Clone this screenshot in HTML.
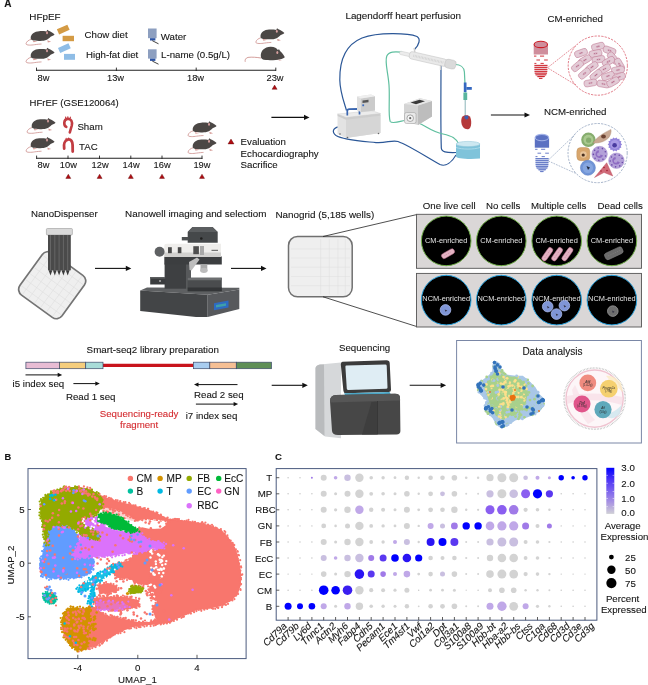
<!DOCTYPE html>
<html><head><meta charset="utf-8"><title>Figure</title>
<style>html,body{margin:0;padding:0;background:#fff;width:648px;height:685px;overflow:hidden}svg{display:block}</style>
</head><body>
<svg width="648" height="685" viewBox="0 0 648 685" fill="#141414" font-family="Liberation Sans, Arial, sans-serif">
<rect width="648" height="685" fill="#fff"/>
<text x="4.3" y="7.3" font-size="10" font-weight="bold" font-family="Liberation Sans, Arial, sans-serif" stroke="#141414" stroke-width="0.1">A</text>
<text x="29.3" y="19.5" font-size="9.9" font-family="Liberation Sans, Arial, sans-serif" stroke="#141414" stroke-width="0.1">HFpEF</text>
<g transform="translate(25.4,29.5) scale(1.020,1.100)"><path d="M5.6,9 C3,9.6 1,11 0.6,13 C0.8,14.6 6,14.3 9,13.8 C12,13.4 14,13.3 15.8,13.2" fill="none" stroke="#c98683" stroke-width="0.7"/><path d="M5.2,8 C5,4 9,1.6 13.6,1.5 C16.5,1.4 19,1.6 20.6,1.8 L21.4,0.3 L22.8,1.2 C25,2 27.5,3.5 28.6,4.6 C27.8,5.6 26,6.2 24.7,6.6 C23.5,8 22,8.8 21,9.4 C19,10.3 17,10.4 14.7,10.4 C11,10.5 8,10.2 6.5,9.6 C5.6,9.2 5.2,8.8 5.2,8 Z" fill="#4b4745"/><ellipse cx="21.2" cy="3" rx="0.9" ry="1.4" fill="#d9a0a0"/><path d="M7.2,10.2 L11.9,10.8 L8,11.6Z M21.5,9.8 L25.2,11.2 L22,11.8Z" fill="#d59a96"/></g>
<g transform="translate(25.4,47.4) scale(1.020,1.100)"><path d="M5.6,9 C3,9.6 1,11 0.6,13 C0.8,14.6 6,14.3 9,13.8 C12,13.4 14,13.3 15.8,13.2" fill="none" stroke="#c98683" stroke-width="0.7"/><path d="M5.2,8 C5,4 9,1.6 13.6,1.5 C16.5,1.4 19,1.6 20.6,1.8 L21.4,0.3 L22.8,1.2 C25,2 27.5,3.5 28.6,4.6 C27.8,5.6 26,6.2 24.7,6.6 C23.5,8 22,8.8 21,9.4 C19,10.3 17,10.4 14.7,10.4 C11,10.5 8,10.2 6.5,9.6 C5.6,9.2 5.2,8.8 5.2,8 Z" fill="#4b4745"/><ellipse cx="21.2" cy="3" rx="0.9" ry="1.4" fill="#d9a0a0"/><path d="M7.2,10.2 L11.9,10.8 L8,11.6Z M21.5,9.8 L25.2,11.2 L22,11.8Z" fill="#d59a96"/></g>
<g transform="translate(255.2,27.9) scale(1.020,1.100)"><path d="M5.6,9 C3,9.6 1,11 0.6,13 C0.8,14.6 6,14.3 9,13.8 C12,13.4 14,13.3 15.8,13.2" fill="none" stroke="#c98683" stroke-width="0.7"/><path d="M5.2,8 C5,4 9,1.6 13.6,1.5 C16.5,1.4 19,1.6 20.6,1.8 L21.4,0.3 L22.8,1.2 C25,2 27.5,3.5 28.6,4.6 C27.8,5.6 26,6.2 24.7,6.6 C23.5,8 22,8.8 21,9.4 C19,10.3 17,10.4 14.7,10.4 C11,10.5 8,10.2 6.5,9.6 C5.6,9.2 5.2,8.8 5.2,8 Z" fill="#4b4745"/><ellipse cx="21.2" cy="3" rx="0.9" ry="1.4" fill="#d9a0a0"/><path d="M7.2,10.2 L11.9,10.8 L8,11.6Z M21.5,9.8 L25.2,11.2 L22,11.8Z" fill="#d59a96"/></g>
<path d="M261,58 C257,57.4 252,56.8 248,57.4 C245.5,58 244.8,60 245.2,61.8" fill="none" stroke="#c98683" stroke-width="0.8"/><path d="M260.8,56 C260.5,51 264.5,46.9 270.5,46.8 C274.5,46.7 276.8,48.2 277.8,50 L279,49.2 L280.3,51.2 C282.5,53.3 284.3,55.5 284.8,57.2 C283.5,58.3 282,58.8 280.5,59.2 C277,60.1 272,60.3 266,60.1 C262.5,59.9 260.8,58.6 260.8,56 Z" fill="#4b4745"/><ellipse cx="277.3" cy="52.4" rx="1" ry="1.5" fill="#d9a0a0"/><path d="M278,59.6 L282,60.4 L279,60.6Z" fill="#d59a96"/>
<rect x="57.5" y="26.8" width="11.5" height="5.6" fill="#d49b45" transform="rotate(-24 63.2 29.6)"/>
<rect x="62.6" y="35.8" width="11.4" height="5.4" fill="#d49b45"/>
<rect x="58.6" y="45.3" width="11.5" height="5.6" fill="#8fbde6" transform="rotate(-24 64.4 48.1)"/>
<rect x="64" y="53.9" width="11" height="5.9" fill="#8fbde6"/>
<text x="84.5" y="38.1" font-size="9.7" font-family="Liberation Sans, Arial, sans-serif" stroke="#141414" stroke-width="0.1">Chow diet</text>
<text x="86" y="58.2" font-size="9.7" font-family="Liberation Sans, Arial, sans-serif" stroke="#141414" stroke-width="0.1">High-fat diet</text>
<rect x="148" y="28.5" width="8.6" height="9.7" fill="#8d9fc0"/>
<rect x="150" y="38.2" width="5.4" height="2.3" fill="#2c53a3"/>
<path d="M152.3,40.7 L158.5,43.8" stroke="#111" stroke-width="0.8"/>
<rect x="148" y="49.3" width="8.6" height="9.3" fill="#8d9fc0"/>
<rect x="150" y="58.6" width="5.4" height="2.3" fill="#2c53a3"/>
<path d="M152.3,61.1 L158.5,64.2" stroke="#111" stroke-width="0.8"/>
<text x="160.8" y="40.1" font-size="9.7" font-family="Liberation Sans, Arial, sans-serif" stroke="#141414" stroke-width="0.1">Water</text>
<text x="161.1" y="57.8" font-size="9.7" font-family="Liberation Sans, Arial, sans-serif" stroke="#141414" stroke-width="0.1">L-name (0.5g/L)</text>
<path d="M36.5,70.3 H276" stroke="#222" stroke-width="1.1"/>
<path d="M36.5,67.6 V71" stroke="#222" stroke-width="0.9"/>
<path d="M116.4,67.6 V71" stroke="#222" stroke-width="0.9"/>
<path d="M196.2,67.6 V71" stroke="#222" stroke-width="0.9"/>
<path d="M275.8,67.6 V71" stroke="#222" stroke-width="0.9"/>
<text x="37.6" y="80.6" font-size="9.3" font-family="Liberation Sans, Arial, sans-serif" stroke="#141414" stroke-width="0.1">8w</text>
<text x="107" y="80.6" font-size="9.3" font-family="Liberation Sans, Arial, sans-serif" stroke="#141414" stroke-width="0.1">13w</text>
<text x="187" y="80.6" font-size="9.3" font-family="Liberation Sans, Arial, sans-serif" stroke="#141414" stroke-width="0.1">18w</text>
<text x="266.5" y="80.6" font-size="9.3" font-family="Liberation Sans, Arial, sans-serif" stroke="#141414" stroke-width="0.1">23w</text>
<path d="M272.10,89.30 L274.60,85.10 L277.10,89.30Z" fill="#b00d12" stroke="#5a0000" stroke-width="0.4"/>
<text x="29.6" y="106.1" font-size="9.55" font-family="Liberation Sans, Arial, sans-serif" stroke="#141414" stroke-width="0.1">HFrEF (GSE120064)</text>
<g transform="translate(26.4,117.7) scale(1.020,1.100)"><path d="M5.6,9 C3,9.6 1,11 0.6,13 C0.8,14.6 6,14.3 9,13.8 C12,13.4 14,13.3 15.8,13.2" fill="none" stroke="#c98683" stroke-width="0.7"/><path d="M5.2,8 C5,4 9,1.6 13.6,1.5 C16.5,1.4 19,1.6 20.6,1.8 L21.4,0.3 L22.8,1.2 C25,2 27.5,3.5 28.6,4.6 C27.8,5.6 26,6.2 24.7,6.6 C23.5,8 22,8.8 21,9.4 C19,10.3 17,10.4 14.7,10.4 C11,10.5 8,10.2 6.5,9.6 C5.6,9.2 5.2,8.8 5.2,8 Z" fill="#4b4745"/><ellipse cx="21.2" cy="3" rx="0.9" ry="1.4" fill="#d9a0a0"/><path d="M7.2,10.2 L11.9,10.8 L8,11.6Z M21.5,9.8 L25.2,11.2 L22,11.8Z" fill="#d59a96"/></g>
<g transform="translate(25.4,136.7) scale(1.020,1.100)"><path d="M5.6,9 C3,9.6 1,11 0.6,13 C0.8,14.6 6,14.3 9,13.8 C12,13.4 14,13.3 15.8,13.2" fill="none" stroke="#c98683" stroke-width="0.7"/><path d="M5.2,8 C5,4 9,1.6 13.6,1.5 C16.5,1.4 19,1.6 20.6,1.8 L21.4,0.3 L22.8,1.2 C25,2 27.5,3.5 28.6,4.6 C27.8,5.6 26,6.2 24.7,6.6 C23.5,8 22,8.8 21,9.4 C19,10.3 17,10.4 14.7,10.4 C11,10.5 8,10.2 6.5,9.6 C5.6,9.2 5.2,8.8 5.2,8 Z" fill="#4b4745"/><ellipse cx="21.2" cy="3" rx="0.9" ry="1.4" fill="#d9a0a0"/><path d="M7.2,10.2 L11.9,10.8 L8,11.6Z M21.5,9.8 L25.2,11.2 L22,11.8Z" fill="#d59a96"/></g>
<g transform="translate(187.4,121) scale(1.020,1.100)"><path d="M5.6,9 C3,9.6 1,11 0.6,13 C0.8,14.6 6,14.3 9,13.8 C12,13.4 14,13.3 15.8,13.2" fill="none" stroke="#c98683" stroke-width="0.7"/><path d="M5.2,8 C5,4 9,1.6 13.6,1.5 C16.5,1.4 19,1.6 20.6,1.8 L21.4,0.3 L22.8,1.2 C25,2 27.5,3.5 28.6,4.6 C27.8,5.6 26,6.2 24.7,6.6 C23.5,8 22,8.8 21,9.4 C19,10.3 17,10.4 14.7,10.4 C11,10.5 8,10.2 6.5,9.6 C5.6,9.2 5.2,8.8 5.2,8 Z" fill="#4b4745"/><ellipse cx="21.2" cy="3" rx="0.9" ry="1.4" fill="#d9a0a0"/><path d="M7.2,10.2 L11.9,10.8 L8,11.6Z M21.5,9.8 L25.2,11.2 L22,11.8Z" fill="#d59a96"/></g>
<g transform="translate(187.4,137.9) scale(1.020,1.100)"><path d="M5.6,9 C3,9.6 1,11 0.6,13 C0.8,14.6 6,14.3 9,13.8 C12,13.4 14,13.3 15.8,13.2" fill="none" stroke="#c98683" stroke-width="0.7"/><path d="M5.2,8 C5,4 9,1.6 13.6,1.5 C16.5,1.4 19,1.6 20.6,1.8 L21.4,0.3 L22.8,1.2 C25,2 27.5,3.5 28.6,4.6 C27.8,5.6 26,6.2 24.7,6.6 C23.5,8 22,8.8 21,9.4 C19,10.3 17,10.4 14.7,10.4 C11,10.5 8,10.2 6.5,9.6 C5.6,9.2 5.2,8.8 5.2,8 Z" fill="#4b4745"/><ellipse cx="21.2" cy="3" rx="0.9" ry="1.4" fill="#d9a0a0"/><path d="M7.2,10.2 L11.9,10.8 L8,11.6Z M21.5,9.8 L25.2,11.2 L22,11.8Z" fill="#d59a96"/></g>
<path d="M66.3,126.8 C63.3,125.3 63.6,119.5 67.4,118.9 C71.3,118.3 72.6,122 71.8,125.5 L69.8,132.4" fill="none" stroke="#c23c42" stroke-width="2.6" stroke-linecap="round"/>
<path d="M65.8,118.5 L65.5,116.6 M67.8,118 L67.9,116.4 M70,118.4 L70.6,116.8" stroke="#c23c42" stroke-width="1.1"/>
<path d="M64.2,148.5 C63.4,144 64.8,140.4 67.8,139.6 C71.2,138.8 72.6,141.8 72.6,145 L72.7,151.6" fill="none" stroke="#c23c42" stroke-width="2.8" stroke-linecap="round"/>
<path d="M66.4,139.6 L66,137.8 M68.5,139.2 L68.7,137.6" stroke="#c23c42" stroke-width="1.1"/>
<text x="77.4" y="130.2" font-size="9.7" font-family="Liberation Sans, Arial, sans-serif" stroke="#141414" stroke-width="0.1">Sham</text>
<text x="79" y="150" font-size="9.7" font-family="Liberation Sans, Arial, sans-serif" stroke="#141414" stroke-width="0.1">TAC</text>
<path d="M36.5,158.3 H202.3" stroke="#222" stroke-width="1.1"/>
<path d="M36.6,155.6 V159" stroke="#222" stroke-width="0.9"/>
<path d="M68,155.6 V159" stroke="#222" stroke-width="0.9"/>
<path d="M99.5,155.6 V159" stroke="#222" stroke-width="0.9"/>
<path d="M130.8,155.6 V159" stroke="#222" stroke-width="0.9"/>
<path d="M162,155.6 V159" stroke="#222" stroke-width="0.9"/>
<path d="M202,155.6 V159" stroke="#222" stroke-width="0.9"/>
<text x="37.6" y="168.4" font-size="9.3" font-family="Liberation Sans, Arial, sans-serif" stroke="#141414" stroke-width="0.1">8w</text>
<text x="59.8" y="168.4" font-size="9.3" font-family="Liberation Sans, Arial, sans-serif" stroke="#141414" stroke-width="0.1">10w</text>
<text x="91.6" y="168.4" font-size="9.3" font-family="Liberation Sans, Arial, sans-serif" stroke="#141414" stroke-width="0.1">12w</text>
<text x="122.6" y="168.4" font-size="9.3" font-family="Liberation Sans, Arial, sans-serif" stroke="#141414" stroke-width="0.1">14w</text>
<text x="153.6" y="168.4" font-size="9.3" font-family="Liberation Sans, Arial, sans-serif" stroke="#141414" stroke-width="0.1">16w</text>
<text x="193.4" y="168.4" font-size="9.3" font-family="Liberation Sans, Arial, sans-serif" stroke="#141414" stroke-width="0.1">19w</text>
<path d="M65.80,178.40 L68.30,174.20 L70.80,178.40Z" fill="#b00d12" stroke="#5a0000" stroke-width="0.4"/>
<path d="M97.10,178.40 L99.60,174.20 L102.10,178.40Z" fill="#b00d12" stroke="#5a0000" stroke-width="0.4"/>
<path d="M128.30,178.40 L130.80,174.20 L133.30,178.40Z" fill="#b00d12" stroke="#5a0000" stroke-width="0.4"/>
<path d="M159.50,178.40 L162.00,174.20 L164.50,178.40Z" fill="#b00d12" stroke="#5a0000" stroke-width="0.4"/>
<path d="M199.50,178.40 L202.00,174.20 L204.50,178.40Z" fill="#b00d12" stroke="#5a0000" stroke-width="0.4"/>
<path d="M228.00,143.90 L231.00,139.10 L234.00,143.90Z" fill="#b00d12" stroke="#5a0000" stroke-width="0.4"/>
<text x="240.6" y="145.1" font-size="9.7" font-family="Liberation Sans, Arial, sans-serif" stroke="#141414" stroke-width="0.1">Evaluation</text>
<text x="240.6" y="156.7" font-size="9.7" font-family="Liberation Sans, Arial, sans-serif" stroke="#141414" stroke-width="0.1">Echocardiography</text>
<text x="240.6" y="168.3" font-size="9.7" font-family="Liberation Sans, Arial, sans-serif" stroke="#141414" stroke-width="0.1">Sacrifice</text>
<path d="M271.4,117.4 H304.5" stroke="#111" stroke-width="1.1"/><path d="M309.5,117.4 L304.0,114.80000000000001 L304.0,120.0Z" fill="#111"/>
<text x="345.4" y="19.3" font-size="9.9" font-family="Liberation Sans, Arial, sans-serif" stroke="#141414" stroke-width="0.1">Lagendorff heart perfusion</text>
<path d="M346.5,110.5 C344,102 340,92 339.8,80 C339.5,62 345,45 362,38 C378,32 408,33 417,36.5 C421,39 419,45 414.5,49.5" fill="none" stroke="#2b5797" stroke-width="1.2"/>
<path d="M338.5,126.8 C333,128 331.5,132 336,135.5 C343,140 360,141 376,142.6 C386,143.5 392,139.5 398,141.5 C410,146 428,158 440,164.5 C446,167 452,162 456,155" fill="none" stroke="#2b5797" stroke-width="1.2"/>
<path d="M441,65 C441,90 440.5,125 441.3,148 C441.5,152 446,152.8 456,152.5" fill="none" stroke="#2b5797" stroke-width="1.2"/>
<path d="M402,52.2 C396,51.8 389,51 386.8,56 C384.5,62 388,72 389,85 C390,100 388,115 390.2,121.5 C392,124 398,122 404.5,120.5" fill="none" stroke="#5fbf9f" stroke-width="1.2"/>
<path d="M455.5,64.5 C460,64.5 464,67 464.4,72 L465,84" fill="none" stroke="#5fbf9f" stroke-width="1.2"/>
<path d="M418.5,123 C426,126 432,132 443,134 C452,136 456,138 459,144.5" fill="none" stroke="#5fbf9f" stroke-width="1.2"/>
<g transform="rotate(12.9 428 59)"><rect x="399" y="57.4" width="12" height="3.4" rx="1.2" fill="#ececec" stroke="#c6c6c6" stroke-width="0.45"/><rect x="409" y="55.3" width="38" height="7.4" rx="2.6" fill="#e9e9e9" stroke="#c2c2c2" stroke-width="0.5"/><path d="M413,59 H444" stroke="#d0d0d0" stroke-width="2.4" stroke-dasharray="0.7 0.8"/><rect x="445.5" y="54.6" width="11" height="8.8" rx="3" fill="#dadada" stroke="#bdbdbd" stroke-width="0.5"/></g>
<path d="M414.2,47.8 L414.8,52.2" stroke="#cfcfcf" stroke-width="1.5"/>
<path d="M440.6,65.5 V70" stroke="#cfcfcf" stroke-width="1.5"/>
<path d="M465.2,92 V116" stroke="#8ab4b8" stroke-width="1"/>
<rect x="463.8" y="82.5" width="2.7" height="9.5" fill="#3467c0"/>
<rect x="466.4" y="87" width="5.4" height="2.8" fill="#3467c0"/>
<rect x="463.4" y="92.5" width="3.8" height="7.5" fill="#5ab59e"/>
<path d="M462.6,116.5 C460.5,119 461,124 463,127 C465,129.5 468.5,130 470,128 C471.8,125 471.5,119 469.8,116.5 C468,114.8 464.5,114.8 462.6,116.5Z" fill="#b5393a"/>
<path d="M464.5,116 C464,118 465.5,120 467,119.5 C469,118.5 468.5,116 467.5,115.5Z" fill="#3c5eb0"/>
<path d="M456,144 V156.2 C456,158.6 468,159.6 480,158.6 V144 Z" fill="#7fc3da"/>
<ellipse cx="468" cy="144" rx="12" ry="2.6" fill="#cde8f1" stroke="#9acbdc" stroke-width="0.6"/>
<path d="M456,147.5 C462,149.6 474,149.6 480,147.5" fill="none" stroke="#b5e0ee" stroke-width="0.8"/>
<path d="M337.5,115.5 L375,113 L380.5,115 L380.5,133 L346,138 L337.5,134 Z" fill="#e3e3e3"/>
<path d="M346,119 L380.5,115.5 L380.5,133 L346,138 Z" fill="#d6d6d6"/>
<path d="M337.5,114 L372,110.8 L380.5,113.5 L346,117.5 Z" fill="#ececec" stroke="#c8c8c8" stroke-width="0.4"/>
<path d="M337.5,114 L346,117.5 L380.5,113.5 L380.5,115.8 L346,119.8 L337.5,116 Z" fill="#cdcdcd"/>
<circle cx="340" cy="134" r="0.8" fill="#666"/><circle cx="347.5" cy="137.6" r="0.8" fill="#666"/><circle cx="378.5" cy="133.5" r="0.8" fill="#666"/>
<path d="M347.3,115.5 V111 Q347.3,109.3 349.3,109.2 L357.5,108.8 Q359.5,108.8 359.5,110.8 V114.5" fill="none" stroke="#3a66b0" stroke-width="1.7"/>
<path d="M357,96.5 L371,94.6 L375,96.3 L375,110.5 L361,112 L357,110.5 Z" fill="#dedede"/>
<path d="M361,98.4 L375,96.3 L375,110.5 L361,112 Z" fill="#cbcbcb"/>
<path d="M357,96.5 L371,94.6 L375,96.3 L361,98.4 Z" fill="#efefef"/>
<rect x="362.5" y="100.5" width="6" height="2.5" fill="#555" transform="skewY(-8)" transform-origin="362.5 100.5"/>
<rect x="362.3" y="104.4" width="1.8" height="1.8" fill="#3b6cc0"/>
<path d="M404,104 L420,98.2 L432,101 L432,116.5 L418,125 L404,121.5 Z" fill="#d4d4d4"/>
<path d="M418,105.5 L432,101 L432,116.5 L418,125 Z" fill="#bdbdbd"/>
<path d="M404,104 L420,98.2 L432,101 L418,105.5 Z" fill="#e6e6e6"/>
<path d="M410.5,102.6 L419.5,99.7 L425,101.3 L416,104.2 Z" fill="#3a3a3a"/>
<rect x="404.5" y="112.5" width="11.5" height="11" rx="2" fill="#e9e9e9" stroke="#999" stroke-width="0.5"/>
<circle cx="410.2" cy="118.2" r="3.3" fill="#f5f5f5" stroke="#777" stroke-width="0.6"/>
<circle cx="410.2" cy="118.2" r="1.1" fill="#666"/>
<path d="M490.9,115 H525.0" stroke="#111" stroke-width="1.1"/><path d="M530,115 L524.5,112.4 L524.5,117.6Z" fill="#111"/>
<text x="547.5" y="22.4" font-size="9.7" font-family="Liberation Sans, Arial, sans-serif" stroke="#141414" stroke-width="0.1">CM-enriched</text>
<text x="544" y="115" font-size="9.7" font-family="Liberation Sans, Arial, sans-serif" stroke="#141414" stroke-width="0.1">NCM-enriched</text>
<rect x="533.6999999999999" y="44.4" width="14.3" height="10.1" fill="#cf8e9c"/><ellipse cx="540.8" cy="44.4" rx="6.7" ry="3.2" fill="#cf8e9c" stroke="#cc1c25" stroke-width="1.1"/><path d="M534.0,56.1 H536.4" stroke="#cc1c25" stroke-width="0.9"/><path d="M540.0,56.1 H544.1" stroke="#cc1c25" stroke-width="0.9"/><path d="M536.4,60.0 H540.0" stroke="#cc1c25" stroke-width="0.9"/><path d="M544.1,60.0 H547.8" stroke="#cc1c25" stroke-width="0.9"/><path d="M534.4,63.4 H536.4" stroke="#cc1c25" stroke-width="0.9"/><path d="M540.5,63.4 H543.8" stroke="#cc1c25" stroke-width="0.9"/><path d="M534.1999999999999,64.7 H547.5999999999999 L547.1999999999999,73.4 C545.8,76.4 542.8,78.9 540.8,79.0 C538.8,78.9 535.8,76.4 534.5999999999999,73.4 Z" fill="#f1d3d8"/><path d="M534.4,65.4 H547.5" stroke="#cc1c25" stroke-width="0.95"/><path d="M534.4,67.4 H547.5" stroke="#cc1c25" stroke-width="0.95"/><path d="M534.4,69.4 H547.4" stroke="#cc1c25" stroke-width="0.95"/><path d="M534.5,71.4 H547.3" stroke="#cc1c25" stroke-width="0.95"/><path d="M534.8,73.2 H547.0" stroke="#cc1c25" stroke-width="0.95"/><path d="M535.5,74.8 H546.3" stroke="#cc1c25" stroke-width="0.95"/><path d="M537.4,76.5 H544.8" stroke="#cc1c25" stroke-width="0.95"/><path d="M539.0,78.4 H542.4" stroke="#cc1c25" stroke-width="0.95"/>
<rect x="534.8" y="137.6" width="14.3" height="10.1" fill="#5b71c2"/><ellipse cx="541.9" cy="137.6" rx="6.7" ry="3.2" fill="#5b71c2" stroke="#a3b3e8" stroke-width="1.1"/><path d="M535.1,149.3 H537.5" stroke="#5b71c2" stroke-width="0.9"/><path d="M541.1,149.3 H545.2" stroke="#5b71c2" stroke-width="0.9"/><path d="M537.5,153.2 H541.1" stroke="#5b71c2" stroke-width="0.9"/><path d="M545.2,153.2 H548.9" stroke="#5b71c2" stroke-width="0.9"/><path d="M535.5,156.6 H537.5" stroke="#5b71c2" stroke-width="0.9"/><path d="M541.6,156.6 H544.9" stroke="#5b71c2" stroke-width="0.9"/><path d="M535.3,157.9 H548.6999999999999 L548.3,166.6 C546.9,169.6 543.9,172.1 541.9,172.2 C539.9,172.1 536.9,169.6 535.6999999999999,166.6 Z" fill="#c9d2f0"/><path d="M535.5,158.6 H548.6" stroke="#5b71c2" stroke-width="0.95"/><path d="M535.5,160.6 H548.6" stroke="#5b71c2" stroke-width="0.95"/><path d="M535.5,162.6 H548.5" stroke="#5b71c2" stroke-width="0.95"/><path d="M535.6,164.6 H548.4" stroke="#5b71c2" stroke-width="0.95"/><path d="M535.9,166.4 H548.1" stroke="#5b71c2" stroke-width="0.95"/><path d="M536.6,168.0 H547.4" stroke="#5b71c2" stroke-width="0.95"/><path d="M538.5,169.7 H545.9" stroke="#5b71c2" stroke-width="0.95"/><path d="M540.1,171.6 H543.5" stroke="#5b71c2" stroke-width="0.95"/>
<circle cx="597.8" cy="65.6" r="29.6" fill="none" stroke="#d44454" stroke-width="0.7" stroke-dasharray="2.2 1.2"/>
<path d="M548.2,67.2 L575.6,45.6 M548.2,68.2 L576.8,85.6" stroke="#d44454" stroke-width="0.6" stroke-dasharray="1.8 1"/>
<g transform="translate(598,46.5) rotate(-15)"><rect x="-6.5" y="-3.3" width="13" height="6.6" rx="2.6" fill="#e3cbd6" stroke="#c27d96" stroke-width="0.55"/><ellipse cx="0" cy="0" rx="2.3" ry="1.1" fill="#d6a9bc"/><circle cx="-0.9" cy="0" r="0.45" fill="#a05070"/><circle cx="0.9" cy="0" r="0.45" fill="#a05070"/></g>
<g transform="translate(609.5,50.5) rotate(20)"><rect x="-6.5" y="-3.3" width="13" height="6.6" rx="2.6" fill="#e3cbd6" stroke="#c27d96" stroke-width="0.55"/><ellipse cx="0" cy="0" rx="2.3" ry="1.1" fill="#d6a9bc"/><circle cx="-0.9" cy="0" r="0.45" fill="#a05070"/><circle cx="0.9" cy="0" r="0.45" fill="#a05070"/></g>
<g transform="translate(581,53) rotate(-20)"><rect x="-6.5" y="-3.3" width="13" height="6.6" rx="2.6" fill="#e3cbd6" stroke="#c27d96" stroke-width="0.55"/><ellipse cx="0" cy="0" rx="2.3" ry="1.1" fill="#d6a9bc"/><circle cx="-0.9" cy="0" r="0.45" fill="#a05070"/><circle cx="0.9" cy="0" r="0.45" fill="#a05070"/></g>
<g transform="translate(595.5,53.5) rotate(-10)"><rect x="-6.5" y="-3.3" width="13" height="6.6" rx="2.6" fill="#e3cbd6" stroke="#c27d96" stroke-width="0.55"/><ellipse cx="0" cy="0" rx="2.3" ry="1.1" fill="#d6a9bc"/><circle cx="-0.9" cy="0" r="0.45" fill="#a05070"/><circle cx="0.9" cy="0" r="0.45" fill="#a05070"/></g>
<g transform="translate(613,58) rotate(50)"><rect x="-6.5" y="-3.3" width="13" height="6.6" rx="2.6" fill="#e3cbd6" stroke="#c27d96" stroke-width="0.55"/><ellipse cx="0" cy="0" rx="2.3" ry="1.1" fill="#d6a9bc"/><circle cx="-0.9" cy="0" r="0.45" fill="#a05070"/><circle cx="0.9" cy="0" r="0.45" fill="#a05070"/></g>
<g transform="translate(585,60) rotate(-30)"><rect x="-6.5" y="-3.3" width="13" height="6.6" rx="2.6" fill="#e3cbd6" stroke="#c27d96" stroke-width="0.55"/><ellipse cx="0" cy="0" rx="2.3" ry="1.1" fill="#d6a9bc"/><circle cx="-0.9" cy="0" r="0.45" fill="#a05070"/><circle cx="0.9" cy="0" r="0.45" fill="#a05070"/></g>
<g transform="translate(598.5,59.5) rotate(-10)"><rect x="-6.5" y="-3.3" width="13" height="6.6" rx="2.6" fill="#e3cbd6" stroke="#c27d96" stroke-width="0.55"/><ellipse cx="0" cy="0" rx="2.3" ry="1.1" fill="#d6a9bc"/><circle cx="-0.9" cy="0" r="0.45" fill="#a05070"/><circle cx="0.9" cy="0" r="0.45" fill="#a05070"/></g>
<g transform="translate(608.5,61.5) rotate(-30)"><rect x="-6.5" y="-3.3" width="13" height="6.6" rx="2.6" fill="#e3cbd6" stroke="#c27d96" stroke-width="0.55"/><ellipse cx="0" cy="0" rx="2.3" ry="1.1" fill="#d6a9bc"/><circle cx="-0.9" cy="0" r="0.45" fill="#a05070"/><circle cx="0.9" cy="0" r="0.45" fill="#a05070"/></g>
<g transform="translate(619.5,64.5) rotate(60)"><rect x="-6.5" y="-3.3" width="13" height="6.6" rx="2.6" fill="#e3cbd6" stroke="#c27d96" stroke-width="0.55"/><ellipse cx="0" cy="0" rx="2.3" ry="1.1" fill="#d6a9bc"/><circle cx="-0.9" cy="0" r="0.45" fill="#a05070"/><circle cx="0.9" cy="0" r="0.45" fill="#a05070"/></g>
<g transform="translate(577.5,66) rotate(-40)"><rect x="-6.5" y="-3.3" width="13" height="6.6" rx="2.6" fill="#e3cbd6" stroke="#c27d96" stroke-width="0.55"/><ellipse cx="0" cy="0" rx="2.3" ry="1.1" fill="#d6a9bc"/><circle cx="-0.9" cy="0" r="0.45" fill="#a05070"/><circle cx="0.9" cy="0" r="0.45" fill="#a05070"/></g>
<g transform="translate(592,67) rotate(-35)"><rect x="-6.5" y="-3.3" width="13" height="6.6" rx="2.6" fill="#e3cbd6" stroke="#c27d96" stroke-width="0.55"/><ellipse cx="0" cy="0" rx="2.3" ry="1.1" fill="#d6a9bc"/><circle cx="-0.9" cy="0" r="0.45" fill="#a05070"/><circle cx="0.9" cy="0" r="0.45" fill="#a05070"/></g>
<g transform="translate(604.5,69) rotate(-30)"><rect x="-6.5" y="-3.3" width="13" height="6.6" rx="2.6" fill="#e3cbd6" stroke="#c27d96" stroke-width="0.55"/><ellipse cx="0" cy="0" rx="2.3" ry="1.1" fill="#d6a9bc"/><circle cx="-0.9" cy="0" r="0.45" fill="#a05070"/><circle cx="0.9" cy="0" r="0.45" fill="#a05070"/></g>
<g transform="translate(618,70) rotate(-10)"><rect x="-6.5" y="-3.3" width="13" height="6.6" rx="2.6" fill="#e3cbd6" stroke="#c27d96" stroke-width="0.55"/><ellipse cx="0" cy="0" rx="2.3" ry="1.1" fill="#d6a9bc"/><circle cx="-0.9" cy="0" r="0.45" fill="#a05070"/><circle cx="0.9" cy="0" r="0.45" fill="#a05070"/></g>
<g transform="translate(584.5,73.5) rotate(-40)"><rect x="-6.5" y="-3.3" width="13" height="6.6" rx="2.6" fill="#e3cbd6" stroke="#c27d96" stroke-width="0.55"/><ellipse cx="0" cy="0" rx="2.3" ry="1.1" fill="#d6a9bc"/><circle cx="-0.9" cy="0" r="0.45" fill="#a05070"/><circle cx="0.9" cy="0" r="0.45" fill="#a05070"/></g>
<g transform="translate(596,75) rotate(-40)"><rect x="-6.5" y="-3.3" width="13" height="6.6" rx="2.6" fill="#e3cbd6" stroke="#c27d96" stroke-width="0.55"/><ellipse cx="0" cy="0" rx="2.3" ry="1.1" fill="#d6a9bc"/><circle cx="-0.9" cy="0" r="0.45" fill="#a05070"/><circle cx="0.9" cy="0" r="0.45" fill="#a05070"/></g>
<g transform="translate(608,76) rotate(-20)"><rect x="-6.5" y="-3.3" width="13" height="6.6" rx="2.6" fill="#e3cbd6" stroke="#c27d96" stroke-width="0.55"/><ellipse cx="0" cy="0" rx="2.3" ry="1.1" fill="#d6a9bc"/><circle cx="-0.9" cy="0" r="0.45" fill="#a05070"/><circle cx="0.9" cy="0" r="0.45" fill="#a05070"/></g>
<g transform="translate(619,77) rotate(-20)"><rect x="-6.5" y="-3.3" width="13" height="6.6" rx="2.6" fill="#e3cbd6" stroke="#c27d96" stroke-width="0.55"/><ellipse cx="0" cy="0" rx="2.3" ry="1.1" fill="#d6a9bc"/><circle cx="-0.9" cy="0" r="0.45" fill="#a05070"/><circle cx="0.9" cy="0" r="0.45" fill="#a05070"/></g>
<g transform="translate(590.5,83) rotate(-10)"><rect x="-6.5" y="-3.3" width="13" height="6.6" rx="2.6" fill="#e3cbd6" stroke="#c27d96" stroke-width="0.55"/><ellipse cx="0" cy="0" rx="2.3" ry="1.1" fill="#d6a9bc"/><circle cx="-0.9" cy="0" r="0.45" fill="#a05070"/><circle cx="0.9" cy="0" r="0.45" fill="#a05070"/></g>
<g transform="translate(603.5,84) rotate(10)"><rect x="-6.5" y="-3.3" width="13" height="6.6" rx="2.6" fill="#e3cbd6" stroke="#c27d96" stroke-width="0.55"/><ellipse cx="0" cy="0" rx="2.3" ry="1.1" fill="#d6a9bc"/><circle cx="-0.9" cy="0" r="0.45" fill="#a05070"/><circle cx="0.9" cy="0" r="0.45" fill="#a05070"/></g>
<g transform="translate(613,82) rotate(-30)"><rect x="-6.5" y="-3.3" width="13" height="6.6" rx="2.6" fill="#e3cbd6" stroke="#c27d96" stroke-width="0.55"/><ellipse cx="0" cy="0" rx="2.3" ry="1.1" fill="#d6a9bc"/><circle cx="-0.9" cy="0" r="0.45" fill="#a05070"/><circle cx="0.9" cy="0" r="0.45" fill="#a05070"/></g>
<circle cx="597.6" cy="153.1" r="29.6" fill="none" stroke="#7f93b3" stroke-width="0.7" stroke-dasharray="2.2 1.2"/>
<path d="M548.4,160 L575.2,134.5 M548.4,161 L576,173.5" stroke="#7f93b3" stroke-width="0.6" stroke-dasharray="1.8 1"/>
<circle cx="588.4" cy="139.8" r="7.2" fill="#86ad6e"/><circle cx="588.4" cy="139.8" r="5" fill="#a9c98f"/><circle cx="588.6" cy="140.2" r="2.6" fill="#86ad6e"/>
<path d="M593,143 C596,138 603,133 611,129.5 C611.5,132 610.5,135.5 608.5,138 C605,141.5 599,143.5 593,143Z" fill="#c9a892" stroke="#a88870" stroke-width="0.4"/><ellipse cx="603.5" cy="136.5" rx="2.4" ry="2" fill="#6d4332"/>
<polygon points="622.10,144.40 620.75,145.74 621.39,147.52 619.59,148.14 619.39,150.03 617.50,149.81 616.50,151.42 614.90,150.40 613.30,151.42 612.30,149.81 610.41,150.03 610.21,148.14 608.41,147.52 609.05,145.74 607.70,144.40 609.05,143.06 608.41,141.28 610.21,140.66 610.41,138.77 612.30,138.99 613.30,137.38 614.90,138.40 616.50,137.38 617.50,138.99 619.39,138.77 619.59,140.66 621.39,141.28 620.75,143.06" fill="#9485dc"/><circle cx="614.9" cy="144.4" r="4.5" fill="#a99be6"/><circle cx="614.6" cy="145.2" r="2.3" fill="#4a3ca0"/>
<rect x="576.8" y="147.5" width="13" height="13.2" rx="4" fill="#d8a66d" stroke="#b88a55" stroke-width="0.4"/><circle cx="583.4" cy="154.6" r="3.3" fill="#e8c49a"/><circle cx="583.2" cy="155" r="1.6" fill="#4a3020"/>
<circle cx="599.6" cy="154.1" r="7.8" fill="#b3a0d8" stroke="#9a84c8" stroke-width="0.4"/><path d="M598.6,150.1 A4,4 0 1,0 603.1,155.6 L600.6,154.6 A1.8,1.8 0 1,1 599.1,152.6 Z" fill="#8e6cc2"/>
<circle cx="605.52" cy="155.93" r="0.8" fill="#6a4aa8"/>
<circle cx="602.96" cy="159.31" r="0.8" fill="#6a4aa8"/>
<circle cx="598.82" cy="160.25" r="0.8" fill="#6a4aa8"/>
<circle cx="595.05" cy="158.31" r="0.8" fill="#6a4aa8"/>
<circle cx="593.41" cy="154.40" r="0.8" fill="#6a4aa8"/>
<circle cx="594.66" cy="150.35" r="0.8" fill="#6a4aa8"/>
<circle cx="598.23" cy="148.05" r="0.8" fill="#6a4aa8"/>
<circle cx="602.43" cy="148.59" r="0.8" fill="#6a4aa8"/>
<circle cx="605.32" cy="151.70" r="0.8" fill="#6a4aa8"/>
<circle cx="616.4" cy="160.7" r="7.8" fill="#b3a0d8" stroke="#9a84c8" stroke-width="0.4"/><path d="M615.4,156.7 A4,4 0 1,0 619.9,162.2 L617.4,161.2 A1.8,1.8 0 1,1 615.9,159.2 Z" fill="#8e6cc2"/>
<circle cx="622.32" cy="162.53" r="0.8" fill="#6a4aa8"/>
<circle cx="619.76" cy="165.91" r="0.8" fill="#6a4aa8"/>
<circle cx="615.62" cy="166.85" r="0.8" fill="#6a4aa8"/>
<circle cx="611.85" cy="164.91" r="0.8" fill="#6a4aa8"/>
<circle cx="610.21" cy="161.00" r="0.8" fill="#6a4aa8"/>
<circle cx="611.46" cy="156.95" r="0.8" fill="#6a4aa8"/>
<circle cx="615.03" cy="154.65" r="0.8" fill="#6a4aa8"/>
<circle cx="619.23" cy="155.19" r="0.8" fill="#6a4aa8"/>
<circle cx="622.12" cy="158.30" r="0.8" fill="#6a4aa8"/>
<circle cx="587.9" cy="167.8" r="7.5" fill="#7094d6" stroke="#5578c0" stroke-width="0.5"/><circle cx="587.9" cy="167.8" r="5.2" fill="#86a6e0"/><path d="M586.5,166 L590,167.5 L588,170 Z" fill="#202a40"/>
<path d="M594.5,177.5 L606.7,162.7 L612.8,176 L604,172.5 Z" fill="#d06a78" stroke="#b84a5a" stroke-width="0.4"/><circle cx="604" cy="167.5" r="0.8" fill="#a02030"/><circle cx="601" cy="171" r="0.8" fill="#a02030"/><circle cx="607" cy="170.5" r="0.8" fill="#a02030"/>
<text x="30.9" y="217" font-size="9.7" font-family="Liberation Sans, Arial, sans-serif" stroke="#141414" stroke-width="0.1">NanoDispenser</text>
<text x="125.1" y="217" font-size="9.87" font-family="Liberation Sans, Arial, sans-serif" stroke="#141414" stroke-width="0.1">Nanowell imaging and selectiom</text>
<text x="275.4" y="217.8" font-size="9.9" font-family="Liberation Sans, Arial, sans-serif" stroke="#141414" stroke-width="0.1">Nanogrid (5,185 wells)</text>
<g transform="rotate(36 52.2 285.2)"><rect x="26.2" y="259.2" width="52" height="52" rx="7" fill="#efefef" stroke="#747474" stroke-width="1.7"/>
<path d="M33.6,260.5 V310 M27.5,266.6 H77" stroke="#dcdcdc" stroke-width="0.5"/>
<path d="M41.1,260.5 V310 M27.5,274.1 H77" stroke="#dcdcdc" stroke-width="0.5"/>
<path d="M48.5,260.5 V310 M27.5,281.5 H77" stroke="#dcdcdc" stroke-width="0.5"/>
<path d="M55.9,260.5 V310 M27.5,288.9 H77" stroke="#dcdcdc" stroke-width="0.5"/>
<path d="M63.3,260.5 V310 M27.5,296.3 H77" stroke="#dcdcdc" stroke-width="0.5"/>
<path d="M70.8,260.5 V310 M27.5,303.8 H77" stroke="#dcdcdc" stroke-width="0.5"/>
</g>
<rect x="46.4" y="228.5" width="26" height="6.5" rx="1" fill="#d9d9d9" stroke="#9a9a9a" stroke-width="0.6"/>
<rect x="48" y="235" width="22.8" height="35.3" fill="#4a4a4a"/>
<path d="M50.5,235 V270.3" stroke="#6a6a6a" stroke-width="0.9"/>
<path d="M48.6,270.3 L50.5,275.6 L52.4,270.3Z" fill="#3a3a3a"/>
<path d="M54.8,235 V270.3" stroke="#6a6a6a" stroke-width="0.9"/>
<path d="M52.9,270.3 L54.8,275.6 L56.699999999999996,270.3Z" fill="#3a3a3a"/>
<path d="M59.1,235 V270.3" stroke="#6a6a6a" stroke-width="0.9"/>
<path d="M57.2,270.3 L59.1,275.6 L61.0,270.3Z" fill="#3a3a3a"/>
<path d="M63.4,235 V270.3" stroke="#6a6a6a" stroke-width="0.9"/>
<path d="M61.5,270.3 L63.4,275.6 L65.3,270.3Z" fill="#3a3a3a"/>
<path d="M67.7,235 V270.3" stroke="#6a6a6a" stroke-width="0.9"/>
<path d="M65.8,270.3 L67.7,275.6 L69.60000000000001,270.3Z" fill="#3a3a3a"/>
<path d="M95,268.4 H126.30000000000001" stroke="#111" stroke-width="1.1"/><path d="M131.3,268.4 L125.80000000000001,265.79999999999995 L125.80000000000001,271.0Z" fill="#111"/>
<path d="M231,268.4 H261.5" stroke="#111" stroke-width="1.1"/><path d="M266.5,268.4 L261.0,265.79999999999995 L261.0,271.0Z" fill="#111"/>
<path d="M140.2,290.5 L147,287.6 L239.3,287.8 L239.3,289.5 L207.7,294.8 Z" fill="#5e6062"/>
<path d="M140.2,290.5 L207.7,294.8 L207.7,317 L196,317 L140.2,311 Z" fill="#434547"/>
<path d="M207.7,294.8 L239.3,289.5 L239.3,309 L207.7,317 Z" fill="#57595c"/>
<path d="M214,303.3 L228.5,300.6 L228.5,307.6 L214,310.3 Z" fill="#2e6bc2"/>
<path d="M216,305 L226,303.2 L226,305.8 L216,307.6 Z" fill="#3fa0a8"/>
<path d="M164.6,263.7 H186 V288.7 H164.6Z" fill="#3e4042"/>
<path d="M186,263.7 H191 V288.7 H186Z" fill="#57595b"/>
<path d="M150.2,277 H165.2 V284.5 H150.2Z" fill="#3a3c3e"/><path d="M150.2,277 H165.2 V278.6 H150.2Z" fill="#5c5e60"/><circle cx="160" cy="281" r="1" fill="#aaa"/>
<path d="M187.7,277.8 H221.8 V291.2 H187.7Z" fill="#4a4c4e"/><path d="M187.7,277.8 H221.8 V280.2 H187.7Z" fill="#6d6f71"/><path d="M187.7,287.5 H221.8 V291.2 H187.7Z" fill="#333537"/>
<path d="M164.3,256.5 H221.8 V264.5 H164.3Z" fill="#3c3e40"/>
<path d="M164.3,246 Q164.3,243.7 167,243.7 H221 V257 H164.3 Z" fill="#efeeec"/>
<path d="M164.3,252.5 H221 V257 H164.3Z" fill="#d2d1cf"/>
<circle cx="159.6" cy="251.8" r="5" fill="#5f6163"/>
<rect x="168" y="247.2" width="3.8" height="6" fill="#4a4a4a"/><rect x="177.8" y="247.2" width="3.6" height="6" fill="#4a4a4a"/><rect x="193.3" y="246.2" width="5.6" height="8" fill="#4e4e4e"/><rect x="200" y="246" width="4" height="9" fill="#a8a8a8"/><rect x="211.5" y="249.8" width="6.5" height="1.1" fill="#666"/>
<path d="M189,262 L197,257.5 L199.5,259.5 L191.5,270.5 L189.5,270 Z" fill="#bdbdbd"/>
<rect x="200.5" y="264.5" width="6.8" height="5" fill="#a9a9a9"/><ellipse cx="203.9" cy="270.3" rx="3.8" ry="2.6" fill="#bcbcbc"/>
<path d="M187.7,232 L192.5,227 L212.5,227 L217.7,232 V242.8 H187.7Z" fill="#45484a"/>
<path d="M187.7,232 L192.5,227 L212.5,227 L217.7,232 Z" fill="#5b5e60"/>
<rect x="181.8" y="237" width="6.8" height="3.4" fill="#4d5052"/><circle cx="201.3" cy="238.5" r="1.3" fill="#1e1e1e"/>
<rect x="288.5" y="236.5" width="63.7" height="60.3" rx="9" fill="#efefef" stroke="#707070" stroke-width="1.5"/>
<path d="M291,248.9 H350" stroke="#dedede" stroke-width="0.5"/>
<path d="M291,258 H350" stroke="#dedede" stroke-width="0.5"/>
<path d="M291,267.2 H350" stroke="#dedede" stroke-width="0.5"/>
<path d="M291,276.5 H350" stroke="#dedede" stroke-width="0.5"/>
<path d="M291,285.7 H350" stroke="#dedede" stroke-width="0.5"/>
<path d="M320.6,239 V294.5" stroke="#dedede" stroke-width="0.5"/>
<path d="M329.3,239 V294.5" stroke="#dedede" stroke-width="0.5"/>
<path d="M337.9,239 V294.5" stroke="#dedede" stroke-width="0.5"/>
<path d="M345.3,239 V294.5" stroke="#dedede" stroke-width="0.5"/>
<path d="M323,236.5 L416.6,214.6 M323,296.8 L416.6,326.5" stroke="#222" stroke-width="0.8"/>
<rect x="416.5" y="214.3" width="225" height="54" fill="#dad7d7" stroke="#555" stroke-width="0.9"/>
<rect x="416.5" y="273.4" width="225" height="53.6" fill="#dad7d7" stroke="#555" stroke-width="0.9"/>
<circle cx="446.2" cy="240.9" r="24.8" fill="#000" stroke="#6fae47" stroke-width="1"/>
<text x="446.2" y="243.4" font-size="7.4" fill="#e6e6e6" text-anchor="middle" font-family="Liberation Sans, Arial, sans-serif">CM-enriched</text>
<circle cx="446.2" cy="300.1" r="24.8" fill="#000" stroke="#2aa3de" stroke-width="1"/>
<text x="446.2" y="301" font-size="7.4" fill="#e6e6e6" text-anchor="middle" font-family="Liberation Sans, Arial, sans-serif">NCM-enriched</text>
<circle cx="501.3" cy="240.9" r="24.8" fill="#000" stroke="#6fae47" stroke-width="1"/>
<text x="501.3" y="243.4" font-size="7.4" fill="#e6e6e6" text-anchor="middle" font-family="Liberation Sans, Arial, sans-serif">CM-enriched</text>
<circle cx="501.3" cy="300.1" r="24.8" fill="#000" stroke="#2aa3de" stroke-width="1"/>
<text x="501.3" y="301" font-size="7.4" fill="#e6e6e6" text-anchor="middle" font-family="Liberation Sans, Arial, sans-serif">NCM-enriched</text>
<circle cx="556.7" cy="240.9" r="24.8" fill="#000" stroke="#6fae47" stroke-width="1"/>
<text x="556.7" y="243.4" font-size="7.4" fill="#e6e6e6" text-anchor="middle" font-family="Liberation Sans, Arial, sans-serif">CM-enriched</text>
<circle cx="556.7" cy="300.1" r="24.8" fill="#000" stroke="#2aa3de" stroke-width="1"/>
<text x="556.7" y="301" font-size="7.4" fill="#e6e6e6" text-anchor="middle" font-family="Liberation Sans, Arial, sans-serif">NCM-enriched</text>
<circle cx="611.9" cy="240.9" r="24.8" fill="#000" stroke="#6fae47" stroke-width="1"/>
<text x="611.9" y="243.4" font-size="7.4" fill="#e6e6e6" text-anchor="middle" font-family="Liberation Sans, Arial, sans-serif">CM-enriched</text>
<circle cx="611.9" cy="300.1" r="24.8" fill="#000" stroke="#2aa3de" stroke-width="1"/>
<text x="611.9" y="301" font-size="7.4" fill="#e6e6e6" text-anchor="middle" font-family="Liberation Sans, Arial, sans-serif">NCM-enriched</text>
<text x="422.8" y="208.8" font-size="9.7" font-family="Liberation Sans, Arial, sans-serif" stroke="#141414" stroke-width="0.1">One live cell</text>
<text x="485.9" y="208.8" font-size="9.7" font-family="Liberation Sans, Arial, sans-serif" stroke="#141414" stroke-width="0.1">No cells</text>
<text x="530.9" y="208.8" font-size="9.7" font-family="Liberation Sans, Arial, sans-serif" stroke="#141414" stroke-width="0.1">Multiple cells</text>
<text x="597.6" y="208.8" font-size="9.7" font-family="Liberation Sans, Arial, sans-serif" stroke="#141414" stroke-width="0.1">Dead cells</text>
<g transform="translate(448,253.7) rotate(-30)"><rect x="-7.0" y="-2.6" width="14" height="5.2" rx="2.4" fill="#e3b3c3" stroke="#c07090" stroke-width="0.5"/><path d="M-4.0,0 H4.0" stroke="#c07090" stroke-width="0.5" stroke-dasharray="1 1"/></g>
<g transform="translate(547.3,254.2) rotate(-55)"><rect x="-7.5" y="-2.6" width="15" height="5.2" rx="2.4" fill="#e3b3c3" stroke="#c07090" stroke-width="0.5"/><path d="M-4.5,0 H4.5" stroke="#c07090" stroke-width="0.5" stroke-dasharray="1 1"/></g>
<g transform="translate(557.1,254.2) rotate(-55)"><rect x="-7.5" y="-2.6" width="15" height="5.2" rx="2.4" fill="#e3b3c3" stroke="#c07090" stroke-width="0.5"/><path d="M-4.5,0 H4.5" stroke="#c07090" stroke-width="0.5" stroke-dasharray="1 1"/></g>
<g transform="translate(567.4,254.2) rotate(-55)"><rect x="-7.5" y="-2.6" width="15" height="5.2" rx="2.4" fill="#e3b3c3" stroke="#c07090" stroke-width="0.5"/><path d="M-4.5,0 H4.5" stroke="#c07090" stroke-width="0.5" stroke-dasharray="1 1"/></g>
<g transform="translate(613.8,253.3) rotate(-25)"><rect x="-9.5" y="-3.5" width="19" height="7" rx="2.4" fill="#6a6a6a" stroke="#888" stroke-width="0.5"/><path d="M-6.5,0 H6.5" stroke="#888" stroke-width="0.5" stroke-dasharray="1 1"/></g>
<circle cx="445.5" cy="309.9" r="5.3" fill="#7f95d6" stroke="#a8b8ea" stroke-width="0.8"/><path d="M444.7,309.4 L447.3,310.5 L445.5,311.7Z" fill="#334"/>
<circle cx="547.7" cy="306.6" r="5.3" fill="#7f95d6" stroke="#a8b8ea" stroke-width="0.8"/><path d="M546.9000000000001,306.1 L549.5,307.20000000000005 L547.7,308.40000000000003Z" fill="#334"/>
<circle cx="564.4" cy="305.6" r="5.3" fill="#7f95d6" stroke="#a8b8ea" stroke-width="0.8"/><path d="M563.6,305.1 L566.1999999999999,306.20000000000005 L564.4,307.40000000000003Z" fill="#334"/>
<circle cx="556.5" cy="314.1" r="5.3" fill="#7f95d6" stroke="#a8b8ea" stroke-width="0.8"/><path d="M555.7,313.6 L558.3,314.70000000000005 L556.5,315.90000000000003Z" fill="#334"/>
<circle cx="612.8" cy="311.1" r="5.3" fill="#6e6e6e" stroke="#999" stroke-width="0.8"/><path d="M612.0,310.6 L614.5999999999999,311.70000000000005 L612.8,312.90000000000003Z" fill="#334"/>
<text x="86.6" y="353.1" font-size="9.8" font-family="Liberation Sans, Arial, sans-serif" stroke="#141414" stroke-width="0.1">Smart-seq2 library preparation</text>
<path d="M103,365.3 H193.4" stroke="#c8141c" stroke-width="3.2"/>
<rect x="25.9" y="362.2" width="33.5" height="6.5" fill="#e8bcd4" stroke="#3d4a6a" stroke-width="0.7"/>
<rect x="59.4" y="362.2" width="26.3" height="6.5" fill="#f5cd7c" stroke="#3d4a6a" stroke-width="0.7"/>
<rect x="85.7" y="362.2" width="17.3" height="6.5" fill="#a8dcd8" stroke="#3d4a6a" stroke-width="0.7"/>
<rect x="193.4" y="362.2" width="16.4" height="6.5" fill="#a9cdf0" stroke="#3d4a6a" stroke-width="0.7"/>
<rect x="209.8" y="362.2" width="26.5" height="6.5" fill="#f6bf94" stroke="#3d4a6a" stroke-width="0.7"/>
<rect x="236.3" y="362.2" width="35.2" height="6.5" fill="#5e8f56" stroke="#3d4a6a" stroke-width="0.7"/>
<path d="M25.5,374.9 H58.2" stroke="#111" stroke-width="1"/><path d="M62.2,374.9 L57.7,372.79999999999995 L57.7,377.0Z" fill="#111"/>
<path d="M73.4,383.6 H95.8" stroke="#111" stroke-width="1"/><path d="M99.8,383.6 L95.3,381.5 L95.3,385.70000000000005Z" fill="#111"/>
<path d="M237.5,384.6 H198.0" stroke="#111" stroke-width="1"/><path d="M194,384.6 L198.5,382.5 L198.5,386.70000000000005Z" fill="#111"/>
<path d="M195.9,404.1 H234.1" stroke="#111" stroke-width="1"/><path d="M238.1,404.1 L233.6,402.0 L233.6,406.20000000000005Z" fill="#111"/>
<text x="12.5" y="387.2" font-size="9.7" font-family="Liberation Sans, Arial, sans-serif" stroke="#141414" stroke-width="0.1">i5 index seq</text>
<text x="65.9" y="399.5" font-size="9.7" font-family="Liberation Sans, Arial, sans-serif" stroke="#141414" stroke-width="0.1">Read 1 seq</text>
<text x="194" y="397.9" font-size="9.7" font-family="Liberation Sans, Arial, sans-serif" stroke="#141414" stroke-width="0.1">Read 2 seq</text>
<text x="185.7" y="418.6" font-size="9.7" font-family="Liberation Sans, Arial, sans-serif" stroke="#141414" stroke-width="0.1">i7 index seq</text>
<text x="139.1" y="417" font-size="9.7" fill="#d42a2f" text-anchor="middle" font-family="Liberation Sans, Arial, sans-serif" stroke="#d42a2f" stroke-width="0.1">Sequencing-ready</text>
<text x="139.1" y="428" font-size="9.7" fill="#d42a2f" text-anchor="middle" font-family="Liberation Sans, Arial, sans-serif" stroke="#d42a2f" stroke-width="0.1">fragment</text>
<path d="M271.7,385.3 H302.8" stroke="#111" stroke-width="1.1"/><path d="M307.8,385.3 L302.3,382.7 L302.3,387.90000000000003Z" fill="#111"/>
<path d="M409.7,385.3 H441.1" stroke="#111" stroke-width="1.1"/><path d="M446.1,385.3 L440.6,382.7 L440.6,387.90000000000003Z" fill="#111"/>
<text x="339" y="351" font-size="9.7" font-family="Liberation Sans, Arial, sans-serif" stroke="#141414" stroke-width="0.1">Sequencing</text>
<path d="M315.5,368 Q316,365.5 320,364.6 L341,362.5 L341,438.3 L325,436.5 L315.5,429 Z" fill="#d6d8da"/>
<path d="M315.5,368 Q316,365.5 320,364.6 L324,364.4 L324.5,436 L315.5,429 Z" fill="#b9bbbd"/>
<path d="M342.5,361.8 L386.5,360.2 Q389.5,360.2 389.7,363 L391,389.5 Q391,392 388.5,392 L346,393.3 Q343.5,393.3 343.4,390.8 L340.8,364.5 Q340.8,361.9 342.5,361.8 Z" fill="#3b3b3b"/>
<path d="M346.3,365.6 L385.3,364.4 Q386.6,364.4 386.7,365.8 L387.5,387.6 Q387.5,388.8 386.2,388.8 L348,389.9 Q346.9,389.9 346.8,388.8 L345.4,366.8 Q345.4,365.6 346.3,365.6 Z" fill="#dfedf4"/>
<path d="M344,393.2 L389.5,392 L391.5,395.6 L346,396.6 Z" fill="#4aa6c6"/>
<path d="M330,401 Q330,395.5 336,395 L395,393.8 Q400,393.8 400,398 L400.4,431 Q400.4,434.4 396.5,434.4 L338,435 Q332.5,435 332,431 Z" fill="#474747"/>
<path d="M330,401 Q330,395.5 336,395 L395,393.8 Q400,393.8 400,398 L400.1,400.6 L330.2,402.5 Z" fill="#565656"/>
<path d="M377.5,401 V434.4" stroke="#333" stroke-width="0.8"/>
<path d="M362,434.6 L371.5,402 L377,401.8 L377,434.4Z" fill="#3e3e3e"/>
<rect x="456.6" y="340.5" width="184.8" height="102.5" fill="#fff" stroke="#7a87a6" stroke-width="1"/>
<text x="522.4" y="354.9" font-size="10" font-family="Liberation Sans, Arial, sans-serif" stroke="#141414" stroke-width="0.1">Data analysis</text>
<path d="M494.3,360.6 L499.9,363.3 L501.3,368.9 L506.1,374.4 L515.8,375.8 L522.8,375.8 L528.3,380 L535.3,387 L539.4,393.9 L545,399.4 L543.6,406.4 L539.4,412 L531.1,416.1 L522.8,418.9 L515.8,420.3 L508.9,424.4 L504.7,427.2 L500.6,427.9 L496.4,425.1 L492.2,417.5 L485.3,411.9 L483.9,406.4 L486.7,400.8 L482.5,396.7 L478.3,392.5 L476.9,382.8 L482.5,380 L488.1,375.8 L492.2,371.7 L492.9,363.3Z" fill="#a9c7e7"/>
<path d="M496,370 L505,376 L518,377 L525,383 L528,392 L526,402 L521,411 L512,416 L503,419 L496,416 L490,405 L487,395 L484,386 L490,378Z" fill="#a8d18c"/>
<circle cx="519.4" cy="410.7" r="1.4" fill="#a9c7e7"/>
<circle cx="479.0" cy="392.2" r="1.4" fill="#a9c7e7"/>
<circle cx="484.7" cy="392.4" r="1.4" fill="#a9c7e7"/>
<circle cx="494.0" cy="410.0" r="1.4" fill="#fde08c"/>
<circle cx="496.0" cy="422.4" r="1.4" fill="#a8d18c"/>
<circle cx="486.4" cy="402.4" r="1.4" fill="#a9c7e7"/>
<circle cx="488.3" cy="382.0" r="1.4" fill="#a8d18c"/>
<circle cx="513.7" cy="406.4" r="1.4" fill="#fde08c"/>
<circle cx="505.2" cy="423.7" r="1.4" fill="#a9c7e7"/>
<circle cx="481.4" cy="381.2" r="1.4" fill="#a8d18c"/>
<circle cx="516.9" cy="400.9" r="1.4" fill="#a8d18c"/>
<circle cx="481.5" cy="384.8" r="1.4" fill="#a9c7e7"/>
<circle cx="509.7" cy="382.2" r="1.4" fill="#a8d18c"/>
<circle cx="504.5" cy="397.8" r="1.4" fill="#a8d18c"/>
<circle cx="501.9" cy="399.8" r="1.4" fill="#fde08c"/>
<circle cx="507.8" cy="408.4" r="1.4" fill="#a9c7e7"/>
<circle cx="501.1" cy="396.2" r="1.4" fill="#a8d18c"/>
<circle cx="483.2" cy="383.8" r="1.4" fill="#a8d18c"/>
<circle cx="501.7" cy="370.9" r="1.4" fill="#a9c7e7"/>
<circle cx="539.8" cy="397.5" r="1.4" fill="#a9c7e7"/>
<circle cx="523.6" cy="381.5" r="1.4" fill="#a9c7e7"/>
<circle cx="519.6" cy="409.3" r="1.4" fill="#a8d18c"/>
<circle cx="513.3" cy="388.2" r="1.4" fill="#fde08c"/>
<circle cx="527.4" cy="384.0" r="1.4" fill="#a9c7e7"/>
<circle cx="508.0" cy="389.3" r="1.4" fill="#fde08c"/>
<circle cx="543.6" cy="403.8" r="1.4" fill="#a8d18c"/>
<circle cx="499.7" cy="374.9" r="1.4" fill="#a9c7e7"/>
<circle cx="541.6" cy="403.2" r="1.4" fill="#a8d18c"/>
<circle cx="484.3" cy="390.1" r="1.4" fill="#a9c7e7"/>
<circle cx="481.0" cy="389.2" r="1.4" fill="#a9c7e7"/>
<circle cx="507.8" cy="393.7" r="1.4" fill="#a8d18c"/>
<circle cx="509.6" cy="380.5" r="1.4" fill="#a8d18c"/>
<circle cx="532.9" cy="396.6" r="1.4" fill="#a9c7e7"/>
<circle cx="519.6" cy="394.5" r="1.4" fill="#a8d18c"/>
<circle cx="489.2" cy="394.0" r="1.4" fill="#a9c7e7"/>
<circle cx="501.6" cy="413.7" r="1.4" fill="#a8d18c"/>
<circle cx="524.2" cy="405.5" r="1.4" fill="#a9c7e7"/>
<circle cx="501.7" cy="408.2" r="1.4" fill="#a8d18c"/>
<circle cx="509.3" cy="412.8" r="1.4" fill="#a8d18c"/>
<circle cx="522.7" cy="392.0" r="1.4" fill="#a8d18c"/>
<circle cx="500.7" cy="404.2" r="1.4" fill="#fde08c"/>
<circle cx="500.8" cy="417.5" r="1.4" fill="#fde08c"/>
<circle cx="512.2" cy="396.5" r="1.4" fill="#fde08c"/>
<circle cx="490.5" cy="385.3" r="1.4" fill="#fde08c"/>
<circle cx="496.2" cy="366.3" r="1.4" fill="#a8d18c"/>
<circle cx="488.7" cy="413.3" r="1.4" fill="#a8d18c"/>
<circle cx="497.6" cy="398.1" r="1.4" fill="#a8d18c"/>
<circle cx="487.9" cy="390.6" r="1.4" fill="#a8d18c"/>
<circle cx="491.9" cy="407.0" r="1.4" fill="#a8d18c"/>
<circle cx="509.8" cy="397.7" r="1.4" fill="#a8d18c"/>
<circle cx="508.6" cy="386.5" r="1.4" fill="#fde08c"/>
<circle cx="517.1" cy="376.9" r="1.4" fill="#a8d18c"/>
<circle cx="495.9" cy="388.5" r="1.4" fill="#a8d18c"/>
<circle cx="523.8" cy="397.7" r="1.4" fill="#fde08c"/>
<circle cx="514.4" cy="381.2" r="1.4" fill="#a8d18c"/>
<circle cx="514.1" cy="383.7" r="1.4" fill="#a8d18c"/>
<circle cx="505.5" cy="415.5" r="1.4" fill="#a9c7e7"/>
<circle cx="502.1" cy="370.5" r="1.4" fill="#a8d18c"/>
<circle cx="503.0" cy="393.0" r="1.4" fill="#fde08c"/>
<circle cx="542.8" cy="401.8" r="1.4" fill="#a9c7e7"/>
<circle cx="532.8" cy="405.3" r="1.4" fill="#a8d18c"/>
<circle cx="502.6" cy="389.9" r="1.4" fill="#fde08c"/>
<circle cx="510.6" cy="393.1" r="1.4" fill="#a8d18c"/>
<circle cx="503.1" cy="418.3" r="1.4" fill="#a8d18c"/>
<circle cx="517.5" cy="378.4" r="1.4" fill="#a8d18c"/>
<circle cx="510.7" cy="388.8" r="1.4" fill="#a8d18c"/>
<circle cx="503.7" cy="393.2" r="1.4" fill="#a8d18c"/>
<circle cx="493.6" cy="392.8" r="1.4" fill="#a8d18c"/>
<circle cx="493.7" cy="378.9" r="1.4" fill="#a8d18c"/>
<circle cx="526.1" cy="380.1" r="1.4" fill="#a8d18c"/>
<circle cx="518.3" cy="392.8" r="1.4" fill="#fde08c"/>
<circle cx="496.2" cy="408.4" r="1.4" fill="#a9c7e7"/>
<circle cx="497.2" cy="396.5" r="1.4" fill="#fde08c"/>
<circle cx="500.8" cy="406.7" r="1.4" fill="#a9c7e7"/>
<circle cx="514.6" cy="406.9" r="1.4" fill="#fde08c"/>
<circle cx="537.4" cy="397.6" r="1.4" fill="#a9c7e7"/>
<circle cx="506.2" cy="415.1" r="1.4" fill="#a9c7e7"/>
<circle cx="516.1" cy="408.4" r="1.4" fill="#fde08c"/>
<circle cx="509.3" cy="406.7" r="1.4" fill="#fde08c"/>
<circle cx="538.1" cy="392.2" r="1.4" fill="#a9c7e7"/>
<circle cx="530.0" cy="400.0" r="1.4" fill="#a8d18c"/>
<circle cx="509.5" cy="397.8" r="1.4" fill="#a8d18c"/>
<circle cx="505.9" cy="397.3" r="1.4" fill="#fde08c"/>
<circle cx="532.7" cy="414.0" r="1.4" fill="#a9c7e7"/>
<circle cx="499.6" cy="389.8" r="1.4" fill="#fde08c"/>
<circle cx="491.9" cy="404.3" r="1.4" fill="#a8d18c"/>
<circle cx="496.9" cy="422.5" r="1.4" fill="#a9c7e7"/>
<circle cx="491.5" cy="398.2" r="1.4" fill="#fde08c"/>
<circle cx="527.7" cy="379.8" r="1.4" fill="#a8d18c"/>
<circle cx="516.1" cy="410.7" r="1.4" fill="#a9c7e7"/>
<circle cx="486.1" cy="389.9" r="1.4" fill="#a8d18c"/>
<circle cx="523.6" cy="393.8" r="1.4" fill="#a8d18c"/>
<circle cx="487.3" cy="403.3" r="1.4" fill="#a8d18c"/>
<circle cx="496.7" cy="424.1" r="1.4" fill="#a8d18c"/>
<circle cx="519.2" cy="378.6" r="1.4" fill="#a9c7e7"/>
<circle cx="493.0" cy="416.8" r="1.4" fill="#a9c7e7"/>
<circle cx="492.9" cy="385.9" r="1.4" fill="#fde08c"/>
<circle cx="489.2" cy="408.8" r="1.4" fill="#a9c7e7"/>
<circle cx="517.4" cy="377.0" r="1.4" fill="#fde08c"/>
<circle cx="509.7" cy="382.7" r="1.4" fill="#fde08c"/>
<circle cx="513.9" cy="386.8" r="1.4" fill="#fde08c"/>
<circle cx="531.0" cy="411.2" r="1.4" fill="#a9c7e7"/>
<circle cx="543.1" cy="405.6" r="1.4" fill="#a9c7e7"/>
<circle cx="486.5" cy="402.9" r="1.4" fill="#a9c7e7"/>
<circle cx="540.3" cy="408.3" r="1.4" fill="#a8d18c"/>
<circle cx="502.7" cy="409.4" r="1.4" fill="#a8d18c"/>
<circle cx="521.1" cy="414.9" r="1.4" fill="#a8d18c"/>
<circle cx="491.6" cy="373.1" r="1.4" fill="#a9c7e7"/>
<circle cx="537.5" cy="393.2" r="1.4" fill="#a9c7e7"/>
<circle cx="537.5" cy="402.5" r="1.4" fill="#a8d18c"/>
<circle cx="499.0" cy="391.9" r="1.4" fill="#fde08c"/>
<circle cx="502.5" cy="386.8" r="1.4" fill="#a8d18c"/>
<circle cx="487.3" cy="378.0" r="1.4" fill="#a9c7e7"/>
<circle cx="532.7" cy="411.3" r="1.4" fill="#a9c7e7"/>
<circle cx="500.4" cy="411.4" r="1.4" fill="#a8d18c"/>
<circle cx="540.8" cy="407.1" r="1.4" fill="#a8d18c"/>
<circle cx="485.0" cy="405.8" r="1.4" fill="#a9c7e7"/>
<circle cx="507.9" cy="377.1" r="1.4" fill="#a8d18c"/>
<circle cx="516.1" cy="405.0" r="1.4" fill="#a8d18c"/>
<circle cx="539.0" cy="408.3" r="1.4" fill="#a9c7e7"/>
<circle cx="489.5" cy="385.2" r="1.4" fill="#a8d18c"/>
<circle cx="526.8" cy="409.1" r="1.4" fill="#a9c7e7"/>
<circle cx="518.4" cy="409.7" r="1.4" fill="#a8d18c"/>
<circle cx="530.0" cy="388.5" r="1.4" fill="#a9c7e7"/>
<circle cx="533.9" cy="398.9" r="1.4" fill="#a9c7e7"/>
<circle cx="509.0" cy="406.7" r="1.4" fill="#fde08c"/>
<circle cx="510.8" cy="413.4" r="1.4" fill="#a8d18c"/>
<circle cx="494.4" cy="388.3" r="1.4" fill="#a8d18c"/>
<circle cx="524.3" cy="403.9" r="1.4" fill="#a8d18c"/>
<circle cx="498.3" cy="368.2" r="1.4" fill="#a8d18c"/>
<circle cx="519.5" cy="390.6" r="1.4" fill="#a8d18c"/>
<circle cx="510.1" cy="399.3" r="1.4" fill="#a8d18c"/>
<circle cx="486.4" cy="393.4" r="1.4" fill="#a9c7e7"/>
<circle cx="493.6" cy="366.6" r="1.4" fill="#a8d18c"/>
<circle cx="542.8" cy="405.6" r="1.4" fill="#a9c7e7"/>
<circle cx="496.4" cy="386.0" r="1.4" fill="#a8d18c"/>
<circle cx="502.8" cy="412.5" r="1.4" fill="#a8d18c"/>
<circle cx="537.9" cy="404.8" r="1.4" fill="#a9c7e7"/>
<circle cx="516.1" cy="390.6" r="1.4" fill="#fde08c"/>
<circle cx="526.5" cy="408.0" r="1.4" fill="#a9c7e7"/>
<circle cx="515.2" cy="382.5" r="1.4" fill="#a8d18c"/>
<circle cx="488.5" cy="378.6" r="1.4" fill="#a9c7e7"/>
<circle cx="496.4" cy="365.3" r="1.4" fill="#a8d18c"/>
<circle cx="506.6" cy="378.3" r="1.4" fill="#a9c7e7"/>
<circle cx="501.4" cy="371.9" r="1.4" fill="#a8d18c"/>
<circle cx="533.2" cy="409.7" r="1.4" fill="#a9c7e7"/>
<circle cx="495.2" cy="401.6" r="1.4" fill="#a8d18c"/>
<circle cx="507.3" cy="423.9" r="1.4" fill="#a8d18c"/>
<circle cx="485.0" cy="382.2" r="1.4" fill="#a9c7e7"/>
<circle cx="508.3" cy="390.1" r="1.4" fill="#a8d18c"/>
<circle cx="487.9" cy="392.7" r="1.4" fill="#fde08c"/>
<circle cx="532.4" cy="389.1" r="1.4" fill="#a9c7e7"/>
<circle cx="524.9" cy="384.7" r="1.4" fill="#fde08c"/>
<circle cx="491.7" cy="379.6" r="1.4" fill="#a8d18c"/>
<circle cx="497.6" cy="395.6" r="1.4" fill="#a8d18c"/>
<circle cx="501.9" cy="415.2" r="1.4" fill="#a8d18c"/>
<circle cx="519.0" cy="387.9" r="1.4" fill="#fde08c"/>
<circle cx="486.7" cy="377.0" r="1.4" fill="#a8d18c"/>
<circle cx="519.4" cy="414.6" r="1.4" fill="#a8d18c"/>
<circle cx="518.2" cy="402.6" r="1.4" fill="#a8d18c"/>
<circle cx="518.5" cy="395.4" r="1.4" fill="#a8d18c"/>
<circle cx="514.1" cy="407.3" r="1.4" fill="#a8d18c"/>
<circle cx="539.8" cy="407.4" r="1.4" fill="#a9c7e7"/>
<circle cx="513.5" cy="414.5" r="1.4" fill="#a8d18c"/>
<circle cx="496.5" cy="362.8" r="1.4" fill="#a9c7e7"/>
<circle cx="518.5" cy="418.8" r="1.4" fill="#a8d18c"/>
<circle cx="497.9" cy="423.3" r="1.4" fill="#a9c7e7"/>
<circle cx="500.9" cy="414.7" r="1.4" fill="#a9c7e7"/>
<circle cx="512.1" cy="421.0" r="1.4" fill="#a9c7e7"/>
<circle cx="500.3" cy="413.6" r="1.4" fill="#fde08c"/>
<circle cx="503.5" cy="372.9" r="1.4" fill="#a8d18c"/>
<circle cx="518.7" cy="386.9" r="1.4" fill="#fde08c"/>
<circle cx="493.9" cy="367.7" r="1.4" fill="#a9c7e7"/>
<circle cx="497.8" cy="378.9" r="1.4" fill="#a9c7e7"/>
<circle cx="482.2" cy="388.7" r="1.4" fill="#a9c7e7"/>
<circle cx="515.5" cy="416.6" r="1.4" fill="#a8d18c"/>
<circle cx="526.5" cy="388.9" r="1.4" fill="#fde08c"/>
<circle cx="509.9" cy="400.9" r="1.4" fill="#fde08c"/>
<circle cx="497.6" cy="379.8" r="1.4" fill="#a9c7e7"/>
<circle cx="497.1" cy="398.2" r="1.4" fill="#a9c7e7"/>
<circle cx="517.4" cy="404.3" r="1.4" fill="#a8d18c"/>
<circle cx="510.0" cy="416.9" r="1.4" fill="#a9c7e7"/>
<circle cx="498.7" cy="418.0" r="1.4" fill="#a8d18c"/>
<circle cx="524.4" cy="417.3" r="1.4" fill="#a8d18c"/>
<circle cx="499.8" cy="385.6" r="1.4" fill="#a8d18c"/>
<circle cx="516.1" cy="390.6" r="1.4" fill="#a8d18c"/>
<circle cx="532.5" cy="414.8" r="1.4" fill="#a8d18c"/>
<circle cx="542.1" cy="402.9" r="1.4" fill="#a9c7e7"/>
<circle cx="501.8" cy="415.6" r="1.4" fill="#a8d18c"/>
<circle cx="491.0" cy="386.1" r="1.4" fill="#fde08c"/>
<circle cx="500.3" cy="410.7" r="1.4" fill="#fde08c"/>
<circle cx="528.7" cy="409.3" r="1.4" fill="#a9c7e7"/>
<circle cx="490.3" cy="384.0" r="1.4" fill="#a8d18c"/>
<circle cx="496.8" cy="394.4" r="1.4" fill="#a8d18c"/>
<circle cx="516.1" cy="380.8" r="1.4" fill="#a8d18c"/>
<circle cx="506.4" cy="375.8" r="1.4" fill="#a9c7e7"/>
<circle cx="495.4" cy="409.2" r="1.4" fill="#a8d18c"/>
<circle cx="495.4" cy="367.4" r="1.4" fill="#a8d18c"/>
<circle cx="493.7" cy="391.3" r="1.4" fill="#a8d18c"/>
<circle cx="529.1" cy="385.2" r="1.4" fill="#a9c7e7"/>
<circle cx="490.2" cy="414.8" r="1.4" fill="#a9c7e7"/>
<circle cx="523.7" cy="395.0" r="1.4" fill="#fde08c"/>
<circle cx="487.9" cy="412.6" r="1.4" fill="#a8d18c"/>
<circle cx="506.6" cy="400.8" r="1.4" fill="#fde08c"/>
<circle cx="491.7" cy="389.2" r="1.4" fill="#fde08c"/>
<circle cx="506.4" cy="421.2" r="1.4" fill="#a9c7e7"/>
<circle cx="530.1" cy="389.3" r="1.4" fill="#a9c7e7"/>
<circle cx="505.7" cy="379.2" r="1.4" fill="#fde08c"/>
<circle cx="520.1" cy="412.5" r="1.4" fill="#a8d18c"/>
<circle cx="479.4" cy="388.4" r="1.4" fill="#a9c7e7"/>
<circle cx="489.6" cy="389.7" r="1.4" fill="#a8d18c"/>
<circle cx="485.9" cy="404.8" r="1.4" fill="#a9c7e7"/>
<circle cx="502.5" cy="385.7" r="1.4" fill="#a8d18c"/>
<circle cx="514.2" cy="390.7" r="1.4" fill="#fde08c"/>
<circle cx="503.2" cy="376.9" r="1.4" fill="#a8d18c"/>
<circle cx="505.5" cy="394.8" r="1.4" fill="#fde08c"/>
<circle cx="503.2" cy="384.2" r="1.4" fill="#fde08c"/>
<circle cx="514.9" cy="390.5" r="1.4" fill="#fde08c"/>
<circle cx="502.2" cy="396.5" r="1.4" fill="#a8d18c"/>
<circle cx="482.3" cy="391.1" r="1.4" fill="#a9c7e7"/>
<circle cx="513.0" cy="387.0" r="1.4" fill="#a8d18c"/>
<circle cx="532.6" cy="386.0" r="1.4" fill="#a8d18c"/>
<circle cx="486.4" cy="384.5" r="1.4" fill="#fde08c"/>
<circle cx="500.2" cy="415.6" r="1.4" fill="#fde08c"/>
<circle cx="530.3" cy="410.7" r="1.4" fill="#a9c7e7"/>
<circle cx="494.1" cy="362.7" r="1.4" fill="#a9c7e7"/>
<circle cx="503.4" cy="403.1" r="1.4" fill="#fde08c"/>
<circle cx="524.7" cy="400.7" r="1.4" fill="#fde08c"/>
<circle cx="517.4" cy="398.9" r="1.4" fill="#a8d18c"/>
<circle cx="510.6" cy="419.4" r="1.4" fill="#a9c7e7"/>
<circle cx="478.8" cy="388.6" r="1.4" fill="#a8d18c"/>
<circle cx="526.0" cy="402.0" r="1.4" fill="#a8d18c"/>
<circle cx="516.2" cy="396.9" r="1.4" fill="#fde08c"/>
<circle cx="525.0" cy="409.2" r="1.4" fill="#a8d18c"/>
<circle cx="508.3" cy="404.5" r="1.4" fill="#fde08c"/>
<circle cx="542.0" cy="406.5" r="1.4" fill="#a9c7e7"/>
<circle cx="494.6" cy="381.0" r="1.4" fill="#a8d18c"/>
<circle cx="521.7" cy="394.4" r="1.4" fill="#a8d18c"/>
<circle cx="505.9" cy="402.6" r="1.4" fill="#a8d18c"/>
<circle cx="510.4" cy="407.0" r="1.4" fill="#a8d18c"/>
<circle cx="478.2" cy="390.1" r="1.4" fill="#a8d18c"/>
<circle cx="510.6" cy="396.9" r="1.4" fill="#fde08c"/>
<circle cx="514.8" cy="405.4" r="1.4" fill="#a8d18c"/>
<circle cx="514.6" cy="377.8" r="1.4" fill="#a8d18c"/>
<circle cx="497.0" cy="368.2" r="1.4" fill="#a9c7e7"/>
<circle cx="505.9" cy="417.7" r="1.4" fill="#a9c7e7"/>
<circle cx="495.0" cy="403.2" r="1.4" fill="#a8d18c"/>
<circle cx="529.4" cy="383.5" r="1.4" fill="#a9c7e7"/>
<circle cx="529.8" cy="397.4" r="1.4" fill="#a9c7e7"/>
<circle cx="520.3" cy="409.5" r="1.4" fill="#a8d18c"/>
<circle cx="496.9" cy="383.6" r="1.4" fill="#fde08c"/>
<circle cx="481.3" cy="381.2" r="1.4" fill="#a9c7e7"/>
<circle cx="504.6" cy="391.9" r="1.4" fill="#fde08c"/>
<circle cx="515.4" cy="380.4" r="1.4" fill="#fde08c"/>
<circle cx="523.4" cy="382.7" r="1.4" fill="#a8d18c"/>
<circle cx="484.8" cy="397.0" r="1.4" fill="#a9c7e7"/>
<circle cx="521.5" cy="405.5" r="1.4" fill="#fde08c"/>
<circle cx="506.7" cy="379.2" r="1.4" fill="#a9c7e7"/>
<circle cx="507.9" cy="416.0" r="1.4" fill="#a8d18c"/>
<circle cx="491.2" cy="395.5" r="1.4" fill="#a8d18c"/>
<circle cx="503.0" cy="403.5" r="1.4" fill="#fde08c"/>
<circle cx="499.1" cy="415.3" r="1.4" fill="#a9c7e7"/>
<circle cx="481.8" cy="381.5" r="1.4" fill="#a8d18c"/>
<circle cx="497.8" cy="398.0" r="1.4" fill="#a9c7e7"/>
<circle cx="520.2" cy="378.1" r="1.4" fill="#a9c7e7"/>
<circle cx="509.0" cy="411.8" r="1.4" fill="#a9c7e7"/>
<circle cx="508.1" cy="424.7" r="1.4" fill="#a9c7e7"/>
<circle cx="507.3" cy="376.7" r="1.4" fill="#a8d18c"/>
<circle cx="507.4" cy="402.5" r="1.4" fill="#fde08c"/>
<circle cx="531.5" cy="393.3" r="1.4" fill="#a9c7e7"/>
<circle cx="516.5" cy="377.9" r="1.4" fill="#a8d18c"/>
<circle cx="524.4" cy="397.3" r="1.4" fill="#fde08c"/>
<circle cx="516.3" cy="393.2" r="1.4" fill="#a8d18c"/>
<circle cx="536.5" cy="395.9" r="1.4" fill="#a8d18c"/>
<circle cx="496.2" cy="383.4" r="1.4" fill="#a8d18c"/>
<circle cx="486.0" cy="389.1" r="1.4" fill="#fde08c"/>
<circle cx="502.2" cy="412.8" r="1.4" fill="#a8d18c"/>
<circle cx="521.5" cy="411.7" r="1.4" fill="#a9c7e7"/>
<circle cx="498.2" cy="418.2" r="1.4" fill="#a9c7e7"/>
<circle cx="505.6" cy="417.1" r="1.4" fill="#fde08c"/>
<circle cx="500.1" cy="410.0" r="1.4" fill="#a9c7e7"/>
<circle cx="499.3" cy="407.2" r="1.4" fill="#a8d18c"/>
<circle cx="487.8" cy="394.1" r="1.4" fill="#a8d18c"/>
<circle cx="513.7" cy="393.3" r="1.4" fill="#a8d18c"/>
<circle cx="513.4" cy="393.1" r="1.4" fill="#fde08c"/>
<circle cx="488.6" cy="395.0" r="1.4" fill="#fde08c"/>
<circle cx="521.3" cy="386.8" r="1.4" fill="#fde08c"/>
<circle cx="490.9" cy="376.8" r="1.4" fill="#a8d18c"/>
<circle cx="527.6" cy="394.8" r="1.4" fill="#a8d18c"/>
<circle cx="516.6" cy="375.9" r="1.4" fill="#a9c7e7"/>
<circle cx="502.4" cy="401.0" r="1.4" fill="#a8d18c"/>
<circle cx="530.4" cy="409.7" r="1.4" fill="#a9c7e7"/>
<circle cx="505.9" cy="392.1" r="1.4" fill="#fde08c"/>
<circle cx="508.2" cy="390.4" r="1.4" fill="#a8d18c"/>
<circle cx="509.4" cy="396.0" r="1.4" fill="#fde08c"/>
<circle cx="529.3" cy="407.8" r="1.4" fill="#a8d18c"/>
<circle cx="519.4" cy="416.9" r="1.4" fill="#a8d18c"/>
<circle cx="521.3" cy="390.7" r="1.4" fill="#fde08c"/>
<circle cx="490.7" cy="396.8" r="1.4" fill="#a8d18c"/>
<circle cx="488.7" cy="387.5" r="1.4" fill="#a8d18c"/>
<circle cx="506.1" cy="381.1" r="1.4" fill="#fde08c"/>
<circle cx="503.6" cy="412.7" r="1.4" fill="#a8d18c"/>
<circle cx="537.8" cy="407.2" r="1.4" fill="#a9c7e7"/>
<circle cx="495.6" cy="396.2" r="1.4" fill="#a8d18c"/>
<circle cx="523.4" cy="412.1" r="1.4" fill="#a9c7e7"/>
<circle cx="505.3" cy="405.2" r="1.4" fill="#a8d18c"/>
<circle cx="516.6" cy="409.0" r="1.4" fill="#a8d18c"/>
<circle cx="490.1" cy="396.7" r="1.4" fill="#a8d18c"/>
<circle cx="518.2" cy="385.3" r="1.4" fill="#fde08c"/>
<circle cx="514.0" cy="408.3" r="1.4" fill="#a8d18c"/>
<circle cx="527.5" cy="408.0" r="1.4" fill="#a8d18c"/>
<circle cx="499.2" cy="422.9" r="1.4" fill="#a9c7e7"/>
<circle cx="510.2" cy="385.6" r="1.4" fill="#fde08c"/>
<circle cx="526.2" cy="385.8" r="1.4" fill="#a8d18c"/>
<circle cx="495.0" cy="399.3" r="1.4" fill="#a8d18c"/>
<circle cx="518.3" cy="397.0" r="1.4" fill="#fde08c"/>
<circle cx="503.7" cy="398.4" r="1.4" fill="#fde08c"/>
<circle cx="492.6" cy="380.7" r="1.4" fill="#a9c7e7"/>
<circle cx="491.9" cy="405.6" r="1.4" fill="#a9c7e7"/>
<circle cx="498.3" cy="366.4" r="1.4" fill="#a9c7e7"/>
<circle cx="504.7" cy="382.5" r="1.4" fill="#fde08c"/>
<circle cx="498.0" cy="406.4" r="1.4" fill="#a8d18c"/>
<circle cx="510.1" cy="419.9" r="1.4" fill="#a9c7e7"/>
<circle cx="495.9" cy="391.1" r="1.4" fill="#a8d18c"/>
<circle cx="502.6" cy="388.7" r="1.4" fill="#fde08c"/>
<circle cx="500.5" cy="424.3" r="1.4" fill="#a9c7e7"/>
<circle cx="499.1" cy="416.6" r="1.4" fill="#fde08c"/>
<circle cx="499.3" cy="407.0" r="1.4" fill="#fde08c"/>
<circle cx="498.0" cy="391.8" r="1.4" fill="#a9c7e7"/>
<circle cx="512.8" cy="395.4" r="1.4" fill="#fde08c"/>
<circle cx="534.5" cy="399.2" r="1.4" fill="#a8d18c"/>
<circle cx="505.1" cy="374.2" r="1.4" fill="#a8d18c"/>
<circle cx="481.3" cy="382.6" r="1.4" fill="#a9c7e7"/>
<circle cx="497.8" cy="385.5" r="1.4" fill="#a9c7e7"/>
<circle cx="497.8" cy="399.0" r="1.4" fill="#a9c7e7"/>
<circle cx="519.6" cy="380.1" r="1.4" fill="#a8d18c"/>
<circle cx="479.3" cy="391.6" r="1.4" fill="#a9c7e7"/>
<circle cx="524.2" cy="396.4" r="1.4" fill="#a8d18c"/>
<circle cx="534.2" cy="402.5" r="1.4" fill="#a9c7e7"/>
<circle cx="489.1" cy="392.8" r="1.4" fill="#a8d18c"/>
<circle cx="506.8" cy="379.3" r="1.4" fill="#a8d18c"/>
<circle cx="503.5" cy="418.4" r="1.4" fill="#a8d18c"/>
<circle cx="485.9" cy="411.1" r="1.4" fill="#a8d18c"/>
<circle cx="508.1" cy="379.6" r="1.4" fill="#a8d18c"/>
<circle cx="523.5" cy="382.1" r="1.4" fill="#a8d18c"/>
<circle cx="519.1" cy="390.3" r="1.4" fill="#a8d18c"/>
<circle cx="485.1" cy="386.3" r="1.4" fill="#a8d18c"/>
<circle cx="532.6" cy="405.2" r="1.4" fill="#a9c7e7"/>
<circle cx="484.7" cy="398.2" r="1.4" fill="#a9c7e7"/>
<circle cx="500.0" cy="402.0" r="1.4" fill="#a8d18c"/>
<circle cx="499.4" cy="382.1" r="1.4" fill="#a8d18c"/>
<circle cx="493.8" cy="365.4" r="1.4" fill="#a9c7e7"/>
<circle cx="500.9" cy="383.6" r="1.4" fill="#fde08c"/>
<circle cx="488.5" cy="379.1" r="1.4" fill="#a9c7e7"/>
<circle cx="503.6" cy="377.1" r="1.4" fill="#fde08c"/>
<circle cx="534.0" cy="412.4" r="1.4" fill="#a8d18c"/>
<circle cx="526.6" cy="410.0" r="1.4" fill="#a8d18c"/>
<circle cx="491.8" cy="405.6" r="1.4" fill="#a8d18c"/>
<circle cx="496.2" cy="363.4" r="1.4" fill="#a9c7e7"/>
<circle cx="498.7" cy="377.2" r="1.4" fill="#a9c7e7"/>
<circle cx="510.1" cy="417.1" r="1.4" fill="#a9c7e7"/>
<circle cx="517.3" cy="382.6" r="1.4" fill="#a8d18c"/>
<circle cx="501.0" cy="378.9" r="1.4" fill="#a8d18c"/>
<circle cx="535.1" cy="414.0" r="1.4" fill="#a9c7e7"/>
<circle cx="507.8" cy="406.9" r="1.4" fill="#fde08c"/>
<circle cx="497.5" cy="376.3" r="1.4" fill="#a8d18c"/>
<circle cx="503.0" cy="404.3" r="1.4" fill="#fde08c"/>
<circle cx="496.2" cy="410.0" r="1.4" fill="#a8d18c"/>
<circle cx="518.2" cy="402.2" r="1.4" fill="#a8d18c"/>
<circle cx="492.1" cy="390.4" r="1.4" fill="#a8d18c"/>
<circle cx="489.7" cy="392.2" r="1.4" fill="#a9c7e7"/>
<circle cx="521.2" cy="406.3" r="1.4" fill="#a8d18c"/>
<circle cx="487.9" cy="413.7" r="1.4" fill="#a8d18c"/>
<circle cx="496.0" cy="392.5" r="1.4" fill="#a9c7e7"/>
<circle cx="518.2" cy="383.6" r="1.4" fill="#fde08c"/>
<circle cx="507.3" cy="398.5" r="1.4" fill="#fde08c"/>
<circle cx="527.4" cy="401.9" r="1.4" fill="#a9c7e7"/>
<circle cx="525.7" cy="379.6" r="1.4" fill="#a9c7e7"/>
<circle cx="482.4" cy="384.6" r="1.4" fill="#a9c7e7"/>
<circle cx="492.6" cy="379.8" r="1.4" fill="#fde08c"/>
<circle cx="507.1" cy="378.3" r="1.4" fill="#fde08c"/>
<circle cx="503.9" cy="426.6" r="1.4" fill="#a8d18c"/>
<circle cx="522.4" cy="409.3" r="1.4" fill="#a8d18c"/>
<circle cx="506.3" cy="415.1" r="1.4" fill="#a8d18c"/>
<circle cx="539.9" cy="408.4" r="1.4" fill="#a9c7e7"/>
<circle cx="515.5" cy="413.6" r="1.4" fill="#a8d18c"/>
<circle cx="505.4" cy="393.1" r="1.4" fill="#fde08c"/>
<circle cx="529.0" cy="392.4" r="1.4" fill="#a8d18c"/>
<circle cx="507.1" cy="399.0" r="1.4" fill="#fde08c"/>
<circle cx="499.0" cy="408.8" r="1.4" fill="#a8d18c"/>
<circle cx="521.3" cy="397.2" r="1.4" fill="#fde08c"/>
<circle cx="510.1" cy="402.2" r="1.4" fill="#fde08c"/>
<circle cx="506.0" cy="422.2" r="1.4" fill="#a9c7e7"/>
<circle cx="528.4" cy="383.4" r="1.4" fill="#a8d18c"/>
<circle cx="513.2" cy="405.7" r="1.4" fill="#a8d18c"/>
<circle cx="510.6" cy="394.1" r="1.4" fill="#a8d18c"/>
<circle cx="498.7" cy="394.5" r="1.4" fill="#fde08c"/>
<circle cx="490.8" cy="397.7" r="1.4" fill="#a8d18c"/>
<circle cx="495.9" cy="381.0" r="1.4" fill="#a8d18c"/>
<circle cx="510.7" cy="422.7" r="1.4" fill="#a9c7e7"/>
<circle cx="499.3" cy="378.4" r="1.4" fill="#a8d18c"/>
<circle cx="506.7" cy="382.1" r="1.4" fill="#fde08c"/>
<circle cx="493.1" cy="380.2" r="1.4" fill="#a8d18c"/>
<circle cx="494.0" cy="380.6" r="1.4" fill="#a9c7e7"/>
<circle cx="512.6" cy="379.0" r="1.4" fill="#a8d18c"/>
<circle cx="522.4" cy="418.9" r="1.4" fill="#a9c7e7"/>
<circle cx="506.9" cy="412.3" r="1.4" fill="#a9c7e7"/>
<circle cx="499.2" cy="373.3" r="1.4" fill="#fde08c"/>
<circle cx="527.1" cy="415.3" r="1.4" fill="#a9c7e7"/>
<circle cx="498.3" cy="398.5" r="1.4" fill="#a8d18c"/>
<circle cx="514.7" cy="381.4" r="1.4" fill="#fde08c"/>
<circle cx="506.7" cy="425.6" r="1.4" fill="#a9c7e7"/>
<circle cx="507.8" cy="381.8" r="1.4" fill="#a8d18c"/>
<circle cx="483.7" cy="395.9" r="1.4" fill="#a9c7e7"/>
<circle cx="493.6" cy="389.3" r="1.4" fill="#a8d18c"/>
<circle cx="516.6" cy="404.0" r="1.4" fill="#a8d18c"/>
<circle cx="512.6" cy="406.1" r="1.4" fill="#a8d18c"/>
<circle cx="512.4" cy="385.6" r="1.4" fill="#fde08c"/>
<circle cx="519.0" cy="388.7" r="1.4" fill="#a8d18c"/>
<circle cx="499.9" cy="376.6" r="1.4" fill="#a8d18c"/>
<path d="M510,395.5 L514,394.5 L516,397 L514.5,400.5 L511,401 L509.5,398Z" fill="#e8700e"/>
<circle cx="515" cy="390" r="0.9" fill="#e8700e"/><circle cx="520" cy="388" r="0.8" fill="#e8700e"/><circle cx="490" cy="392" r="0.9" fill="#e8700e"/><circle cx="539" cy="411" r="0.9" fill="#e8700e"/>
<circle cx="483.7" cy="385.1" r="1.8" fill="#3373bb"/>
<circle cx="478.3" cy="386.9" r="1.8" fill="#3373bb"/>
<circle cx="478.5" cy="385.1" r="1.8" fill="#3373bb"/>
<circle cx="481.4" cy="390.7" r="1.8" fill="#3373bb"/>
<circle cx="480.9" cy="390.9" r="1.8" fill="#3373bb"/>
<circle cx="480.0" cy="388.4" r="1.8" fill="#3373bb"/>
<circle cx="480.2" cy="383.4" r="1.8" fill="#3373bb"/>
<circle cx="477.9" cy="384.9" r="1.8" fill="#3373bb"/>
<circle cx="480.6" cy="390.0" r="1.8" fill="#3373bb"/>
<circle cx="486.2" cy="407.8" r="1.8" fill="#3373bb"/>
<circle cx="490.5" cy="411.2" r="1.8" fill="#3373bb"/>
<circle cx="488.4" cy="406.8" r="1.8" fill="#3373bb"/>
<circle cx="492.6" cy="412.7" r="1.8" fill="#3373bb"/>
<circle cx="490.2" cy="409.6" r="1.8" fill="#3373bb"/>
<circle cx="491.9" cy="408.6" r="1.8" fill="#3373bb"/>
<circle cx="486.3" cy="407.9" r="1.8" fill="#3373bb"/>
<circle cx="485.9" cy="408.7" r="1.8" fill="#3373bb"/>
<circle cx="485.6" cy="408.7" r="1.8" fill="#3373bb"/>
<circle cx="502.3" cy="421.9" r="1.8" fill="#3373bb"/>
<circle cx="501.9" cy="426.8" r="1.8" fill="#3373bb"/>
<circle cx="499.0" cy="423.1" r="1.8" fill="#3373bb"/>
<circle cx="502.3" cy="422.0" r="1.8" fill="#3373bb"/>
<circle cx="499.5" cy="423.2" r="1.8" fill="#3373bb"/>
<circle cx="502.9" cy="422.0" r="1.8" fill="#3373bb"/>
<circle cx="503.3" cy="425.8" r="1.8" fill="#3373bb"/>
<circle cx="500.0" cy="422.3" r="1.8" fill="#3373bb"/>
<circle cx="541.5" cy="400.6" r="1.8" fill="#3373bb"/>
<circle cx="542.7" cy="399.5" r="1.8" fill="#3373bb"/>
<circle cx="539.3" cy="402.1" r="1.8" fill="#3373bb"/>
<circle cx="543.2" cy="400.2" r="1.8" fill="#3373bb"/>
<circle cx="538.6" cy="402.4" r="1.8" fill="#3373bb"/>
<circle cx="543.1" cy="400.6" r="1.8" fill="#3373bb"/>
<circle cx="496.2" cy="371.1" r="1.8" fill="#3373bb"/>
<circle cx="497.4" cy="364.9" r="1.8" fill="#3373bb"/>
<circle cx="500.0" cy="367.0" r="1.8" fill="#3373bb"/>
<circle cx="495.2" cy="368.5" r="1.8" fill="#3373bb"/>
<circle cx="533.3" cy="409.9" r="1.8" fill="#3373bb"/>
<circle cx="532.4" cy="408.9" r="1.8" fill="#3373bb"/>
<circle cx="533.0" cy="413.0" r="1.8" fill="#3373bb"/>
<circle cx="494.5" cy="362.5" r="1.8" fill="#3373bb"/>
<circle cx="495.0" cy="367.0" r="1.8" fill="#3373bb"/>
<circle cx="496.0" cy="371.0" r="1.8" fill="#3373bb"/>
<circle cx="497.5" cy="374.0" r="1.8" fill="#3373bb"/>
<circle cx="503.0" cy="387.0" r="1.8" fill="#3373bb"/>
<circle cx="524.0" cy="388.0" r="1.8" fill="#3373bb"/>
<circle cx="538.0" cy="396.0" r="1.8" fill="#3373bb"/>
<circle cx="531.0" cy="414.0" r="1.8" fill="#3373bb"/>
<circle cx="527.0" cy="407.0" r="1.8" fill="#3373bb"/>
<circle cx="512.0" cy="410.0" r="1.8" fill="#3373bb"/>
<circle cx="594.6" cy="398.6" r="30.6" fill="#fff" stroke="#b9b9b9" stroke-width="1.6" stroke-dasharray="0.6 0.9"/>
<circle cx="594.6" cy="398.6" r="28.6" fill="#fdf6f8" stroke="#efc3d0" stroke-width="1.4"/>
<path d="M567,404 C585,398 605,400 622,405 L622,397 C605,393 585,392 567,396Z" fill="#f7dde6" opacity="0.7"/>
<path d="M606,376 C614,384 620,390 623,392 L621,383 C617,378 611,375 606,376Z" fill="#fbecc4" opacity="0.8"/>
<path d="M603,414 C611,414 618,410 622,404 L620,414 C614,420 607,419 603,414Z" fill="#d3e8ee" opacity="0.9"/>
<path d="M575,385 C580,395 585,410 595,420 L588,424 C580,415 574,400 572,390Z" fill="#f9e3ea" opacity="0.8"/>
<circle cx="587.8" cy="382.9" r="8.4" fill="#f08c80"/>
<text x="587.8" y="382.7" font-size="3" font-style="italic" text-anchor="middle" fill="#2a2a2a" font-family="Liberation Sans, Arial, sans-serif">Atf4</text>
<text x="587.8" y="386.09999999999997" font-size="3" text-anchor="middle" fill="#2a2a2a" font-family="Liberation Sans, Arial, sans-serif">(1.02g)</text>
<circle cx="608.8" cy="388.7" r="8.9" fill="#f5d070"/>
<text x="608.8" y="388.5" font-size="3" font-style="italic" text-anchor="middle" fill="#2a2a2a" font-family="Liberation Sans, Arial, sans-serif">Ppargc1a</text>
<text x="608.8" y="391.9" font-size="3" text-anchor="middle" fill="#2a2a2a" font-family="Liberation Sans, Arial, sans-serif">(79g)</text>
<circle cx="582" cy="403.9" r="8.5" fill="#e0558a"/>
<text x="582" y="403.7" font-size="3" font-style="italic" text-anchor="middle" fill="#2a2a2a" font-family="Liberation Sans, Arial, sans-serif">Zfp4</text>
<text x="582" y="407.09999999999997" font-size="3" text-anchor="middle" fill="#2a2a2a" font-family="Liberation Sans, Arial, sans-serif">(4.78g)</text>
<circle cx="603" cy="409.6" r="8.6" fill="#5fa9bb"/>
<text x="603" y="409.40000000000003" font-size="3" font-style="italic" text-anchor="middle" fill="#2a2a2a" font-family="Liberation Sans, Arial, sans-serif">Atf</text>
<text x="603" y="412.8" font-size="3" text-anchor="middle" fill="#2a2a2a" font-family="Liberation Sans, Arial, sans-serif">(50g)</text>
<text x="4.5" y="460" font-size="9.3" font-weight="bold" font-family="Liberation Sans, Arial, sans-serif" stroke="#141414" stroke-width="0.1">B</text>
<defs><clipPath id="umc"><rect x="28" y="468.6" width="217.8" height="189.6"/></clipPath></defs>
<g clip-path="url(#umc)">
<path d="M72.0,488.0 L80.0,487.0 L90.0,489.0 L98.0,494.0 L106.7,497.6 L117.8,501.2 L131.7,504.7 L145.6,508.8 L156.7,513.0 L167.8,518.6 L180.0,520.0 L170.0,522.0 L160.0,520.0 L150.0,519.0 L142.8,519.5 L136.0,520.5 L129.0,515.5 L118.0,510.0 L104.0,507.0 L99.0,505.0 L88.0,500.0 L78.0,496.0Z" fill="#F8766D"/>
<circle cx="71.9" cy="488.2" r="1.1" fill="#F8766D"/>
<circle cx="74.8" cy="487.7" r="1.1" fill="#F8766D"/>
<circle cx="75.2" cy="487.8" r="1.1" fill="#F8766D"/>
<circle cx="75.9" cy="487.4" r="1.1" fill="#F8766D"/>
<circle cx="78.8" cy="488.0" r="1.1" fill="#F8766D"/>
<circle cx="78.9" cy="486.4" r="1.1" fill="#F8766D"/>
<circle cx="80.5" cy="488.2" r="1.1" fill="#F8766D"/>
<circle cx="83.9" cy="486.4" r="1.1" fill="#F8766D"/>
<circle cx="86.4" cy="489.3" r="1.1" fill="#F8766D"/>
<circle cx="87.1" cy="488.7" r="1.1" fill="#F8766D"/>
<circle cx="87.4" cy="487.3" r="1.1" fill="#F8766D"/>
<circle cx="90.1" cy="487.8" r="1.1" fill="#F8766D"/>
<circle cx="90.7" cy="489.3" r="1.1" fill="#F8766D"/>
<circle cx="91.9" cy="490.9" r="1.1" fill="#F8766D"/>
<circle cx="94.6" cy="493.0" r="1.1" fill="#F8766D"/>
<circle cx="96.5" cy="493.4" r="1.1" fill="#F8766D"/>
<circle cx="98.0" cy="494.5" r="1.1" fill="#F8766D"/>
<circle cx="99.6" cy="494.1" r="1.1" fill="#F8766D"/>
<circle cx="102.9" cy="496.8" r="1.1" fill="#F8766D"/>
<circle cx="104.2" cy="496.7" r="1.1" fill="#F8766D"/>
<circle cx="104.4" cy="496.1" r="1.1" fill="#F8766D"/>
<circle cx="106.1" cy="496.4" r="1.1" fill="#F8766D"/>
<circle cx="109.0" cy="497.8" r="1.1" fill="#F8766D"/>
<circle cx="110.8" cy="498.3" r="1.1" fill="#F8766D"/>
<circle cx="112.7" cy="500.1" r="1.1" fill="#F8766D"/>
<circle cx="111.6" cy="498.8" r="1.1" fill="#F8766D"/>
<circle cx="115.8" cy="500.1" r="1.1" fill="#F8766D"/>
<circle cx="117.6" cy="500.4" r="1.1" fill="#F8766D"/>
<circle cx="116.6" cy="501.6" r="1.1" fill="#F8766D"/>
<circle cx="120.3" cy="501.0" r="1.1" fill="#F8766D"/>
<circle cx="120.1" cy="501.6" r="1.1" fill="#F8766D"/>
<circle cx="124.3" cy="503.2" r="1.1" fill="#F8766D"/>
<circle cx="123.7" cy="502.2" r="1.1" fill="#F8766D"/>
<circle cx="125.4" cy="502.2" r="1.1" fill="#F8766D"/>
<circle cx="129.1" cy="502.9" r="1.1" fill="#F8766D"/>
<circle cx="130.1" cy="504.1" r="1.1" fill="#F8766D"/>
<circle cx="130.8" cy="505.3" r="1.1" fill="#F8766D"/>
<circle cx="132.2" cy="505.6" r="1.1" fill="#F8766D"/>
<circle cx="133.7" cy="505.4" r="1.1" fill="#F8766D"/>
<circle cx="135.5" cy="505.4" r="1.1" fill="#F8766D"/>
<circle cx="139.2" cy="507.4" r="1.1" fill="#F8766D"/>
<circle cx="138.9" cy="508.1" r="1.1" fill="#F8766D"/>
<circle cx="140.2" cy="507.1" r="1.1" fill="#F8766D"/>
<circle cx="143.5" cy="508.3" r="1.1" fill="#F8766D"/>
<circle cx="142.9" cy="509.7" r="1.1" fill="#F8766D"/>
<circle cx="144.8" cy="508.1" r="1.1" fill="#F8766D"/>
<circle cx="147.9" cy="508.9" r="1.1" fill="#F8766D"/>
<circle cx="148.2" cy="508.8" r="1.1" fill="#F8766D"/>
<circle cx="149.2" cy="510.8" r="1.1" fill="#F8766D"/>
<circle cx="151.2" cy="511.5" r="1.1" fill="#F8766D"/>
<circle cx="153.2" cy="511.7" r="1.1" fill="#F8766D"/>
<circle cx="156.4" cy="512.4" r="1.1" fill="#F8766D"/>
<circle cx="156.9" cy="514.0" r="1.1" fill="#F8766D"/>
<circle cx="157.4" cy="512.8" r="1.1" fill="#F8766D"/>
<circle cx="161.0" cy="515.5" r="1.1" fill="#F8766D"/>
<circle cx="160.8" cy="514.5" r="1.1" fill="#F8766D"/>
<circle cx="163.7" cy="517.4" r="1.1" fill="#F8766D"/>
<circle cx="163.8" cy="518.3" r="1.1" fill="#F8766D"/>
<circle cx="167.3" cy="518.1" r="1.1" fill="#F8766D"/>
<circle cx="167.6" cy="517.5" r="1.1" fill="#F8766D"/>
<circle cx="168.3" cy="520.1" r="1.1" fill="#F8766D"/>
<circle cx="170.6" cy="519.6" r="1.1" fill="#F8766D"/>
<circle cx="172.3" cy="520.1" r="1.1" fill="#F8766D"/>
<circle cx="175.0" cy="518.8" r="1.1" fill="#F8766D"/>
<circle cx="175.6" cy="520.2" r="1.1" fill="#F8766D"/>
<circle cx="177.0" cy="519.0" r="1.1" fill="#F8766D"/>
<circle cx="180.2" cy="521.0" r="1.1" fill="#F8766D"/>
<circle cx="178.7" cy="519.7" r="1.1" fill="#F8766D"/>
<circle cx="177.8" cy="519.8" r="1.1" fill="#F8766D"/>
<circle cx="173.6" cy="520.4" r="1.1" fill="#F8766D"/>
<circle cx="173.2" cy="520.1" r="1.1" fill="#F8766D"/>
<circle cx="170.8" cy="521.3" r="1.1" fill="#F8766D"/>
<circle cx="170.2" cy="521.0" r="1.1" fill="#F8766D"/>
<circle cx="167.9" cy="522.8" r="1.1" fill="#F8766D"/>
<circle cx="168.0" cy="521.8" r="1.1" fill="#F8766D"/>
<circle cx="165.5" cy="521.2" r="1.1" fill="#F8766D"/>
<circle cx="162.3" cy="519.4" r="1.1" fill="#F8766D"/>
<circle cx="160.3" cy="521.5" r="1.1" fill="#F8766D"/>
<circle cx="160.6" cy="521.3" r="1.1" fill="#F8766D"/>
<circle cx="157.0" cy="520.2" r="1.1" fill="#F8766D"/>
<circle cx="156.6" cy="520.3" r="1.1" fill="#F8766D"/>
<circle cx="154.5" cy="520.9" r="1.1" fill="#F8766D"/>
<circle cx="152.1" cy="519.5" r="1.1" fill="#F8766D"/>
<circle cx="152.3" cy="520.3" r="1.1" fill="#F8766D"/>
<circle cx="150.7" cy="519.6" r="1.1" fill="#F8766D"/>
<circle cx="149.0" cy="520.3" r="1.1" fill="#F8766D"/>
<circle cx="146.0" cy="519.8" r="1.1" fill="#F8766D"/>
<circle cx="145.7" cy="520.4" r="1.1" fill="#F8766D"/>
<circle cx="142.6" cy="520.3" r="1.1" fill="#F8766D"/>
<circle cx="142.1" cy="520.0" r="1.1" fill="#F8766D"/>
<circle cx="139.7" cy="519.7" r="1.1" fill="#F8766D"/>
<circle cx="137.9" cy="520.6" r="1.1" fill="#F8766D"/>
<circle cx="134.8" cy="520.9" r="1.1" fill="#F8766D"/>
<circle cx="136.0" cy="520.6" r="1.1" fill="#F8766D"/>
<circle cx="133.8" cy="518.2" r="1.1" fill="#F8766D"/>
<circle cx="132.5" cy="517.7" r="1.1" fill="#F8766D"/>
<circle cx="130.2" cy="517.4" r="1.1" fill="#F8766D"/>
<circle cx="127.8" cy="516.2" r="1.1" fill="#F8766D"/>
<circle cx="126.1" cy="515.0" r="1.1" fill="#F8766D"/>
<circle cx="125.8" cy="513.2" r="1.1" fill="#F8766D"/>
<circle cx="124.8" cy="513.1" r="1.1" fill="#F8766D"/>
<circle cx="123.0" cy="513.5" r="1.1" fill="#F8766D"/>
<circle cx="120.5" cy="510.2" r="1.1" fill="#F8766D"/>
<circle cx="119.0" cy="511.3" r="1.1" fill="#F8766D"/>
<circle cx="117.2" cy="509.1" r="1.1" fill="#F8766D"/>
<circle cx="117.4" cy="510.1" r="1.1" fill="#F8766D"/>
<circle cx="114.3" cy="510.3" r="1.1" fill="#F8766D"/>
<circle cx="112.3" cy="509.3" r="1.1" fill="#F8766D"/>
<circle cx="110.2" cy="508.3" r="1.1" fill="#F8766D"/>
<circle cx="110.1" cy="509.3" r="1.1" fill="#F8766D"/>
<circle cx="108.6" cy="507.4" r="1.1" fill="#F8766D"/>
<circle cx="106.0" cy="506.9" r="1.1" fill="#F8766D"/>
<circle cx="103.0" cy="507.0" r="1.1" fill="#F8766D"/>
<circle cx="103.3" cy="507.3" r="1.1" fill="#F8766D"/>
<circle cx="101.3" cy="506.9" r="1.1" fill="#F8766D"/>
<circle cx="98.4" cy="504.1" r="1.1" fill="#F8766D"/>
<circle cx="97.3" cy="503.7" r="1.1" fill="#F8766D"/>
<circle cx="95.1" cy="503.3" r="1.1" fill="#F8766D"/>
<circle cx="94.6" cy="502.8" r="1.1" fill="#F8766D"/>
<circle cx="92.2" cy="503.1" r="1.1" fill="#F8766D"/>
<circle cx="92.5" cy="501.3" r="1.1" fill="#F8766D"/>
<circle cx="88.4" cy="499.4" r="1.1" fill="#F8766D"/>
<circle cx="89.0" cy="498.7" r="1.1" fill="#F8766D"/>
<circle cx="86.9" cy="499.5" r="1.1" fill="#F8766D"/>
<circle cx="84.1" cy="499.5" r="1.1" fill="#F8766D"/>
<circle cx="81.7" cy="497.0" r="1.1" fill="#F8766D"/>
<circle cx="81.2" cy="496.0" r="1.1" fill="#F8766D"/>
<circle cx="80.6" cy="495.9" r="1.1" fill="#F8766D"/>
<circle cx="77.0" cy="494.7" r="1.1" fill="#F8766D"/>
<circle cx="77.4" cy="494.5" r="1.1" fill="#F8766D"/>
<circle cx="76.4" cy="493.8" r="1.1" fill="#F8766D"/>
<circle cx="75.9" cy="493.3" r="1.1" fill="#F8766D"/>
<circle cx="74.5" cy="489.8" r="1.1" fill="#F8766D"/>
<circle cx="72.9" cy="488.4" r="1.1" fill="#F8766D"/>
<path d="M137.0,529.0 L145.0,527.0 L152.0,528.5 L162.0,528.0 L168.0,521.0 L180.0,520.0 L189.0,521.2 L202.0,523.0 L213.0,526.6 L221.0,529.6 L228.0,537.0 L233.6,544.5 L237.5,554.0 L239.5,563.0 L241.0,572.0 L241.0,584.0 L238.2,593.3 L231.7,600.7 L220.6,606.3 L207.6,609.1 L196.5,610.0 L189.1,613.7 L180.0,617.4 L168.7,623.0 L159.5,624.0 L156.0,619.0 L153.0,612.0 L152.0,606.0 L157.0,603.0 L155.0,596.0 L154.0,588.0 L158.0,580.0 L164.0,576.0 L167.5,565.0 L166.0,553.0 L160.0,548.0 L150.0,545.0 L140.0,540.0Z" fill="#F8766D"/>
<circle cx="135.6" cy="528.9" r="1.1" fill="#F8766D"/>
<circle cx="139.2" cy="527.7" r="1.1" fill="#F8766D"/>
<circle cx="139.6" cy="527.8" r="1.1" fill="#F8766D"/>
<circle cx="142.4" cy="527.9" r="1.1" fill="#F8766D"/>
<circle cx="143.7" cy="528.1" r="1.1" fill="#F8766D"/>
<circle cx="144.7" cy="527.8" r="1.1" fill="#F8766D"/>
<circle cx="147.9" cy="526.2" r="1.1" fill="#F8766D"/>
<circle cx="149.7" cy="528.4" r="1.1" fill="#F8766D"/>
<circle cx="149.2" cy="528.0" r="1.1" fill="#F8766D"/>
<circle cx="152.4" cy="529.6" r="1.1" fill="#F8766D"/>
<circle cx="153.3" cy="528.6" r="1.1" fill="#F8766D"/>
<circle cx="156.4" cy="529.2" r="1.1" fill="#F8766D"/>
<circle cx="158.2" cy="528.1" r="1.1" fill="#F8766D"/>
<circle cx="159.1" cy="527.3" r="1.1" fill="#F8766D"/>
<circle cx="161.0" cy="529.0" r="1.1" fill="#F8766D"/>
<circle cx="162.4" cy="528.6" r="1.1" fill="#F8766D"/>
<circle cx="162.4" cy="527.7" r="1.1" fill="#F8766D"/>
<circle cx="165.7" cy="526.5" r="1.1" fill="#F8766D"/>
<circle cx="165.7" cy="524.6" r="1.1" fill="#F8766D"/>
<circle cx="166.3" cy="523.5" r="1.1" fill="#F8766D"/>
<circle cx="169.0" cy="520.6" r="1.1" fill="#F8766D"/>
<circle cx="168.5" cy="520.7" r="1.1" fill="#F8766D"/>
<circle cx="171.6" cy="521.5" r="1.1" fill="#F8766D"/>
<circle cx="173.1" cy="519.3" r="1.1" fill="#F8766D"/>
<circle cx="175.7" cy="519.2" r="1.1" fill="#F8766D"/>
<circle cx="177.4" cy="519.4" r="1.1" fill="#F8766D"/>
<circle cx="177.8" cy="520.9" r="1.1" fill="#F8766D"/>
<circle cx="179.0" cy="519.0" r="1.1" fill="#F8766D"/>
<circle cx="181.8" cy="520.9" r="1.1" fill="#F8766D"/>
<circle cx="184.6" cy="521.0" r="1.1" fill="#F8766D"/>
<circle cx="186.6" cy="520.7" r="1.1" fill="#F8766D"/>
<circle cx="188.5" cy="519.8" r="1.1" fill="#F8766D"/>
<circle cx="188.2" cy="521.3" r="1.1" fill="#F8766D"/>
<circle cx="190.0" cy="522.1" r="1.1" fill="#F8766D"/>
<circle cx="192.6" cy="521.7" r="1.1" fill="#F8766D"/>
<circle cx="194.8" cy="522.0" r="1.1" fill="#F8766D"/>
<circle cx="195.0" cy="521.8" r="1.1" fill="#F8766D"/>
<circle cx="198.1" cy="523.4" r="1.1" fill="#F8766D"/>
<circle cx="197.9" cy="523.5" r="1.1" fill="#F8766D"/>
<circle cx="201.7" cy="522.8" r="1.1" fill="#F8766D"/>
<circle cx="202.2" cy="522.2" r="1.1" fill="#F8766D"/>
<circle cx="203.7" cy="523.5" r="1.1" fill="#F8766D"/>
<circle cx="205.4" cy="522.7" r="1.1" fill="#F8766D"/>
<circle cx="208.0" cy="524.6" r="1.1" fill="#F8766D"/>
<circle cx="208.0" cy="525.9" r="1.1" fill="#F8766D"/>
<circle cx="210.0" cy="525.5" r="1.1" fill="#F8766D"/>
<circle cx="212.0" cy="524.9" r="1.1" fill="#F8766D"/>
<circle cx="213.1" cy="526.4" r="1.1" fill="#F8766D"/>
<circle cx="215.9" cy="528.4" r="1.1" fill="#F8766D"/>
<circle cx="215.6" cy="527.7" r="1.1" fill="#F8766D"/>
<circle cx="216.8" cy="528.2" r="1.1" fill="#F8766D"/>
<circle cx="220.3" cy="530.1" r="1.1" fill="#F8766D"/>
<circle cx="220.9" cy="529.1" r="1.1" fill="#F8766D"/>
<circle cx="221.3" cy="531.2" r="1.1" fill="#F8766D"/>
<circle cx="224.5" cy="531.0" r="1.1" fill="#F8766D"/>
<circle cx="225.3" cy="532.0" r="1.1" fill="#F8766D"/>
<circle cx="224.8" cy="533.8" r="1.1" fill="#F8766D"/>
<circle cx="227.4" cy="535.3" r="1.1" fill="#F8766D"/>
<circle cx="227.6" cy="537.3" r="1.1" fill="#F8766D"/>
<circle cx="228.0" cy="539.1" r="1.1" fill="#F8766D"/>
<circle cx="229.2" cy="540.0" r="1.1" fill="#F8766D"/>
<circle cx="230.7" cy="540.7" r="1.1" fill="#F8766D"/>
<circle cx="232.6" cy="542.8" r="1.1" fill="#F8766D"/>
<circle cx="233.3" cy="544.3" r="1.1" fill="#F8766D"/>
<circle cx="234.3" cy="545.1" r="1.1" fill="#F8766D"/>
<circle cx="234.1" cy="548.0" r="1.1" fill="#F8766D"/>
<circle cx="235.9" cy="549.3" r="1.1" fill="#F8766D"/>
<circle cx="237.2" cy="551.1" r="1.1" fill="#F8766D"/>
<circle cx="237.8" cy="551.7" r="1.1" fill="#F8766D"/>
<circle cx="238.2" cy="554.9" r="1.1" fill="#F8766D"/>
<circle cx="239.0" cy="555.3" r="1.1" fill="#F8766D"/>
<circle cx="237.8" cy="558.8" r="1.1" fill="#F8766D"/>
<circle cx="237.9" cy="560.8" r="1.1" fill="#F8766D"/>
<circle cx="240.2" cy="560.2" r="1.1" fill="#F8766D"/>
<circle cx="238.8" cy="563.6" r="1.1" fill="#F8766D"/>
<circle cx="239.1" cy="563.7" r="1.1" fill="#F8766D"/>
<circle cx="241.0" cy="566.4" r="1.1" fill="#F8766D"/>
<circle cx="241.2" cy="567.4" r="1.1" fill="#F8766D"/>
<circle cx="240.4" cy="570.7" r="1.1" fill="#F8766D"/>
<circle cx="239.6" cy="571.2" r="1.1" fill="#F8766D"/>
<circle cx="241.5" cy="574.9" r="1.1" fill="#F8766D"/>
<circle cx="242.3" cy="574.4" r="1.1" fill="#F8766D"/>
<circle cx="241.0" cy="577.9" r="1.1" fill="#F8766D"/>
<circle cx="241.0" cy="579.4" r="1.1" fill="#F8766D"/>
<circle cx="240.1" cy="579.4" r="1.1" fill="#F8766D"/>
<circle cx="239.9" cy="581.0" r="1.1" fill="#F8766D"/>
<circle cx="241.1" cy="584.0" r="1.1" fill="#F8766D"/>
<circle cx="240.7" cy="584.6" r="1.1" fill="#F8766D"/>
<circle cx="239.2" cy="586.3" r="1.1" fill="#F8766D"/>
<circle cx="240.6" cy="590.0" r="1.1" fill="#F8766D"/>
<circle cx="240.3" cy="589.1" r="1.1" fill="#F8766D"/>
<circle cx="237.4" cy="593.0" r="1.1" fill="#F8766D"/>
<circle cx="238.1" cy="594.0" r="1.1" fill="#F8766D"/>
<circle cx="236.6" cy="594.4" r="1.1" fill="#F8766D"/>
<circle cx="236.1" cy="595.6" r="1.1" fill="#F8766D"/>
<circle cx="235.2" cy="595.6" r="1.1" fill="#F8766D"/>
<circle cx="234.4" cy="599.2" r="1.1" fill="#F8766D"/>
<circle cx="231.9" cy="599.3" r="1.1" fill="#F8766D"/>
<circle cx="232.4" cy="600.4" r="1.1" fill="#F8766D"/>
<circle cx="229.3" cy="600.6" r="1.1" fill="#F8766D"/>
<circle cx="228.6" cy="600.9" r="1.1" fill="#F8766D"/>
<circle cx="228.0" cy="603.9" r="1.1" fill="#F8766D"/>
<circle cx="225.9" cy="604.9" r="1.1" fill="#F8766D"/>
<circle cx="224.1" cy="604.4" r="1.1" fill="#F8766D"/>
<circle cx="222.5" cy="605.5" r="1.1" fill="#F8766D"/>
<circle cx="222.0" cy="607.2" r="1.1" fill="#F8766D"/>
<circle cx="218.3" cy="607.8" r="1.1" fill="#F8766D"/>
<circle cx="218.0" cy="607.8" r="1.1" fill="#F8766D"/>
<circle cx="216.6" cy="607.1" r="1.1" fill="#F8766D"/>
<circle cx="215.2" cy="608.8" r="1.1" fill="#F8766D"/>
<circle cx="213.0" cy="608.8" r="1.1" fill="#F8766D"/>
<circle cx="211.6" cy="608.1" r="1.1" fill="#F8766D"/>
<circle cx="209.8" cy="607.5" r="1.1" fill="#F8766D"/>
<circle cx="207.2" cy="609.0" r="1.1" fill="#F8766D"/>
<circle cx="204.4" cy="608.8" r="1.1" fill="#F8766D"/>
<circle cx="204.3" cy="609.7" r="1.1" fill="#F8766D"/>
<circle cx="201.3" cy="610.8" r="1.1" fill="#F8766D"/>
<circle cx="200.7" cy="609.2" r="1.1" fill="#F8766D"/>
<circle cx="198.8" cy="610.0" r="1.1" fill="#F8766D"/>
<circle cx="196.6" cy="609.7" r="1.1" fill="#F8766D"/>
<circle cx="196.4" cy="611.1" r="1.1" fill="#F8766D"/>
<circle cx="194.1" cy="612.2" r="1.1" fill="#F8766D"/>
<circle cx="193.4" cy="610.9" r="1.1" fill="#F8766D"/>
<circle cx="190.9" cy="613.6" r="1.1" fill="#F8766D"/>
<circle cx="188.4" cy="613.4" r="1.1" fill="#F8766D"/>
<circle cx="186.3" cy="613.5" r="1.1" fill="#F8766D"/>
<circle cx="185.7" cy="613.8" r="1.1" fill="#F8766D"/>
<circle cx="183.9" cy="616.7" r="1.1" fill="#F8766D"/>
<circle cx="183.2" cy="616.2" r="1.1" fill="#F8766D"/>
<circle cx="182.8" cy="617.0" r="1.1" fill="#F8766D"/>
<circle cx="181.4" cy="617.8" r="1.1" fill="#F8766D"/>
<circle cx="179.3" cy="617.0" r="1.1" fill="#F8766D"/>
<circle cx="177.0" cy="619.7" r="1.1" fill="#F8766D"/>
<circle cx="173.9" cy="621.0" r="1.1" fill="#F8766D"/>
<circle cx="172.6" cy="620.5" r="1.1" fill="#F8766D"/>
<circle cx="171.0" cy="621.4" r="1.1" fill="#F8766D"/>
<circle cx="170.6" cy="621.0" r="1.1" fill="#F8766D"/>
<circle cx="169.9" cy="622.8" r="1.1" fill="#F8766D"/>
<circle cx="166.9" cy="623.5" r="1.1" fill="#F8766D"/>
<circle cx="164.6" cy="622.8" r="1.1" fill="#F8766D"/>
<circle cx="163.6" cy="623.8" r="1.1" fill="#F8766D"/>
<circle cx="160.7" cy="624.4" r="1.1" fill="#F8766D"/>
<circle cx="158.9" cy="622.6" r="1.1" fill="#F8766D"/>
<circle cx="157.6" cy="621.1" r="1.1" fill="#F8766D"/>
<circle cx="156.2" cy="621.4" r="1.1" fill="#F8766D"/>
<circle cx="155.7" cy="620.1" r="1.1" fill="#F8766D"/>
<circle cx="155.9" cy="616.0" r="1.1" fill="#F8766D"/>
<circle cx="155.9" cy="616.7" r="1.1" fill="#F8766D"/>
<circle cx="152.6" cy="614.9" r="1.1" fill="#F8766D"/>
<circle cx="152.8" cy="611.9" r="1.1" fill="#F8766D"/>
<circle cx="154.0" cy="609.3" r="1.1" fill="#F8766D"/>
<circle cx="152.4" cy="609.2" r="1.1" fill="#F8766D"/>
<circle cx="152.6" cy="605.9" r="1.1" fill="#F8766D"/>
<circle cx="155.0" cy="605.9" r="1.1" fill="#F8766D"/>
<circle cx="155.6" cy="602.9" r="1.1" fill="#F8766D"/>
<circle cx="157.3" cy="602.9" r="1.1" fill="#F8766D"/>
<circle cx="155.7" cy="600.0" r="1.1" fill="#F8766D"/>
<circle cx="156.1" cy="598.4" r="1.1" fill="#F8766D"/>
<circle cx="155.3" cy="598.2" r="1.1" fill="#F8766D"/>
<circle cx="154.9" cy="595.3" r="1.1" fill="#F8766D"/>
<circle cx="155.0" cy="594.2" r="1.1" fill="#F8766D"/>
<circle cx="155.4" cy="592.9" r="1.1" fill="#F8766D"/>
<circle cx="155.8" cy="592.5" r="1.1" fill="#F8766D"/>
<circle cx="154.9" cy="588.9" r="1.1" fill="#F8766D"/>
<circle cx="152.9" cy="589.1" r="1.1" fill="#F8766D"/>
<circle cx="155.6" cy="586.7" r="1.1" fill="#F8766D"/>
<circle cx="155.2" cy="584.2" r="1.1" fill="#F8766D"/>
<circle cx="156.9" cy="583.4" r="1.1" fill="#F8766D"/>
<circle cx="157.5" cy="582.0" r="1.1" fill="#F8766D"/>
<circle cx="158.7" cy="579.1" r="1.1" fill="#F8766D"/>
<circle cx="158.8" cy="580.3" r="1.1" fill="#F8766D"/>
<circle cx="162.2" cy="579.1" r="1.1" fill="#F8766D"/>
<circle cx="161.2" cy="575.8" r="1.1" fill="#F8766D"/>
<circle cx="163.4" cy="575.8" r="1.1" fill="#F8766D"/>
<circle cx="164.8" cy="573.3" r="1.1" fill="#F8766D"/>
<circle cx="165.1" cy="571.7" r="1.1" fill="#F8766D"/>
<circle cx="164.3" cy="571.8" r="1.1" fill="#F8766D"/>
<circle cx="166.1" cy="570.1" r="1.1" fill="#F8766D"/>
<circle cx="166.1" cy="568.1" r="1.1" fill="#F8766D"/>
<circle cx="166.2" cy="566.1" r="1.1" fill="#F8766D"/>
<circle cx="168.2" cy="565.9" r="1.1" fill="#F8766D"/>
<circle cx="166.1" cy="562.2" r="1.1" fill="#F8766D"/>
<circle cx="167.9" cy="561.9" r="1.1" fill="#F8766D"/>
<circle cx="167.6" cy="559.1" r="1.1" fill="#F8766D"/>
<circle cx="166.4" cy="557.5" r="1.1" fill="#F8766D"/>
<circle cx="167.3" cy="556.1" r="1.1" fill="#F8766D"/>
<circle cx="166.6" cy="556.1" r="1.1" fill="#F8766D"/>
<circle cx="165.5" cy="553.1" r="1.1" fill="#F8766D"/>
<circle cx="165.2" cy="552.9" r="1.1" fill="#F8766D"/>
<circle cx="162.8" cy="550.1" r="1.1" fill="#F8766D"/>
<circle cx="160.4" cy="550.3" r="1.1" fill="#F8766D"/>
<circle cx="158.8" cy="546.8" r="1.1" fill="#F8766D"/>
<circle cx="158.5" cy="547.5" r="1.1" fill="#F8766D"/>
<circle cx="157.2" cy="546.4" r="1.1" fill="#F8766D"/>
<circle cx="155.8" cy="545.3" r="1.1" fill="#F8766D"/>
<circle cx="152.5" cy="546.5" r="1.1" fill="#F8766D"/>
<circle cx="150.5" cy="545.0" r="1.1" fill="#F8766D"/>
<circle cx="150.6" cy="545.5" r="1.1" fill="#F8766D"/>
<circle cx="147.7" cy="543.2" r="1.1" fill="#F8766D"/>
<circle cx="146.3" cy="544.0" r="1.1" fill="#F8766D"/>
<circle cx="144.6" cy="541.4" r="1.1" fill="#F8766D"/>
<circle cx="143.9" cy="541.9" r="1.1" fill="#F8766D"/>
<circle cx="142.8" cy="542.1" r="1.1" fill="#F8766D"/>
<circle cx="141.2" cy="539.8" r="1.1" fill="#F8766D"/>
<circle cx="140.4" cy="537.9" r="1.1" fill="#F8766D"/>
<circle cx="138.6" cy="536.6" r="1.1" fill="#F8766D"/>
<circle cx="139.9" cy="536.4" r="1.1" fill="#F8766D"/>
<circle cx="137.6" cy="533.3" r="1.1" fill="#F8766D"/>
<circle cx="137.5" cy="531.8" r="1.1" fill="#F8766D"/>
<circle cx="137.1" cy="530.3" r="1.1" fill="#F8766D"/>
<path d="M112.0,566.0 L118.0,563.0 L128.0,561.0 L136.0,553.0 L145.0,549.0 L151.0,550.0 L152.0,565.0 L152.0,580.0 L148.0,585.0 L138.0,584.0 L130.0,579.0 L118.0,578.0 L111.0,572.0Z" fill="#F8766D"/>
<circle cx="111.1" cy="566.2" r="1.1" fill="#F8766D"/>
<circle cx="114.3" cy="565.4" r="1.1" fill="#F8766D"/>
<circle cx="115.9" cy="564.7" r="1.1" fill="#F8766D"/>
<circle cx="115.6" cy="564.5" r="1.1" fill="#F8766D"/>
<circle cx="119.1" cy="562.4" r="1.1" fill="#F8766D"/>
<circle cx="118.3" cy="562.7" r="1.1" fill="#F8766D"/>
<circle cx="121.5" cy="562.5" r="1.1" fill="#F8766D"/>
<circle cx="124.3" cy="562.4" r="1.1" fill="#F8766D"/>
<circle cx="125.5" cy="560.4" r="1.1" fill="#F8766D"/>
<circle cx="126.5" cy="562.1" r="1.1" fill="#F8766D"/>
<circle cx="126.8" cy="559.8" r="1.1" fill="#F8766D"/>
<circle cx="129.8" cy="561.0" r="1.1" fill="#F8766D"/>
<circle cx="129.1" cy="559.1" r="1.1" fill="#F8766D"/>
<circle cx="130.4" cy="558.3" r="1.1" fill="#F8766D"/>
<circle cx="133.0" cy="555.7" r="1.1" fill="#F8766D"/>
<circle cx="132.9" cy="556.0" r="1.1" fill="#F8766D"/>
<circle cx="134.9" cy="554.9" r="1.1" fill="#F8766D"/>
<circle cx="135.7" cy="552.5" r="1.1" fill="#F8766D"/>
<circle cx="138.8" cy="552.8" r="1.1" fill="#F8766D"/>
<circle cx="139.0" cy="551.8" r="1.1" fill="#F8766D"/>
<circle cx="141.1" cy="551.6" r="1.1" fill="#F8766D"/>
<circle cx="143.2" cy="550.1" r="1.1" fill="#F8766D"/>
<circle cx="144.4" cy="550.1" r="1.1" fill="#F8766D"/>
<circle cx="146.0" cy="549.9" r="1.1" fill="#F8766D"/>
<circle cx="147.9" cy="550.4" r="1.1" fill="#F8766D"/>
<circle cx="150.3" cy="550.1" r="1.1" fill="#F8766D"/>
<circle cx="151.1" cy="550.6" r="1.1" fill="#F8766D"/>
<circle cx="152.0" cy="551.4" r="1.1" fill="#F8766D"/>
<circle cx="151.0" cy="552.3" r="1.1" fill="#F8766D"/>
<circle cx="152.0" cy="556.4" r="1.1" fill="#F8766D"/>
<circle cx="151.1" cy="555.7" r="1.1" fill="#F8766D"/>
<circle cx="150.7" cy="558.1" r="1.1" fill="#F8766D"/>
<circle cx="151.1" cy="561.3" r="1.1" fill="#F8766D"/>
<circle cx="150.5" cy="561.1" r="1.1" fill="#F8766D"/>
<circle cx="150.8" cy="563.7" r="1.1" fill="#F8766D"/>
<circle cx="152.8" cy="564.1" r="1.1" fill="#F8766D"/>
<circle cx="150.8" cy="566.6" r="1.1" fill="#F8766D"/>
<circle cx="152.2" cy="569.5" r="1.1" fill="#F8766D"/>
<circle cx="150.7" cy="568.9" r="1.1" fill="#F8766D"/>
<circle cx="151.1" cy="570.9" r="1.1" fill="#F8766D"/>
<circle cx="151.3" cy="573.9" r="1.1" fill="#F8766D"/>
<circle cx="152.3" cy="574.2" r="1.1" fill="#F8766D"/>
<circle cx="151.1" cy="576.1" r="1.1" fill="#F8766D"/>
<circle cx="151.1" cy="579.1" r="1.1" fill="#F8766D"/>
<circle cx="151.5" cy="580.1" r="1.1" fill="#F8766D"/>
<circle cx="151.9" cy="581.2" r="1.1" fill="#F8766D"/>
<circle cx="149.3" cy="583.6" r="1.1" fill="#F8766D"/>
<circle cx="150.2" cy="583.3" r="1.1" fill="#F8766D"/>
<circle cx="148.1" cy="586.3" r="1.1" fill="#F8766D"/>
<circle cx="146.3" cy="584.1" r="1.1" fill="#F8766D"/>
<circle cx="143.4" cy="585.9" r="1.1" fill="#F8766D"/>
<circle cx="143.8" cy="584.2" r="1.1" fill="#F8766D"/>
<circle cx="141.4" cy="584.4" r="1.1" fill="#F8766D"/>
<circle cx="139.0" cy="585.5" r="1.1" fill="#F8766D"/>
<circle cx="138.4" cy="583.3" r="1.1" fill="#F8766D"/>
<circle cx="135.0" cy="582.9" r="1.1" fill="#F8766D"/>
<circle cx="134.4" cy="582.8" r="1.1" fill="#F8766D"/>
<circle cx="133.8" cy="581.3" r="1.1" fill="#F8766D"/>
<circle cx="130.6" cy="579.0" r="1.1" fill="#F8766D"/>
<circle cx="129.5" cy="578.3" r="1.1" fill="#F8766D"/>
<circle cx="129.3" cy="578.9" r="1.1" fill="#F8766D"/>
<circle cx="127.0" cy="580.1" r="1.1" fill="#F8766D"/>
<circle cx="124.2" cy="578.7" r="1.1" fill="#F8766D"/>
<circle cx="122.2" cy="579.2" r="1.1" fill="#F8766D"/>
<circle cx="120.0" cy="579.2" r="1.1" fill="#F8766D"/>
<circle cx="120.7" cy="579.0" r="1.1" fill="#F8766D"/>
<circle cx="116.8" cy="577.4" r="1.1" fill="#F8766D"/>
<circle cx="117.2" cy="575.7" r="1.1" fill="#F8766D"/>
<circle cx="115.1" cy="575.5" r="1.1" fill="#F8766D"/>
<circle cx="115.1" cy="574.6" r="1.1" fill="#F8766D"/>
<circle cx="113.4" cy="572.7" r="1.1" fill="#F8766D"/>
<circle cx="111.8" cy="571.8" r="1.1" fill="#F8766D"/>
<circle cx="112.5" cy="568.9" r="1.1" fill="#F8766D"/>
<circle cx="112.6" cy="567.2" r="1.1" fill="#F8766D"/>
<path d="M89.6,606.0 L98.0,610.0 L106.3,615.4 L124.8,619.0 L137.8,622.0 L148.9,622.0 L158.0,619.0 L160.0,623.5 L156.3,624.5 L143.3,625.5 L130.4,627.5 L115.6,634.5 L97.0,645.5 L80.0,651.0 L82.0,635.0 L86.0,618.0Z" fill="#F8766D"/>
<circle cx="89.7" cy="606.1" r="1.1" fill="#F8766D"/>
<circle cx="90.3" cy="607.7" r="1.1" fill="#F8766D"/>
<circle cx="92.4" cy="607.1" r="1.1" fill="#F8766D"/>
<circle cx="93.5" cy="607.9" r="1.1" fill="#F8766D"/>
<circle cx="96.2" cy="609.8" r="1.1" fill="#F8766D"/>
<circle cx="97.6" cy="610.5" r="1.1" fill="#F8766D"/>
<circle cx="98.3" cy="610.6" r="1.1" fill="#F8766D"/>
<circle cx="100.7" cy="613.1" r="1.1" fill="#F8766D"/>
<circle cx="103.1" cy="613.1" r="1.1" fill="#F8766D"/>
<circle cx="102.2" cy="613.3" r="1.1" fill="#F8766D"/>
<circle cx="105.5" cy="613.8" r="1.1" fill="#F8766D"/>
<circle cx="106.5" cy="615.3" r="1.1" fill="#F8766D"/>
<circle cx="106.6" cy="617.1" r="1.1" fill="#F8766D"/>
<circle cx="110.5" cy="615.2" r="1.1" fill="#F8766D"/>
<circle cx="111.7" cy="615.8" r="1.1" fill="#F8766D"/>
<circle cx="112.7" cy="616.8" r="1.1" fill="#F8766D"/>
<circle cx="114.1" cy="616.6" r="1.1" fill="#F8766D"/>
<circle cx="116.1" cy="617.8" r="1.1" fill="#F8766D"/>
<circle cx="117.4" cy="616.9" r="1.1" fill="#F8766D"/>
<circle cx="120.4" cy="617.5" r="1.1" fill="#F8766D"/>
<circle cx="122.7" cy="618.5" r="1.1" fill="#F8766D"/>
<circle cx="123.7" cy="618.2" r="1.1" fill="#F8766D"/>
<circle cx="125.7" cy="617.9" r="1.1" fill="#F8766D"/>
<circle cx="125.4" cy="618.2" r="1.1" fill="#F8766D"/>
<circle cx="128.5" cy="620.3" r="1.1" fill="#F8766D"/>
<circle cx="128.8" cy="619.9" r="1.1" fill="#F8766D"/>
<circle cx="132.2" cy="620.8" r="1.1" fill="#F8766D"/>
<circle cx="131.8" cy="620.1" r="1.1" fill="#F8766D"/>
<circle cx="133.6" cy="620.2" r="1.1" fill="#F8766D"/>
<circle cx="135.9" cy="620.4" r="1.1" fill="#F8766D"/>
<circle cx="139.0" cy="621.8" r="1.1" fill="#F8766D"/>
<circle cx="139.7" cy="622.4" r="1.1" fill="#F8766D"/>
<circle cx="142.2" cy="622.9" r="1.1" fill="#F8766D"/>
<circle cx="143.0" cy="621.5" r="1.1" fill="#F8766D"/>
<circle cx="145.0" cy="620.6" r="1.1" fill="#F8766D"/>
<circle cx="146.8" cy="622.6" r="1.1" fill="#F8766D"/>
<circle cx="150.2" cy="622.8" r="1.1" fill="#F8766D"/>
<circle cx="151.2" cy="621.7" r="1.1" fill="#F8766D"/>
<circle cx="151.2" cy="620.3" r="1.1" fill="#F8766D"/>
<circle cx="153.9" cy="620.6" r="1.1" fill="#F8766D"/>
<circle cx="155.1" cy="619.3" r="1.1" fill="#F8766D"/>
<circle cx="158.0" cy="619.8" r="1.1" fill="#F8766D"/>
<circle cx="159.6" cy="620.8" r="1.1" fill="#F8766D"/>
<circle cx="158.4" cy="622.7" r="1.1" fill="#F8766D"/>
<circle cx="161.1" cy="623.6" r="1.1" fill="#F8766D"/>
<circle cx="157.7" cy="624.0" r="1.1" fill="#F8766D"/>
<circle cx="155.3" cy="625.1" r="1.1" fill="#F8766D"/>
<circle cx="156.0" cy="624.7" r="1.1" fill="#F8766D"/>
<circle cx="153.7" cy="625.7" r="1.1" fill="#F8766D"/>
<circle cx="150.6" cy="626.1" r="1.1" fill="#F8766D"/>
<circle cx="150.2" cy="624.2" r="1.1" fill="#F8766D"/>
<circle cx="147.0" cy="624.4" r="1.1" fill="#F8766D"/>
<circle cx="146.8" cy="625.8" r="1.1" fill="#F8766D"/>
<circle cx="144.4" cy="626.6" r="1.1" fill="#F8766D"/>
<circle cx="142.9" cy="625.4" r="1.1" fill="#F8766D"/>
<circle cx="140.6" cy="627.1" r="1.1" fill="#F8766D"/>
<circle cx="139.1" cy="627.1" r="1.1" fill="#F8766D"/>
<circle cx="138.6" cy="626.4" r="1.1" fill="#F8766D"/>
<circle cx="137.0" cy="625.8" r="1.1" fill="#F8766D"/>
<circle cx="136.4" cy="628.1" r="1.1" fill="#F8766D"/>
<circle cx="134.5" cy="627.3" r="1.1" fill="#F8766D"/>
<circle cx="131.0" cy="628.2" r="1.1" fill="#F8766D"/>
<circle cx="129.8" cy="628.6" r="1.1" fill="#F8766D"/>
<circle cx="128.2" cy="628.4" r="1.1" fill="#F8766D"/>
<circle cx="128.4" cy="628.0" r="1.1" fill="#F8766D"/>
<circle cx="126.1" cy="628.4" r="1.1" fill="#F8766D"/>
<circle cx="123.2" cy="629.4" r="1.1" fill="#F8766D"/>
<circle cx="124.4" cy="632.2" r="1.1" fill="#F8766D"/>
<circle cx="122.0" cy="631.2" r="1.1" fill="#F8766D"/>
<circle cx="120.5" cy="633.1" r="1.1" fill="#F8766D"/>
<circle cx="118.2" cy="633.4" r="1.1" fill="#F8766D"/>
<circle cx="117.9" cy="632.4" r="1.1" fill="#F8766D"/>
<circle cx="114.8" cy="634.4" r="1.1" fill="#F8766D"/>
<circle cx="113.2" cy="635.0" r="1.1" fill="#F8766D"/>
<circle cx="112.9" cy="635.3" r="1.1" fill="#F8766D"/>
<circle cx="111.4" cy="636.4" r="1.1" fill="#F8766D"/>
<circle cx="110.1" cy="637.4" r="1.1" fill="#F8766D"/>
<circle cx="108.8" cy="637.4" r="1.1" fill="#F8766D"/>
<circle cx="107.5" cy="638.6" r="1.1" fill="#F8766D"/>
<circle cx="106.9" cy="640.7" r="1.1" fill="#F8766D"/>
<circle cx="104.1" cy="641.0" r="1.1" fill="#F8766D"/>
<circle cx="103.1" cy="642.6" r="1.1" fill="#F8766D"/>
<circle cx="102.0" cy="643.7" r="1.1" fill="#F8766D"/>
<circle cx="99.8" cy="645.2" r="1.1" fill="#F8766D"/>
<circle cx="99.4" cy="645.6" r="1.1" fill="#F8766D"/>
<circle cx="96.7" cy="645.3" r="1.1" fill="#F8766D"/>
<circle cx="95.6" cy="647.1" r="1.1" fill="#F8766D"/>
<circle cx="94.0" cy="646.6" r="1.1" fill="#F8766D"/>
<circle cx="92.2" cy="648.1" r="1.1" fill="#F8766D"/>
<circle cx="90.3" cy="646.3" r="1.1" fill="#F8766D"/>
<circle cx="89.9" cy="649.1" r="1.1" fill="#F8766D"/>
<circle cx="88.4" cy="648.8" r="1.1" fill="#F8766D"/>
<circle cx="86.9" cy="648.5" r="1.1" fill="#F8766D"/>
<circle cx="84.9" cy="648.3" r="1.1" fill="#F8766D"/>
<circle cx="82.0" cy="649.9" r="1.1" fill="#F8766D"/>
<circle cx="81.6" cy="650.2" r="1.1" fill="#F8766D"/>
<circle cx="78.7" cy="651.5" r="1.1" fill="#F8766D"/>
<circle cx="80.3" cy="648.7" r="1.1" fill="#F8766D"/>
<circle cx="79.9" cy="647.5" r="1.1" fill="#F8766D"/>
<circle cx="79.9" cy="645.0" r="1.1" fill="#F8766D"/>
<circle cx="82.0" cy="645.9" r="1.1" fill="#F8766D"/>
<circle cx="81.5" cy="644.0" r="1.1" fill="#F8766D"/>
<circle cx="81.0" cy="642.3" r="1.1" fill="#F8766D"/>
<circle cx="80.6" cy="640.5" r="1.1" fill="#F8766D"/>
<circle cx="81.8" cy="639.3" r="1.1" fill="#F8766D"/>
<circle cx="80.7" cy="637.4" r="1.1" fill="#F8766D"/>
<circle cx="80.9" cy="635.1" r="1.1" fill="#F8766D"/>
<circle cx="83.7" cy="631.9" r="1.1" fill="#F8766D"/>
<circle cx="82.1" cy="631.0" r="1.1" fill="#F8766D"/>
<circle cx="82.7" cy="628.7" r="1.1" fill="#F8766D"/>
<circle cx="84.7" cy="629.1" r="1.1" fill="#F8766D"/>
<circle cx="83.7" cy="626.1" r="1.1" fill="#F8766D"/>
<circle cx="84.6" cy="623.5" r="1.1" fill="#F8766D"/>
<circle cx="83.5" cy="624.2" r="1.1" fill="#F8766D"/>
<circle cx="84.7" cy="621.4" r="1.1" fill="#F8766D"/>
<circle cx="86.8" cy="621.0" r="1.1" fill="#F8766D"/>
<circle cx="85.9" cy="617.2" r="1.1" fill="#F8766D"/>
<circle cx="85.9" cy="617.5" r="1.1" fill="#F8766D"/>
<circle cx="88.1" cy="613.7" r="1.1" fill="#F8766D"/>
<circle cx="88.5" cy="612.4" r="1.1" fill="#F8766D"/>
<circle cx="88.0" cy="610.2" r="1.1" fill="#F8766D"/>
<circle cx="89.6" cy="610.8" r="1.1" fill="#F8766D"/>
<circle cx="88.3" cy="608.1" r="1.1" fill="#F8766D"/>
<path d="M93.0,598.0 L110.0,596.5 L126.0,597.0 L138.0,600.0 L140.0,606.0 L128.0,609.5 L110.0,610.0 L96.0,609.0Z" fill="#F8766D"/>
<circle cx="92.1" cy="599.1" r="1.1" fill="#F8766D"/>
<circle cx="93.4" cy="596.7" r="1.1" fill="#F8766D"/>
<circle cx="97.0" cy="597.2" r="1.1" fill="#F8766D"/>
<circle cx="99.2" cy="598.6" r="1.1" fill="#F8766D"/>
<circle cx="100.4" cy="596.4" r="1.1" fill="#F8766D"/>
<circle cx="102.0" cy="598.5" r="1.1" fill="#F8766D"/>
<circle cx="103.0" cy="595.9" r="1.1" fill="#F8766D"/>
<circle cx="104.1" cy="596.4" r="1.1" fill="#F8766D"/>
<circle cx="107.2" cy="596.0" r="1.1" fill="#F8766D"/>
<circle cx="107.4" cy="595.9" r="1.1" fill="#F8766D"/>
<circle cx="110.5" cy="597.3" r="1.1" fill="#F8766D"/>
<circle cx="111.2" cy="597.0" r="1.1" fill="#F8766D"/>
<circle cx="114.3" cy="596.9" r="1.1" fill="#F8766D"/>
<circle cx="114.0" cy="596.1" r="1.1" fill="#F8766D"/>
<circle cx="117.6" cy="597.2" r="1.1" fill="#F8766D"/>
<circle cx="117.4" cy="597.1" r="1.1" fill="#F8766D"/>
<circle cx="118.5" cy="598.2" r="1.1" fill="#F8766D"/>
<circle cx="121.0" cy="596.9" r="1.1" fill="#F8766D"/>
<circle cx="122.9" cy="595.6" r="1.1" fill="#F8766D"/>
<circle cx="124.7" cy="596.3" r="1.1" fill="#F8766D"/>
<circle cx="125.3" cy="597.8" r="1.1" fill="#F8766D"/>
<circle cx="126.6" cy="596.8" r="1.1" fill="#F8766D"/>
<circle cx="130.1" cy="597.1" r="1.1" fill="#F8766D"/>
<circle cx="130.5" cy="598.4" r="1.1" fill="#F8766D"/>
<circle cx="132.0" cy="599.8" r="1.1" fill="#F8766D"/>
<circle cx="135.9" cy="597.8" r="1.1" fill="#F8766D"/>
<circle cx="136.2" cy="600.3" r="1.1" fill="#F8766D"/>
<circle cx="137.7" cy="601.2" r="1.1" fill="#F8766D"/>
<circle cx="138.7" cy="601.1" r="1.1" fill="#F8766D"/>
<circle cx="139.5" cy="604.4" r="1.1" fill="#F8766D"/>
<circle cx="139.6" cy="606.4" r="1.1" fill="#F8766D"/>
<circle cx="139.1" cy="606.5" r="1.1" fill="#F8766D"/>
<circle cx="136.6" cy="608.0" r="1.1" fill="#F8766D"/>
<circle cx="135.4" cy="607.6" r="1.1" fill="#F8766D"/>
<circle cx="134.4" cy="607.1" r="1.1" fill="#F8766D"/>
<circle cx="132.2" cy="607.6" r="1.1" fill="#F8766D"/>
<circle cx="130.0" cy="608.3" r="1.1" fill="#F8766D"/>
<circle cx="127.8" cy="610.3" r="1.1" fill="#F8766D"/>
<circle cx="127.2" cy="610.4" r="1.1" fill="#F8766D"/>
<circle cx="124.0" cy="609.6" r="1.1" fill="#F8766D"/>
<circle cx="122.3" cy="609.9" r="1.1" fill="#F8766D"/>
<circle cx="121.5" cy="608.4" r="1.1" fill="#F8766D"/>
<circle cx="120.1" cy="610.3" r="1.1" fill="#F8766D"/>
<circle cx="118.4" cy="610.8" r="1.1" fill="#F8766D"/>
<circle cx="115.6" cy="608.8" r="1.1" fill="#F8766D"/>
<circle cx="113.6" cy="609.9" r="1.1" fill="#F8766D"/>
<circle cx="113.1" cy="609.7" r="1.1" fill="#F8766D"/>
<circle cx="111.0" cy="610.8" r="1.1" fill="#F8766D"/>
<circle cx="108.8" cy="611.1" r="1.1" fill="#F8766D"/>
<circle cx="108.4" cy="610.0" r="1.1" fill="#F8766D"/>
<circle cx="107.3" cy="609.0" r="1.1" fill="#F8766D"/>
<circle cx="103.8" cy="609.1" r="1.1" fill="#F8766D"/>
<circle cx="101.7" cy="609.0" r="1.1" fill="#F8766D"/>
<circle cx="101.6" cy="609.4" r="1.1" fill="#F8766D"/>
<circle cx="98.8" cy="609.5" r="1.1" fill="#F8766D"/>
<circle cx="96.6" cy="610.0" r="1.1" fill="#F8766D"/>
<circle cx="95.1" cy="608.3" r="1.1" fill="#F8766D"/>
<circle cx="94.6" cy="608.0" r="1.1" fill="#F8766D"/>
<circle cx="96.1" cy="606.7" r="1.1" fill="#F8766D"/>
<circle cx="93.5" cy="604.0" r="1.1" fill="#F8766D"/>
<circle cx="93.9" cy="601.9" r="1.1" fill="#F8766D"/>
<circle cx="95.2" cy="599.9" r="1.1" fill="#F8766D"/>
<circle cx="93.4" cy="600.3" r="1.1" fill="#F8766D"/>
<path d="M98.0,585.0 L108.0,583.0 L117.0,586.0 L118.0,591.0 L108.0,593.5 L99.0,593.0Z" fill="#F8766D"/>
<circle cx="99.4" cy="584.0" r="1.1" fill="#F8766D"/>
<circle cx="99.5" cy="585.4" r="1.1" fill="#F8766D"/>
<circle cx="100.0" cy="583.6" r="1.1" fill="#F8766D"/>
<circle cx="104.1" cy="583.0" r="1.1" fill="#F8766D"/>
<circle cx="104.4" cy="583.1" r="1.1" fill="#F8766D"/>
<circle cx="106.1" cy="582.1" r="1.1" fill="#F8766D"/>
<circle cx="106.7" cy="584.4" r="1.1" fill="#F8766D"/>
<circle cx="110.5" cy="584.3" r="1.1" fill="#F8766D"/>
<circle cx="110.8" cy="583.5" r="1.1" fill="#F8766D"/>
<circle cx="113.5" cy="584.1" r="1.1" fill="#F8766D"/>
<circle cx="115.1" cy="586.6" r="1.1" fill="#F8766D"/>
<circle cx="116.6" cy="585.5" r="1.1" fill="#F8766D"/>
<circle cx="118.7" cy="588.0" r="1.1" fill="#F8766D"/>
<circle cx="116.4" cy="589.1" r="1.1" fill="#F8766D"/>
<circle cx="118.4" cy="589.8" r="1.1" fill="#F8766D"/>
<circle cx="115.9" cy="592.0" r="1.1" fill="#F8766D"/>
<circle cx="115.7" cy="592.1" r="1.1" fill="#F8766D"/>
<circle cx="114.1" cy="592.1" r="1.1" fill="#F8766D"/>
<circle cx="111.0" cy="593.6" r="1.1" fill="#F8766D"/>
<circle cx="109.3" cy="593.9" r="1.1" fill="#F8766D"/>
<circle cx="107.2" cy="593.1" r="1.1" fill="#F8766D"/>
<circle cx="105.3" cy="593.5" r="1.1" fill="#F8766D"/>
<circle cx="103.5" cy="592.5" r="1.1" fill="#F8766D"/>
<circle cx="101.8" cy="593.1" r="1.1" fill="#F8766D"/>
<circle cx="100.3" cy="593.0" r="1.1" fill="#F8766D"/>
<circle cx="100.4" cy="593.5" r="1.1" fill="#F8766D"/>
<circle cx="99.8" cy="590.6" r="1.1" fill="#F8766D"/>
<circle cx="98.3" cy="588.6" r="1.1" fill="#F8766D"/>
<circle cx="98.9" cy="587.8" r="1.1" fill="#F8766D"/>
<circle cx="97.6" cy="585.3" r="1.1" fill="#F8766D"/>
<path d="M143.0,520.5 L152.0,520.0 L162.0,522.0 L166.0,525.0 L161.0,528.5 L150.0,529.0 L141.0,527.0Z" fill="#fff"/>
<circle cx="145.6" cy="522.4" r="1.25" fill="#F8766D"/>
<circle cx="150.8" cy="528.3" r="1.25" fill="#F8766D"/>
<circle cx="158.9" cy="522.4" r="1.25" fill="#F8766D"/>
<circle cx="150.0" cy="521.4" r="1.25" fill="#F8766D"/>
<circle cx="160.1" cy="526.5" r="1.25" fill="#F8766D"/>
<circle cx="149.1" cy="523.5" r="1.25" fill="#F8766D"/>
<path d="M150.0,549.0 L160.0,548.0 L166.0,552.0 L167.5,565.0 L164.0,576.0 L158.0,580.0 L155.0,588.0 L156.0,597.0 L152.0,600.0 L149.0,590.0 L151.0,570.0Z" fill="#F8766D"/>
<circle cx="148.8" cy="550.1" r="1.1" fill="#F8766D"/>
<circle cx="151.2" cy="549.6" r="1.1" fill="#F8766D"/>
<circle cx="153.4" cy="547.4" r="1.1" fill="#F8766D"/>
<circle cx="154.7" cy="547.8" r="1.1" fill="#F8766D"/>
<circle cx="155.4" cy="547.4" r="1.1" fill="#F8766D"/>
<circle cx="158.6" cy="546.9" r="1.1" fill="#F8766D"/>
<circle cx="159.5" cy="547.8" r="1.1" fill="#F8766D"/>
<circle cx="161.6" cy="548.0" r="1.1" fill="#F8766D"/>
<circle cx="163.6" cy="549.3" r="1.1" fill="#F8766D"/>
<circle cx="165.1" cy="551.5" r="1.1" fill="#F8766D"/>
<circle cx="165.0" cy="551.2" r="1.1" fill="#F8766D"/>
<circle cx="165.6" cy="554.2" r="1.1" fill="#F8766D"/>
<circle cx="166.1" cy="554.9" r="1.1" fill="#F8766D"/>
<circle cx="167.6" cy="556.1" r="1.1" fill="#F8766D"/>
<circle cx="166.2" cy="558.1" r="1.1" fill="#F8766D"/>
<circle cx="166.1" cy="558.8" r="1.1" fill="#F8766D"/>
<circle cx="165.8" cy="562.1" r="1.1" fill="#F8766D"/>
<circle cx="167.5" cy="564.2" r="1.1" fill="#F8766D"/>
<circle cx="168.8" cy="564.4" r="1.1" fill="#F8766D"/>
<circle cx="167.5" cy="567.7" r="1.1" fill="#F8766D"/>
<circle cx="165.7" cy="568.7" r="1.1" fill="#F8766D"/>
<circle cx="166.5" cy="571.0" r="1.1" fill="#F8766D"/>
<circle cx="166.5" cy="570.5" r="1.1" fill="#F8766D"/>
<circle cx="165.4" cy="571.7" r="1.1" fill="#F8766D"/>
<circle cx="164.3" cy="574.1" r="1.1" fill="#F8766D"/>
<circle cx="162.8" cy="575.7" r="1.1" fill="#F8766D"/>
<circle cx="162.0" cy="577.0" r="1.1" fill="#F8766D"/>
<circle cx="160.4" cy="577.0" r="1.1" fill="#F8766D"/>
<circle cx="159.2" cy="578.9" r="1.1" fill="#F8766D"/>
<circle cx="157.1" cy="580.5" r="1.1" fill="#F8766D"/>
<circle cx="156.7" cy="580.5" r="1.1" fill="#F8766D"/>
<circle cx="156.4" cy="583.0" r="1.1" fill="#F8766D"/>
<circle cx="155.2" cy="585.0" r="1.1" fill="#F8766D"/>
<circle cx="156.2" cy="586.5" r="1.1" fill="#F8766D"/>
<circle cx="155.6" cy="586.7" r="1.1" fill="#F8766D"/>
<circle cx="154.9" cy="589.4" r="1.1" fill="#F8766D"/>
<circle cx="154.2" cy="591.3" r="1.1" fill="#F8766D"/>
<circle cx="154.4" cy="593.4" r="1.1" fill="#F8766D"/>
<circle cx="156.0" cy="595.1" r="1.1" fill="#F8766D"/>
<circle cx="155.5" cy="596.3" r="1.1" fill="#F8766D"/>
<circle cx="153.3" cy="597.6" r="1.1" fill="#F8766D"/>
<circle cx="154.4" cy="599.2" r="1.1" fill="#F8766D"/>
<circle cx="151.3" cy="600.5" r="1.1" fill="#F8766D"/>
<circle cx="150.6" cy="598.2" r="1.1" fill="#F8766D"/>
<circle cx="151.3" cy="597.9" r="1.1" fill="#F8766D"/>
<circle cx="150.1" cy="595.2" r="1.1" fill="#F8766D"/>
<circle cx="151.2" cy="594.1" r="1.1" fill="#F8766D"/>
<circle cx="149.9" cy="592.0" r="1.1" fill="#F8766D"/>
<circle cx="148.8" cy="589.8" r="1.1" fill="#F8766D"/>
<circle cx="148.5" cy="589.3" r="1.1" fill="#F8766D"/>
<circle cx="150.4" cy="586.3" r="1.1" fill="#F8766D"/>
<circle cx="150.6" cy="583.7" r="1.1" fill="#F8766D"/>
<circle cx="148.6" cy="583.4" r="1.1" fill="#F8766D"/>
<circle cx="149.3" cy="581.3" r="1.1" fill="#F8766D"/>
<circle cx="151.3" cy="579.0" r="1.1" fill="#F8766D"/>
<circle cx="149.3" cy="577.6" r="1.1" fill="#F8766D"/>
<circle cx="150.8" cy="575.9" r="1.1" fill="#F8766D"/>
<circle cx="149.1" cy="575.1" r="1.1" fill="#F8766D"/>
<circle cx="150.4" cy="572.6" r="1.1" fill="#F8766D"/>
<circle cx="150.8" cy="572.1" r="1.1" fill="#F8766D"/>
<circle cx="151.1" cy="570.3" r="1.1" fill="#F8766D"/>
<circle cx="151.1" cy="569.3" r="1.1" fill="#F8766D"/>
<circle cx="152.2" cy="566.3" r="1.1" fill="#F8766D"/>
<circle cx="150.3" cy="566.2" r="1.1" fill="#F8766D"/>
<circle cx="150.2" cy="564.1" r="1.1" fill="#F8766D"/>
<circle cx="151.2" cy="562.4" r="1.1" fill="#F8766D"/>
<circle cx="151.8" cy="561.2" r="1.1" fill="#F8766D"/>
<circle cx="149.5" cy="559.0" r="1.1" fill="#F8766D"/>
<circle cx="150.4" cy="557.3" r="1.1" fill="#F8766D"/>
<circle cx="149.9" cy="554.9" r="1.1" fill="#F8766D"/>
<circle cx="150.9" cy="553.9" r="1.1" fill="#F8766D"/>
<circle cx="149.4" cy="551.5" r="1.1" fill="#F8766D"/>
<circle cx="149.6" cy="549.7" r="1.1" fill="#F8766D"/>
<circle cx="158.5" cy="554.6" r="1.2" fill="#fff"/>
<circle cx="150.2" cy="551.6" r="1.2" fill="#fff"/>
<circle cx="150.9" cy="584.6" r="1.2" fill="#fff"/>
<circle cx="151.1" cy="571.5" r="1.2" fill="#fff"/>
<circle cx="163.3" cy="573.0" r="1.2" fill="#fff"/>
<circle cx="152.0" cy="593.0" r="1.2" fill="#fff"/>
<circle cx="153.7" cy="574.4" r="1.2" fill="#fff"/>
<circle cx="163.7" cy="568.4" r="1.2" fill="#fff"/>
<circle cx="162.2" cy="561.1" r="1.2" fill="#fff"/>
<circle cx="162.2" cy="565.0" r="1.2" fill="#fff"/>
<circle cx="155.2" cy="587.5" r="1.2" fill="#fff"/>
<circle cx="159.5" cy="569.9" r="1.2" fill="#fff"/>
<circle cx="151.3" cy="567.6" r="1.2" fill="#fff"/>
<circle cx="161.4" cy="560.0" r="1.2" fill="#fff"/>
<circle cx="161.7" cy="569.8" r="1.2" fill="#fff"/>
<circle cx="160.7" cy="568.6" r="1.2" fill="#fff"/>
<circle cx="149.9" cy="585.1" r="1.2" fill="#fff"/>
<circle cx="151.2" cy="550.2" r="1.2" fill="#fff"/>
<circle cx="154.3" cy="586.0" r="1.2" fill="#fff"/>
<circle cx="155.1" cy="549.4" r="1.2" fill="#fff"/>
<circle cx="159.0" cy="573.1" r="1.2" fill="#fff"/>
<circle cx="155.9" cy="564.1" r="1.2" fill="#fff"/>
<circle cx="154.2" cy="568.4" r="1.2" fill="#fff"/>
<circle cx="161.8" cy="576.4" r="1.2" fill="#fff"/>
<circle cx="163.8" cy="555.6" r="1.2" fill="#fff"/>
<circle cx="152.2" cy="553.6" r="1.2" fill="#fff"/>
<circle cx="166.3" cy="561.1" r="1.2" fill="#fff"/>
<circle cx="158.0" cy="554.3" r="1.2" fill="#fff"/>
<circle cx="155.0" cy="549.0" r="1.2" fill="#fff"/>
<circle cx="159.5" cy="555.5" r="1.2" fill="#fff"/>
<circle cx="160.6" cy="562.2" r="1.2" fill="#fff"/>
<circle cx="153.2" cy="573.1" r="1.2" fill="#fff"/>
<circle cx="155.8" cy="561.5" r="1.2" fill="#fff"/>
<circle cx="165.5" cy="564.1" r="1.2" fill="#fff"/>
<circle cx="150.5" cy="557.5" r="1.2" fill="#fff"/>
<circle cx="152.7" cy="593.1" r="1.2" fill="#fff"/>
<circle cx="158.0" cy="569.6" r="1.2" fill="#fff"/>
<circle cx="163.9" cy="568.6" r="1.2" fill="#fff"/>
<circle cx="154.1" cy="596.8" r="1.2" fill="#fff"/>
<circle cx="162.4" cy="557.1" r="1.2" fill="#fff"/>
<circle cx="151.2" cy="551.9" r="1.2" fill="#fff"/>
<circle cx="154.7" cy="574.7" r="1.2" fill="#fff"/>
<circle cx="162.0" cy="561.0" r="1.2" fill="#fff"/>
<circle cx="159.7" cy="559.8" r="1.2" fill="#fff"/>
<circle cx="156.2" cy="567.2" r="1.2" fill="#fff"/>
<path d="M100.0,506.0 L118.0,509.5 L130.0,514.0 L137.0,519.0 L132.0,521.0 L118.0,516.0 L104.0,513.0Z" fill="#F8766D" opacity="0.35"/>
<circle cx="124.3" cy="518.2" r="1.25" fill="#F8766D"/>
<circle cx="113.1" cy="510.2" r="1.25" fill="#F8766D"/>
<circle cx="103.5" cy="511.0" r="1.25" fill="#F8766D"/>
<circle cx="127.5" cy="514.2" r="1.25" fill="#F8766D"/>
<circle cx="103.9" cy="508.1" r="1.25" fill="#F8766D"/>
<circle cx="113.0" cy="512.5" r="1.25" fill="#F8766D"/>
<circle cx="114.9" cy="510.8" r="1.25" fill="#F8766D"/>
<circle cx="108.1" cy="512.1" r="1.25" fill="#F8766D"/>
<circle cx="106.8" cy="511.4" r="1.25" fill="#F8766D"/>
<circle cx="123.5" cy="511.7" r="1.25" fill="#F8766D"/>
<circle cx="131.7" cy="515.4" r="1.25" fill="#F8766D"/>
<circle cx="118.7" cy="514.5" r="1.25" fill="#F8766D"/>
<circle cx="99.3" cy="595.3" r="1.25" fill="#F8766D"/>
<circle cx="136.1" cy="586.4" r="1.25" fill="#F8766D"/>
<circle cx="134.6" cy="585.6" r="1.25" fill="#F8766D"/>
<circle cx="116.6" cy="581.3" r="1.25" fill="#F8766D"/>
<circle cx="130.4" cy="589.2" r="1.25" fill="#F8766D"/>
<circle cx="132.1" cy="586.3" r="1.25" fill="#F8766D"/>
<circle cx="130.0" cy="589.7" r="1.25" fill="#F8766D"/>
<circle cx="139.2" cy="583.2" r="1.25" fill="#F8766D"/>
<circle cx="139.2" cy="598.8" r="1.25" fill="#F8766D"/>
<circle cx="117.7" cy="596.0" r="1.25" fill="#F8766D"/>
<circle cx="123.4" cy="581.4" r="1.25" fill="#F8766D"/>
<circle cx="145.8" cy="590.9" r="1.25" fill="#F8766D"/>
<circle cx="152.0" cy="595.1" r="1.25" fill="#F8766D"/>
<circle cx="143.1" cy="587.8" r="1.25" fill="#F8766D"/>
<circle cx="147.7" cy="592.4" r="1.25" fill="#F8766D"/>
<circle cx="108.0" cy="594.6" r="1.25" fill="#F8766D"/>
<circle cx="121.1" cy="588.3" r="1.25" fill="#F8766D"/>
<circle cx="109.9" cy="590.8" r="1.25" fill="#F8766D"/>
<circle cx="96.7" cy="588.8" r="1.25" fill="#F8766D"/>
<circle cx="142.4" cy="587.3" r="1.25" fill="#F8766D"/>
<circle cx="107.5" cy="594.4" r="1.25" fill="#F8766D"/>
<circle cx="146.7" cy="593.7" r="1.25" fill="#F8766D"/>
<circle cx="127.2" cy="596.8" r="1.25" fill="#F8766D"/>
<circle cx="115.4" cy="578.3" r="1.25" fill="#F8766D"/>
<circle cx="94.4" cy="584.0" r="1.25" fill="#F8766D"/>
<circle cx="147.4" cy="595.2" r="1.25" fill="#F8766D"/>
<circle cx="99.5" cy="580.2" r="1.25" fill="#F8766D"/>
<circle cx="116.9" cy="595.5" r="1.25" fill="#F8766D"/>
<circle cx="131.5" cy="596.7" r="1.25" fill="#F8766D"/>
<circle cx="105.2" cy="590.5" r="1.25" fill="#F8766D"/>
<circle cx="113.2" cy="564.0" r="1.25" fill="#F8766D"/>
<circle cx="97.5" cy="563.4" r="1.25" fill="#F8766D"/>
<circle cx="102.9" cy="556.2" r="1.25" fill="#F8766D"/>
<circle cx="100.8" cy="559.5" r="1.25" fill="#F8766D"/>
<circle cx="107.5" cy="559.1" r="1.25" fill="#F8766D"/>
<circle cx="106.9" cy="563.6" r="1.25" fill="#F8766D"/>
<circle cx="97.2" cy="557.4" r="1.25" fill="#F8766D"/>
<circle cx="109.0" cy="561.1" r="1.25" fill="#F8766D"/>
<circle cx="154.1" cy="607.6" r="1.25" fill="#F8766D"/>
<circle cx="157.7" cy="608.7" r="1.25" fill="#F8766D"/>
<circle cx="163.8" cy="611.0" r="1.25" fill="#F8766D"/>
<circle cx="157.0" cy="611.7" r="1.25" fill="#F8766D"/>
<circle cx="107.3" cy="616.3" r="1.25" fill="#F8766D"/>
<circle cx="120.4" cy="614.6" r="1.25" fill="#F8766D"/>
<circle cx="117.3" cy="617.0" r="1.25" fill="#F8766D"/>
<circle cx="111.8" cy="615.8" r="1.25" fill="#F8766D"/>
<circle cx="133.8" cy="614.5" r="1.25" fill="#F8766D"/>
<circle cx="146.7" cy="613.9" r="1.25" fill="#F8766D"/>
<circle cx="137.2" cy="616.0" r="1.25" fill="#F8766D"/>
<circle cx="121.0" cy="612.8" r="1.25" fill="#F8766D"/>
<circle cx="114.6" cy="616.9" r="1.25" fill="#F8766D"/>
<circle cx="133.6" cy="612.4" r="1.25" fill="#F8766D"/>
<circle cx="120.6" cy="611.3" r="1.25" fill="#F8766D"/>
<circle cx="144.8" cy="612.5" r="1.25" fill="#F8766D"/>
<circle cx="121.0" cy="613.4" r="1.25" fill="#F8766D"/>
<circle cx="141.0" cy="618.5" r="1.25" fill="#F8766D"/>
<circle cx="160.3" cy="592.7" r="1.25" fill="#F8766D"/>
<circle cx="153.4" cy="598.3" r="1.25" fill="#F8766D"/>
<circle cx="153.2" cy="589.8" r="1.25" fill="#F8766D"/>
<circle cx="157.2" cy="595.6" r="1.25" fill="#F8766D"/>
<circle cx="161.4" cy="589.5" r="1.25" fill="#F8766D"/>
<circle cx="152.3" cy="594.1" r="1.25" fill="#F8766D"/>
<path d="M48.4,530.0 L55.8,525.4 L65.0,524.4 L72.4,528.1 L78.0,535.6 L79.9,546.7 L76.0,553.0 L82.0,557.0 L92.0,557.0 L95.0,562.0 L93.0,568.0 L89.1,574.0 L78.0,578.1 L65.0,578.6 L50.2,578.6 L41.0,575.0 L39.1,565.2 L42.8,554.0 L44.7,544.8 L46.5,535.6Z" fill="#619CFF"/>
<circle cx="48.3" cy="529.6" r="1.1" fill="#619CFF"/>
<circle cx="49.8" cy="528.6" r="1.1" fill="#619CFF"/>
<circle cx="51.8" cy="528.5" r="1.1" fill="#619CFF"/>
<circle cx="54.2" cy="528.6" r="1.1" fill="#619CFF"/>
<circle cx="55.7" cy="526.0" r="1.1" fill="#619CFF"/>
<circle cx="56.7" cy="525.8" r="1.1" fill="#619CFF"/>
<circle cx="58.2" cy="526.6" r="1.1" fill="#619CFF"/>
<circle cx="58.3" cy="524.9" r="1.1" fill="#619CFF"/>
<circle cx="61.0" cy="525.2" r="1.1" fill="#619CFF"/>
<circle cx="62.4" cy="526.0" r="1.1" fill="#619CFF"/>
<circle cx="64.2" cy="524.0" r="1.1" fill="#619CFF"/>
<circle cx="65.5" cy="524.8" r="1.1" fill="#619CFF"/>
<circle cx="68.6" cy="524.7" r="1.1" fill="#619CFF"/>
<circle cx="68.5" cy="527.0" r="1.1" fill="#619CFF"/>
<circle cx="71.3" cy="528.0" r="1.1" fill="#619CFF"/>
<circle cx="71.7" cy="529.0" r="1.1" fill="#619CFF"/>
<circle cx="74.2" cy="530.4" r="1.1" fill="#619CFF"/>
<circle cx="73.6" cy="531.0" r="1.1" fill="#619CFF"/>
<circle cx="74.4" cy="533.6" r="1.1" fill="#619CFF"/>
<circle cx="78.1" cy="535.2" r="1.1" fill="#619CFF"/>
<circle cx="76.7" cy="535.2" r="1.1" fill="#619CFF"/>
<circle cx="78.4" cy="537.3" r="1.1" fill="#619CFF"/>
<circle cx="77.5" cy="539.6" r="1.1" fill="#619CFF"/>
<circle cx="78.3" cy="540.4" r="1.1" fill="#619CFF"/>
<circle cx="78.0" cy="542.1" r="1.1" fill="#619CFF"/>
<circle cx="78.3" cy="542.4" r="1.1" fill="#619CFF"/>
<circle cx="79.7" cy="544.5" r="1.1" fill="#619CFF"/>
<circle cx="80.7" cy="546.0" r="1.1" fill="#619CFF"/>
<circle cx="78.7" cy="547.0" r="1.1" fill="#619CFF"/>
<circle cx="77.2" cy="549.7" r="1.1" fill="#619CFF"/>
<circle cx="77.1" cy="551.3" r="1.1" fill="#619CFF"/>
<circle cx="77.0" cy="551.9" r="1.1" fill="#619CFF"/>
<circle cx="78.5" cy="553.0" r="1.1" fill="#619CFF"/>
<circle cx="80.3" cy="555.1" r="1.1" fill="#619CFF"/>
<circle cx="80.2" cy="556.3" r="1.1" fill="#619CFF"/>
<circle cx="83.0" cy="558.3" r="1.1" fill="#619CFF"/>
<circle cx="83.4" cy="555.6" r="1.1" fill="#619CFF"/>
<circle cx="84.4" cy="557.9" r="1.1" fill="#619CFF"/>
<circle cx="87.7" cy="557.6" r="1.1" fill="#619CFF"/>
<circle cx="87.7" cy="557.1" r="1.1" fill="#619CFF"/>
<circle cx="89.0" cy="555.9" r="1.1" fill="#619CFF"/>
<circle cx="91.4" cy="558.3" r="1.1" fill="#619CFF"/>
<circle cx="93.4" cy="559.6" r="1.1" fill="#619CFF"/>
<circle cx="92.7" cy="560.1" r="1.1" fill="#619CFF"/>
<circle cx="93.8" cy="561.3" r="1.1" fill="#619CFF"/>
<circle cx="93.2" cy="565.2" r="1.1" fill="#619CFF"/>
<circle cx="93.2" cy="566.0" r="1.1" fill="#619CFF"/>
<circle cx="93.4" cy="569.1" r="1.1" fill="#619CFF"/>
<circle cx="93.3" cy="569.7" r="1.1" fill="#619CFF"/>
<circle cx="91.1" cy="572.1" r="1.1" fill="#619CFF"/>
<circle cx="89.8" cy="571.9" r="1.1" fill="#619CFF"/>
<circle cx="89.8" cy="573.3" r="1.1" fill="#619CFF"/>
<circle cx="87.1" cy="574.4" r="1.1" fill="#619CFF"/>
<circle cx="85.9" cy="574.8" r="1.1" fill="#619CFF"/>
<circle cx="84.1" cy="575.6" r="1.1" fill="#619CFF"/>
<circle cx="81.5" cy="577.3" r="1.1" fill="#619CFF"/>
<circle cx="79.9" cy="577.0" r="1.1" fill="#619CFF"/>
<circle cx="79.7" cy="577.2" r="1.1" fill="#619CFF"/>
<circle cx="77.2" cy="577.0" r="1.1" fill="#619CFF"/>
<circle cx="76.0" cy="577.6" r="1.1" fill="#619CFF"/>
<circle cx="74.7" cy="577.5" r="1.1" fill="#619CFF"/>
<circle cx="73.8" cy="578.3" r="1.1" fill="#619CFF"/>
<circle cx="70.1" cy="578.1" r="1.1" fill="#619CFF"/>
<circle cx="71.2" cy="577.0" r="1.1" fill="#619CFF"/>
<circle cx="68.5" cy="579.8" r="1.1" fill="#619CFF"/>
<circle cx="66.2" cy="578.8" r="1.1" fill="#619CFF"/>
<circle cx="64.6" cy="578.0" r="1.1" fill="#619CFF"/>
<circle cx="63.7" cy="578.9" r="1.1" fill="#619CFF"/>
<circle cx="61.2" cy="578.6" r="1.1" fill="#619CFF"/>
<circle cx="60.1" cy="579.3" r="1.1" fill="#619CFF"/>
<circle cx="57.2" cy="577.5" r="1.1" fill="#619CFF"/>
<circle cx="56.1" cy="578.0" r="1.1" fill="#619CFF"/>
<circle cx="56.0" cy="578.4" r="1.1" fill="#619CFF"/>
<circle cx="54.5" cy="578.3" r="1.1" fill="#619CFF"/>
<circle cx="51.2" cy="579.1" r="1.1" fill="#619CFF"/>
<circle cx="49.0" cy="580.0" r="1.1" fill="#619CFF"/>
<circle cx="49.6" cy="577.5" r="1.1" fill="#619CFF"/>
<circle cx="46.6" cy="578.3" r="1.1" fill="#619CFF"/>
<circle cx="46.4" cy="577.2" r="1.1" fill="#619CFF"/>
<circle cx="42.8" cy="576.9" r="1.1" fill="#619CFF"/>
<circle cx="41.3" cy="575.9" r="1.1" fill="#619CFF"/>
<circle cx="41.1" cy="576.2" r="1.1" fill="#619CFF"/>
<circle cx="41.1" cy="572.0" r="1.1" fill="#619CFF"/>
<circle cx="41.6" cy="572.4" r="1.1" fill="#619CFF"/>
<circle cx="40.3" cy="568.7" r="1.1" fill="#619CFF"/>
<circle cx="40.4" cy="568.2" r="1.1" fill="#619CFF"/>
<circle cx="39.9" cy="568.2" r="1.1" fill="#619CFF"/>
<circle cx="40.3" cy="564.0" r="1.1" fill="#619CFF"/>
<circle cx="40.4" cy="563.4" r="1.1" fill="#619CFF"/>
<circle cx="40.9" cy="561.7" r="1.1" fill="#619CFF"/>
<circle cx="40.5" cy="560.2" r="1.1" fill="#619CFF"/>
<circle cx="40.1" cy="558.3" r="1.1" fill="#619CFF"/>
<circle cx="42.4" cy="556.0" r="1.1" fill="#619CFF"/>
<circle cx="41.2" cy="556.5" r="1.1" fill="#619CFF"/>
<circle cx="43.3" cy="554.1" r="1.1" fill="#619CFF"/>
<circle cx="42.1" cy="551.1" r="1.1" fill="#619CFF"/>
<circle cx="43.0" cy="551.6" r="1.1" fill="#619CFF"/>
<circle cx="44.1" cy="549.7" r="1.1" fill="#619CFF"/>
<circle cx="43.5" cy="546.4" r="1.1" fill="#619CFF"/>
<circle cx="44.8" cy="545.7" r="1.1" fill="#619CFF"/>
<circle cx="44.0" cy="544.0" r="1.1" fill="#619CFF"/>
<circle cx="45.3" cy="539.8" r="1.1" fill="#619CFF"/>
<circle cx="45.6" cy="538.9" r="1.1" fill="#619CFF"/>
<circle cx="46.6" cy="538.6" r="1.1" fill="#619CFF"/>
<circle cx="46.5" cy="536.1" r="1.1" fill="#619CFF"/>
<circle cx="46.8" cy="534.5" r="1.1" fill="#619CFF"/>
<circle cx="46.7" cy="532.5" r="1.1" fill="#619CFF"/>
<path d="M80.0,517.0 L98.4,517.0 L106.0,527.0 L118.0,531.0 L132.0,532.0 L140.0,533.0 L145.0,538.0 L152.0,541.0 L160.0,541.5 L165.0,545.0 L163.0,549.0 L152.0,548.5 L144.0,552.0 L128.0,553.0 L111.3,556.0 L92.8,557.0 L78.0,558.0 L72.4,555.9 L76.1,548.5 L79.9,539.3Z" fill="#DB72FB"/>
<circle cx="79.1" cy="517.2" r="1.1" fill="#DB72FB"/>
<circle cx="80.8" cy="516.6" r="1.1" fill="#DB72FB"/>
<circle cx="82.4" cy="516.6" r="1.1" fill="#DB72FB"/>
<circle cx="85.3" cy="517.1" r="1.1" fill="#DB72FB"/>
<circle cx="86.4" cy="517.2" r="1.1" fill="#DB72FB"/>
<circle cx="89.3" cy="516.6" r="1.1" fill="#DB72FB"/>
<circle cx="90.3" cy="516.9" r="1.1" fill="#DB72FB"/>
<circle cx="93.1" cy="516.5" r="1.1" fill="#DB72FB"/>
<circle cx="93.9" cy="516.3" r="1.1" fill="#DB72FB"/>
<circle cx="94.4" cy="517.6" r="1.1" fill="#DB72FB"/>
<circle cx="96.9" cy="516.3" r="1.1" fill="#DB72FB"/>
<circle cx="97.2" cy="517.9" r="1.1" fill="#DB72FB"/>
<circle cx="99.1" cy="519.0" r="1.1" fill="#DB72FB"/>
<circle cx="100.4" cy="520.2" r="1.1" fill="#DB72FB"/>
<circle cx="101.8" cy="522.6" r="1.1" fill="#DB72FB"/>
<circle cx="103.9" cy="522.6" r="1.1" fill="#DB72FB"/>
<circle cx="103.8" cy="523.4" r="1.1" fill="#DB72FB"/>
<circle cx="105.6" cy="524.5" r="1.1" fill="#DB72FB"/>
<circle cx="105.5" cy="528.0" r="1.1" fill="#DB72FB"/>
<circle cx="106.4" cy="528.1" r="1.1" fill="#DB72FB"/>
<circle cx="109.6" cy="528.3" r="1.1" fill="#DB72FB"/>
<circle cx="110.7" cy="527.7" r="1.1" fill="#DB72FB"/>
<circle cx="114.1" cy="530.0" r="1.1" fill="#DB72FB"/>
<circle cx="115.4" cy="528.7" r="1.1" fill="#DB72FB"/>
<circle cx="117.1" cy="529.6" r="1.1" fill="#DB72FB"/>
<circle cx="117.2" cy="531.1" r="1.1" fill="#DB72FB"/>
<circle cx="120.1" cy="530.1" r="1.1" fill="#DB72FB"/>
<circle cx="122.2" cy="531.5" r="1.1" fill="#DB72FB"/>
<circle cx="124.4" cy="532.6" r="1.1" fill="#DB72FB"/>
<circle cx="125.5" cy="531.1" r="1.1" fill="#DB72FB"/>
<circle cx="128.0" cy="532.2" r="1.1" fill="#DB72FB"/>
<circle cx="127.9" cy="532.8" r="1.1" fill="#DB72FB"/>
<circle cx="130.9" cy="531.2" r="1.1" fill="#DB72FB"/>
<circle cx="131.3" cy="530.7" r="1.1" fill="#DB72FB"/>
<circle cx="133.7" cy="531.5" r="1.1" fill="#DB72FB"/>
<circle cx="134.6" cy="531.7" r="1.1" fill="#DB72FB"/>
<circle cx="135.8" cy="532.6" r="1.1" fill="#DB72FB"/>
<circle cx="137.8" cy="532.2" r="1.1" fill="#DB72FB"/>
<circle cx="139.4" cy="533.0" r="1.1" fill="#DB72FB"/>
<circle cx="142.3" cy="533.3" r="1.1" fill="#DB72FB"/>
<circle cx="143.5" cy="536.5" r="1.1" fill="#DB72FB"/>
<circle cx="144.1" cy="536.9" r="1.1" fill="#DB72FB"/>
<circle cx="145.7" cy="538.1" r="1.1" fill="#DB72FB"/>
<circle cx="147.2" cy="539.9" r="1.1" fill="#DB72FB"/>
<circle cx="149.3" cy="538.8" r="1.1" fill="#DB72FB"/>
<circle cx="149.0" cy="541.5" r="1.1" fill="#DB72FB"/>
<circle cx="151.6" cy="541.8" r="1.1" fill="#DB72FB"/>
<circle cx="152.9" cy="541.0" r="1.1" fill="#DB72FB"/>
<circle cx="154.8" cy="541.8" r="1.1" fill="#DB72FB"/>
<circle cx="158.0" cy="541.3" r="1.1" fill="#DB72FB"/>
<circle cx="158.6" cy="541.0" r="1.1" fill="#DB72FB"/>
<circle cx="159.3" cy="542.8" r="1.1" fill="#DB72FB"/>
<circle cx="160.6" cy="543.9" r="1.1" fill="#DB72FB"/>
<circle cx="163.8" cy="542.6" r="1.1" fill="#DB72FB"/>
<circle cx="166.1" cy="543.9" r="1.1" fill="#DB72FB"/>
<circle cx="164.2" cy="545.9" r="1.1" fill="#DB72FB"/>
<circle cx="164.4" cy="548.5" r="1.1" fill="#DB72FB"/>
<circle cx="162.2" cy="547.7" r="1.1" fill="#DB72FB"/>
<circle cx="159.8" cy="547.6" r="1.1" fill="#DB72FB"/>
<circle cx="156.2" cy="548.9" r="1.1" fill="#DB72FB"/>
<circle cx="157.0" cy="549.2" r="1.1" fill="#DB72FB"/>
<circle cx="154.8" cy="549.4" r="1.1" fill="#DB72FB"/>
<circle cx="152.1" cy="547.3" r="1.1" fill="#DB72FB"/>
<circle cx="150.5" cy="548.3" r="1.1" fill="#DB72FB"/>
<circle cx="148.9" cy="549.5" r="1.1" fill="#DB72FB"/>
<circle cx="147.2" cy="549.8" r="1.1" fill="#DB72FB"/>
<circle cx="146.2" cy="551.1" r="1.1" fill="#DB72FB"/>
<circle cx="144.0" cy="550.8" r="1.1" fill="#DB72FB"/>
<circle cx="142.4" cy="552.3" r="1.1" fill="#DB72FB"/>
<circle cx="142.1" cy="552.4" r="1.1" fill="#DB72FB"/>
<circle cx="138.2" cy="551.7" r="1.1" fill="#DB72FB"/>
<circle cx="137.1" cy="553.0" r="1.1" fill="#DB72FB"/>
<circle cx="137.2" cy="553.8" r="1.1" fill="#DB72FB"/>
<circle cx="135.7" cy="553.8" r="1.1" fill="#DB72FB"/>
<circle cx="133.8" cy="553.9" r="1.1" fill="#DB72FB"/>
<circle cx="129.9" cy="552.8" r="1.1" fill="#DB72FB"/>
<circle cx="129.9" cy="553.4" r="1.1" fill="#DB72FB"/>
<circle cx="128.3" cy="553.3" r="1.1" fill="#DB72FB"/>
<circle cx="127.5" cy="552.1" r="1.1" fill="#DB72FB"/>
<circle cx="124.7" cy="554.9" r="1.1" fill="#DB72FB"/>
<circle cx="121.7" cy="552.8" r="1.1" fill="#DB72FB"/>
<circle cx="122.4" cy="555.5" r="1.1" fill="#DB72FB"/>
<circle cx="118.3" cy="553.2" r="1.1" fill="#DB72FB"/>
<circle cx="118.9" cy="555.3" r="1.1" fill="#DB72FB"/>
<circle cx="116.4" cy="555.3" r="1.1" fill="#DB72FB"/>
<circle cx="115.4" cy="556.3" r="1.1" fill="#DB72FB"/>
<circle cx="111.6" cy="554.5" r="1.1" fill="#DB72FB"/>
<circle cx="112.1" cy="557.3" r="1.1" fill="#DB72FB"/>
<circle cx="110.6" cy="555.8" r="1.1" fill="#DB72FB"/>
<circle cx="107.5" cy="555.8" r="1.1" fill="#DB72FB"/>
<circle cx="104.9" cy="557.0" r="1.1" fill="#DB72FB"/>
<circle cx="103.9" cy="556.6" r="1.1" fill="#DB72FB"/>
<circle cx="103.0" cy="556.0" r="1.1" fill="#DB72FB"/>
<circle cx="101.7" cy="556.4" r="1.1" fill="#DB72FB"/>
<circle cx="98.8" cy="557.7" r="1.1" fill="#DB72FB"/>
<circle cx="96.9" cy="555.7" r="1.1" fill="#DB72FB"/>
<circle cx="95.5" cy="556.8" r="1.1" fill="#DB72FB"/>
<circle cx="95.3" cy="556.4" r="1.1" fill="#DB72FB"/>
<circle cx="92.1" cy="557.4" r="1.1" fill="#DB72FB"/>
<circle cx="90.5" cy="557.2" r="1.1" fill="#DB72FB"/>
<circle cx="88.8" cy="558.3" r="1.1" fill="#DB72FB"/>
<circle cx="87.0" cy="556.6" r="1.1" fill="#DB72FB"/>
<circle cx="85.7" cy="557.0" r="1.1" fill="#DB72FB"/>
<circle cx="85.2" cy="558.0" r="1.1" fill="#DB72FB"/>
<circle cx="83.7" cy="557.8" r="1.1" fill="#DB72FB"/>
<circle cx="80.1" cy="558.5" r="1.1" fill="#DB72FB"/>
<circle cx="78.9" cy="557.1" r="1.1" fill="#DB72FB"/>
<circle cx="77.8" cy="559.4" r="1.1" fill="#DB72FB"/>
<circle cx="75.8" cy="556.9" r="1.1" fill="#DB72FB"/>
<circle cx="75.4" cy="558.0" r="1.1" fill="#DB72FB"/>
<circle cx="72.1" cy="554.9" r="1.1" fill="#DB72FB"/>
<circle cx="74.0" cy="555.2" r="1.1" fill="#DB72FB"/>
<circle cx="73.4" cy="553.8" r="1.1" fill="#DB72FB"/>
<circle cx="74.3" cy="550.9" r="1.1" fill="#DB72FB"/>
<circle cx="75.6" cy="550.7" r="1.1" fill="#DB72FB"/>
<circle cx="76.0" cy="549.4" r="1.1" fill="#DB72FB"/>
<circle cx="75.4" cy="547.0" r="1.1" fill="#DB72FB"/>
<circle cx="77.0" cy="544.2" r="1.1" fill="#DB72FB"/>
<circle cx="79.2" cy="542.9" r="1.1" fill="#DB72FB"/>
<circle cx="77.8" cy="543.4" r="1.1" fill="#DB72FB"/>
<circle cx="80.6" cy="542.0" r="1.1" fill="#DB72FB"/>
<circle cx="79.5" cy="540.5" r="1.1" fill="#DB72FB"/>
<circle cx="78.9" cy="538.2" r="1.1" fill="#DB72FB"/>
<circle cx="81.2" cy="535.0" r="1.1" fill="#DB72FB"/>
<circle cx="78.9" cy="534.7" r="1.1" fill="#DB72FB"/>
<circle cx="81.0" cy="533.1" r="1.1" fill="#DB72FB"/>
<circle cx="81.2" cy="530.6" r="1.1" fill="#DB72FB"/>
<circle cx="79.6" cy="527.9" r="1.1" fill="#DB72FB"/>
<circle cx="79.3" cy="528.5" r="1.1" fill="#DB72FB"/>
<circle cx="78.8" cy="524.7" r="1.1" fill="#DB72FB"/>
<circle cx="79.5" cy="522.6" r="1.1" fill="#DB72FB"/>
<circle cx="79.4" cy="521.3" r="1.1" fill="#DB72FB"/>
<circle cx="78.9" cy="520.5" r="1.1" fill="#DB72FB"/>
<circle cx="80.1" cy="518.9" r="1.1" fill="#DB72FB"/>
<path d="M96.0,602.0 L110.0,601.0 L127.0,603.0 L129.0,607.5 L115.0,610.5 L98.0,610.0Z" fill="#DB72FB" opacity="0.55"/>
<circle cx="96.7" cy="602.1" r="1.1" fill="#DB72FB"/>
<circle cx="100.1" cy="600.6" r="1.1" fill="#DB72FB"/>
<circle cx="100.8" cy="600.4" r="1.1" fill="#DB72FB"/>
<circle cx="103.9" cy="602.1" r="1.1" fill="#DB72FB"/>
<circle cx="108.4" cy="601.2" r="1.1" fill="#DB72FB"/>
<circle cx="109.0" cy="600.5" r="1.1" fill="#DB72FB"/>
<circle cx="113.0" cy="600.8" r="1.1" fill="#DB72FB"/>
<circle cx="116.5" cy="603.0" r="1.1" fill="#DB72FB"/>
<circle cx="118.4" cy="602.3" r="1.1" fill="#DB72FB"/>
<circle cx="122.3" cy="602.2" r="1.1" fill="#DB72FB"/>
<circle cx="123.3" cy="603.9" r="1.1" fill="#DB72FB"/>
<circle cx="128.3" cy="601.7" r="1.1" fill="#DB72FB"/>
<circle cx="129.7" cy="607.2" r="1.1" fill="#DB72FB"/>
<circle cx="124.9" cy="607.2" r="1.1" fill="#DB72FB"/>
<circle cx="122.5" cy="609.4" r="1.1" fill="#DB72FB"/>
<circle cx="119.8" cy="608.0" r="1.1" fill="#DB72FB"/>
<circle cx="117.0" cy="610.7" r="1.1" fill="#DB72FB"/>
<circle cx="115.0" cy="610.9" r="1.1" fill="#DB72FB"/>
<circle cx="112.1" cy="609.5" r="1.1" fill="#DB72FB"/>
<circle cx="108.0" cy="609.8" r="1.1" fill="#DB72FB"/>
<circle cx="105.2" cy="609.6" r="1.1" fill="#DB72FB"/>
<circle cx="104.0" cy="609.8" r="1.1" fill="#DB72FB"/>
<circle cx="100.8" cy="610.4" r="1.1" fill="#DB72FB"/>
<circle cx="97.5" cy="609.6" r="1.1" fill="#DB72FB"/>
<circle cx="98.4" cy="607.6" r="1.1" fill="#DB72FB"/>
<circle cx="96.4" cy="604.8" r="1.1" fill="#DB72FB"/>
<circle cx="111.2" cy="604.2" r="1.25" fill="#F8766D"/>
<circle cx="126.2" cy="603.2" r="1.25" fill="#F8766D"/>
<circle cx="112.8" cy="610.4" r="1.25" fill="#F8766D"/>
<circle cx="105.5" cy="602.6" r="1.25" fill="#F8766D"/>
<circle cx="119.9" cy="603.2" r="1.25" fill="#F8766D"/>
<circle cx="115.3" cy="602.5" r="1.25" fill="#F8766D"/>
<circle cx="127.3" cy="603.7" r="1.25" fill="#F8766D"/>
<circle cx="99.2" cy="607.5" r="1.25" fill="#F8766D"/>
<circle cx="107.5" cy="606.3" r="1.25" fill="#F8766D"/>
<circle cx="112.4" cy="609.8" r="1.25" fill="#F8766D"/>
<path d="M41.0,500.4 L46.5,494.8 L55.8,490.2 L65.0,487.2 L74.3,487.3 L83.6,488.3 L91.0,490.0 L96.5,493.0 L102.0,498.5 L102.5,505.0 L98.4,513.3 L89.1,517.0 L83.6,518.9 L85.4,526.3 L96.5,531.9 L100.2,539.3 L92.8,539.3 L83.6,535.6 L72.4,528.1 L65.0,524.4 L55.8,525.4 L48.4,530.0 L46.5,535.6 L50.2,543.0 L46.5,544.8 L44.7,539.3 L42.8,526.3 L40.0,513.3Z" fill="#93AA00"/>
<circle cx="41.0" cy="500.1" r="1.1" fill="#93AA00"/>
<circle cx="41.0" cy="499.0" r="1.1" fill="#93AA00"/>
<circle cx="43.1" cy="497.8" r="1.1" fill="#93AA00"/>
<circle cx="45.5" cy="496.1" r="1.1" fill="#93AA00"/>
<circle cx="45.4" cy="494.8" r="1.1" fill="#93AA00"/>
<circle cx="48.0" cy="494.4" r="1.1" fill="#93AA00"/>
<circle cx="50.9" cy="492.7" r="1.1" fill="#93AA00"/>
<circle cx="51.0" cy="491.3" r="1.1" fill="#93AA00"/>
<circle cx="53.5" cy="491.0" r="1.1" fill="#93AA00"/>
<circle cx="55.2" cy="491.8" r="1.1" fill="#93AA00"/>
<circle cx="55.1" cy="491.3" r="1.1" fill="#93AA00"/>
<circle cx="57.3" cy="489.5" r="1.1" fill="#93AA00"/>
<circle cx="59.0" cy="490.4" r="1.1" fill="#93AA00"/>
<circle cx="60.4" cy="488.7" r="1.1" fill="#93AA00"/>
<circle cx="61.3" cy="489.2" r="1.1" fill="#93AA00"/>
<circle cx="63.5" cy="487.3" r="1.1" fill="#93AA00"/>
<circle cx="64.2" cy="486.4" r="1.1" fill="#93AA00"/>
<circle cx="67.8" cy="488.1" r="1.1" fill="#93AA00"/>
<circle cx="70.1" cy="488.4" r="1.1" fill="#93AA00"/>
<circle cx="71.1" cy="488.1" r="1.1" fill="#93AA00"/>
<circle cx="73.0" cy="488.1" r="1.1" fill="#93AA00"/>
<circle cx="75.1" cy="486.4" r="1.1" fill="#93AA00"/>
<circle cx="77.0" cy="486.9" r="1.1" fill="#93AA00"/>
<circle cx="77.3" cy="488.9" r="1.1" fill="#93AA00"/>
<circle cx="78.5" cy="487.9" r="1.1" fill="#93AA00"/>
<circle cx="81.3" cy="488.9" r="1.1" fill="#93AA00"/>
<circle cx="83.9" cy="489.5" r="1.1" fill="#93AA00"/>
<circle cx="86.7" cy="489.1" r="1.1" fill="#93AA00"/>
<circle cx="86.1" cy="489.6" r="1.1" fill="#93AA00"/>
<circle cx="88.1" cy="490.9" r="1.1" fill="#93AA00"/>
<circle cx="92.0" cy="489.5" r="1.1" fill="#93AA00"/>
<circle cx="92.0" cy="491.5" r="1.1" fill="#93AA00"/>
<circle cx="95.4" cy="493.4" r="1.1" fill="#93AA00"/>
<circle cx="96.8" cy="492.0" r="1.1" fill="#93AA00"/>
<circle cx="98.5" cy="493.1" r="1.1" fill="#93AA00"/>
<circle cx="100.3" cy="496.5" r="1.1" fill="#93AA00"/>
<circle cx="101.4" cy="498.2" r="1.1" fill="#93AA00"/>
<circle cx="102.2" cy="499.7" r="1.1" fill="#93AA00"/>
<circle cx="102.5" cy="500.1" r="1.1" fill="#93AA00"/>
<circle cx="101.9" cy="501.3" r="1.1" fill="#93AA00"/>
<circle cx="101.0" cy="502.4" r="1.1" fill="#93AA00"/>
<circle cx="103.3" cy="504.2" r="1.1" fill="#93AA00"/>
<circle cx="102.1" cy="507.4" r="1.1" fill="#93AA00"/>
<circle cx="101.4" cy="508.4" r="1.1" fill="#93AA00"/>
<circle cx="99.5" cy="509.3" r="1.1" fill="#93AA00"/>
<circle cx="98.3" cy="512.1" r="1.1" fill="#93AA00"/>
<circle cx="98.9" cy="514.5" r="1.1" fill="#93AA00"/>
<circle cx="96.4" cy="515.1" r="1.1" fill="#93AA00"/>
<circle cx="96.5" cy="513.9" r="1.1" fill="#93AA00"/>
<circle cx="95.0" cy="515.5" r="1.1" fill="#93AA00"/>
<circle cx="93.5" cy="516.5" r="1.1" fill="#93AA00"/>
<circle cx="90.2" cy="515.8" r="1.1" fill="#93AA00"/>
<circle cx="89.2" cy="517.0" r="1.1" fill="#93AA00"/>
<circle cx="86.0" cy="518.6" r="1.1" fill="#93AA00"/>
<circle cx="85.5" cy="518.2" r="1.1" fill="#93AA00"/>
<circle cx="84.3" cy="518.2" r="1.1" fill="#93AA00"/>
<circle cx="83.2" cy="521.0" r="1.1" fill="#93AA00"/>
<circle cx="83.8" cy="522.1" r="1.1" fill="#93AA00"/>
<circle cx="83.7" cy="523.2" r="1.1" fill="#93AA00"/>
<circle cx="85.0" cy="526.4" r="1.1" fill="#93AA00"/>
<circle cx="88.2" cy="527.5" r="1.1" fill="#93AA00"/>
<circle cx="88.3" cy="527.6" r="1.1" fill="#93AA00"/>
<circle cx="89.4" cy="528.6" r="1.1" fill="#93AA00"/>
<circle cx="93.0" cy="528.4" r="1.1" fill="#93AA00"/>
<circle cx="93.1" cy="530.8" r="1.1" fill="#93AA00"/>
<circle cx="95.6" cy="531.3" r="1.1" fill="#93AA00"/>
<circle cx="96.9" cy="533.1" r="1.1" fill="#93AA00"/>
<circle cx="98.4" cy="532.7" r="1.1" fill="#93AA00"/>
<circle cx="98.1" cy="536.3" r="1.1" fill="#93AA00"/>
<circle cx="98.8" cy="535.5" r="1.1" fill="#93AA00"/>
<circle cx="100.2" cy="536.6" r="1.1" fill="#93AA00"/>
<circle cx="99.2" cy="539.4" r="1.1" fill="#93AA00"/>
<circle cx="97.7" cy="539.9" r="1.1" fill="#93AA00"/>
<circle cx="97.1" cy="538.8" r="1.1" fill="#93AA00"/>
<circle cx="95.4" cy="539.7" r="1.1" fill="#93AA00"/>
<circle cx="93.4" cy="539.2" r="1.1" fill="#93AA00"/>
<circle cx="91.1" cy="537.6" r="1.1" fill="#93AA00"/>
<circle cx="89.7" cy="539.3" r="1.1" fill="#93AA00"/>
<circle cx="89.3" cy="536.2" r="1.1" fill="#93AA00"/>
<circle cx="85.5" cy="536.2" r="1.1" fill="#93AA00"/>
<circle cx="85.7" cy="536.0" r="1.1" fill="#93AA00"/>
<circle cx="82.6" cy="535.4" r="1.1" fill="#93AA00"/>
<circle cx="82.4" cy="535.3" r="1.1" fill="#93AA00"/>
<circle cx="80.5" cy="534.1" r="1.1" fill="#93AA00"/>
<circle cx="79.9" cy="533.1" r="1.1" fill="#93AA00"/>
<circle cx="76.7" cy="532.4" r="1.1" fill="#93AA00"/>
<circle cx="75.6" cy="529.7" r="1.1" fill="#93AA00"/>
<circle cx="75.1" cy="528.6" r="1.1" fill="#93AA00"/>
<circle cx="72.6" cy="528.7" r="1.1" fill="#93AA00"/>
<circle cx="72.3" cy="527.0" r="1.1" fill="#93AA00"/>
<circle cx="72.2" cy="528.3" r="1.1" fill="#93AA00"/>
<circle cx="69.4" cy="526.9" r="1.1" fill="#93AA00"/>
<circle cx="67.4" cy="527.2" r="1.1" fill="#93AA00"/>
<circle cx="65.4" cy="524.6" r="1.1" fill="#93AA00"/>
<circle cx="64.2" cy="525.4" r="1.1" fill="#93AA00"/>
<circle cx="63.2" cy="524.3" r="1.1" fill="#93AA00"/>
<circle cx="61.0" cy="525.9" r="1.1" fill="#93AA00"/>
<circle cx="58.8" cy="525.8" r="1.1" fill="#93AA00"/>
<circle cx="58.2" cy="525.1" r="1.1" fill="#93AA00"/>
<circle cx="55.4" cy="525.2" r="1.1" fill="#93AA00"/>
<circle cx="54.2" cy="525.8" r="1.1" fill="#93AA00"/>
<circle cx="53.2" cy="527.0" r="1.1" fill="#93AA00"/>
<circle cx="50.8" cy="528.9" r="1.1" fill="#93AA00"/>
<circle cx="49.8" cy="529.0" r="1.1" fill="#93AA00"/>
<circle cx="49.5" cy="529.9" r="1.1" fill="#93AA00"/>
<circle cx="47.4" cy="533.0" r="1.1" fill="#93AA00"/>
<circle cx="48.5" cy="534.5" r="1.1" fill="#93AA00"/>
<circle cx="46.2" cy="536.1" r="1.1" fill="#93AA00"/>
<circle cx="47.9" cy="536.5" r="1.1" fill="#93AA00"/>
<circle cx="48.6" cy="539.8" r="1.1" fill="#93AA00"/>
<circle cx="49.2" cy="540.5" r="1.1" fill="#93AA00"/>
<circle cx="49.3" cy="541.9" r="1.1" fill="#93AA00"/>
<circle cx="49.4" cy="543.8" r="1.1" fill="#93AA00"/>
<circle cx="48.5" cy="545.2" r="1.1" fill="#93AA00"/>
<circle cx="46.1" cy="545.4" r="1.1" fill="#93AA00"/>
<circle cx="44.5" cy="542.7" r="1.1" fill="#93AA00"/>
<circle cx="46.0" cy="540.5" r="1.1" fill="#93AA00"/>
<circle cx="45.0" cy="538.5" r="1.1" fill="#93AA00"/>
<circle cx="44.2" cy="539.1" r="1.1" fill="#93AA00"/>
<circle cx="43.4" cy="537.2" r="1.1" fill="#93AA00"/>
<circle cx="42.8" cy="534.7" r="1.1" fill="#93AA00"/>
<circle cx="44.6" cy="533.7" r="1.1" fill="#93AA00"/>
<circle cx="43.2" cy="531.4" r="1.1" fill="#93AA00"/>
<circle cx="43.9" cy="530.3" r="1.1" fill="#93AA00"/>
<circle cx="43.7" cy="528.1" r="1.1" fill="#93AA00"/>
<circle cx="42.1" cy="526.9" r="1.1" fill="#93AA00"/>
<circle cx="42.6" cy="524.8" r="1.1" fill="#93AA00"/>
<circle cx="43.5" cy="522.0" r="1.1" fill="#93AA00"/>
<circle cx="42.5" cy="520.9" r="1.1" fill="#93AA00"/>
<circle cx="42.0" cy="521.1" r="1.1" fill="#93AA00"/>
<circle cx="40.4" cy="518.4" r="1.1" fill="#93AA00"/>
<circle cx="40.8" cy="516.5" r="1.1" fill="#93AA00"/>
<circle cx="39.4" cy="515.3" r="1.1" fill="#93AA00"/>
<circle cx="41.1" cy="513.8" r="1.1" fill="#93AA00"/>
<circle cx="39.5" cy="512.5" r="1.1" fill="#93AA00"/>
<circle cx="40.0" cy="509.1" r="1.1" fill="#93AA00"/>
<circle cx="40.7" cy="508.4" r="1.1" fill="#93AA00"/>
<circle cx="40.6" cy="508.2" r="1.1" fill="#93AA00"/>
<circle cx="40.8" cy="506.5" r="1.1" fill="#93AA00"/>
<circle cx="40.3" cy="504.3" r="1.1" fill="#93AA00"/>
<circle cx="39.7" cy="501.5" r="1.1" fill="#93AA00"/>
<path d="M98.3,514.4 L106.7,513.0 L117.8,515.8 L126.1,521.3 L135.8,528.3 L138.6,531.0 L131.7,532.4 L121.9,529.7 L112.2,528.3 L106.7,524.1 L98.3,521.3Z" fill="#00BA38"/>
<circle cx="98.7" cy="514.8" r="1.1" fill="#00BA38"/>
<circle cx="100.6" cy="513.9" r="1.1" fill="#00BA38"/>
<circle cx="101.2" cy="513.6" r="1.1" fill="#00BA38"/>
<circle cx="103.4" cy="512.6" r="1.1" fill="#00BA38"/>
<circle cx="104.8" cy="513.6" r="1.1" fill="#00BA38"/>
<circle cx="106.0" cy="512.6" r="1.1" fill="#00BA38"/>
<circle cx="109.0" cy="514.3" r="1.1" fill="#00BA38"/>
<circle cx="109.4" cy="513.2" r="1.1" fill="#00BA38"/>
<circle cx="110.7" cy="513.4" r="1.1" fill="#00BA38"/>
<circle cx="113.6" cy="515.1" r="1.1" fill="#00BA38"/>
<circle cx="114.2" cy="515.0" r="1.1" fill="#00BA38"/>
<circle cx="116.6" cy="514.5" r="1.1" fill="#00BA38"/>
<circle cx="118.4" cy="516.5" r="1.1" fill="#00BA38"/>
<circle cx="118.6" cy="517.1" r="1.1" fill="#00BA38"/>
<circle cx="121.0" cy="517.3" r="1.1" fill="#00BA38"/>
<circle cx="122.7" cy="518.0" r="1.1" fill="#00BA38"/>
<circle cx="123.3" cy="519.1" r="1.1" fill="#00BA38"/>
<circle cx="124.6" cy="521.0" r="1.1" fill="#00BA38"/>
<circle cx="126.2" cy="521.5" r="1.1" fill="#00BA38"/>
<circle cx="128.5" cy="521.7" r="1.1" fill="#00BA38"/>
<circle cx="128.3" cy="523.5" r="1.1" fill="#00BA38"/>
<circle cx="129.6" cy="525.2" r="1.1" fill="#00BA38"/>
<circle cx="131.3" cy="525.2" r="1.1" fill="#00BA38"/>
<circle cx="132.9" cy="527.0" r="1.1" fill="#00BA38"/>
<circle cx="135.2" cy="527.7" r="1.1" fill="#00BA38"/>
<circle cx="135.1" cy="528.0" r="1.1" fill="#00BA38"/>
<circle cx="137.6" cy="529.1" r="1.1" fill="#00BA38"/>
<circle cx="139.4" cy="531.7" r="1.1" fill="#00BA38"/>
<circle cx="136.3" cy="531.1" r="1.1" fill="#00BA38"/>
<circle cx="134.6" cy="532.1" r="1.1" fill="#00BA38"/>
<circle cx="132.5" cy="532.4" r="1.1" fill="#00BA38"/>
<circle cx="130.8" cy="533.1" r="1.1" fill="#00BA38"/>
<circle cx="130.2" cy="532.1" r="1.1" fill="#00BA38"/>
<circle cx="127.6" cy="530.6" r="1.1" fill="#00BA38"/>
<circle cx="126.5" cy="532.0" r="1.1" fill="#00BA38"/>
<circle cx="125.4" cy="531.3" r="1.1" fill="#00BA38"/>
<circle cx="122.7" cy="529.4" r="1.1" fill="#00BA38"/>
<circle cx="120.9" cy="530.1" r="1.1" fill="#00BA38"/>
<circle cx="119.6" cy="529.0" r="1.1" fill="#00BA38"/>
<circle cx="119.0" cy="529.6" r="1.1" fill="#00BA38"/>
<circle cx="116.7" cy="528.9" r="1.1" fill="#00BA38"/>
<circle cx="115.0" cy="528.9" r="1.1" fill="#00BA38"/>
<circle cx="113.5" cy="528.3" r="1.1" fill="#00BA38"/>
<circle cx="111.7" cy="527.9" r="1.1" fill="#00BA38"/>
<circle cx="110.3" cy="526.3" r="1.1" fill="#00BA38"/>
<circle cx="109.1" cy="526.4" r="1.1" fill="#00BA38"/>
<circle cx="107.6" cy="524.4" r="1.1" fill="#00BA38"/>
<circle cx="107.4" cy="524.0" r="1.1" fill="#00BA38"/>
<circle cx="105.0" cy="523.2" r="1.1" fill="#00BA38"/>
<circle cx="104.1" cy="523.5" r="1.1" fill="#00BA38"/>
<circle cx="101.9" cy="522.7" r="1.1" fill="#00BA38"/>
<circle cx="100.4" cy="521.9" r="1.1" fill="#00BA38"/>
<circle cx="98.1" cy="521.1" r="1.1" fill="#00BA38"/>
<circle cx="98.3" cy="519.5" r="1.1" fill="#00BA38"/>
<circle cx="98.4" cy="517.9" r="1.1" fill="#00BA38"/>
<circle cx="98.9" cy="516.9" r="1.1" fill="#00BA38"/>
<path d="M77.0,590.0 L81.0,585.0 L90.0,578.5 L100.0,572.5 L110.0,567.0 L119.0,563.5 L121.5,566.0 L114.0,571.0 L105.0,577.5 L96.0,583.5 L88.0,589.5 L81.0,593.0Z" fill="#00B9E3" opacity="0.9"/>
<circle cx="76.3" cy="588.8" r="1.1" fill="#00B9E3"/>
<circle cx="77.5" cy="587.5" r="1.1" fill="#00B9E3"/>
<circle cx="79.8" cy="587.8" r="1.1" fill="#00B9E3"/>
<circle cx="79.4" cy="585.4" r="1.1" fill="#00B9E3"/>
<circle cx="82.0" cy="585.9" r="1.1" fill="#00B9E3"/>
<circle cx="83.0" cy="584.4" r="1.1" fill="#00B9E3"/>
<circle cx="84.6" cy="582.7" r="1.1" fill="#00B9E3"/>
<circle cx="85.2" cy="581.9" r="1.1" fill="#00B9E3"/>
<circle cx="88.0" cy="581.9" r="1.1" fill="#00B9E3"/>
<circle cx="89.6" cy="580.5" r="1.1" fill="#00B9E3"/>
<circle cx="88.9" cy="577.8" r="1.1" fill="#00B9E3"/>
<circle cx="92.7" cy="577.8" r="1.1" fill="#00B9E3"/>
<circle cx="92.9" cy="576.3" r="1.1" fill="#00B9E3"/>
<circle cx="95.2" cy="576.0" r="1.1" fill="#00B9E3"/>
<circle cx="97.0" cy="574.0" r="1.1" fill="#00B9E3"/>
<circle cx="98.4" cy="572.9" r="1.1" fill="#00B9E3"/>
<circle cx="97.7" cy="573.1" r="1.1" fill="#00B9E3"/>
<circle cx="100.4" cy="571.5" r="1.1" fill="#00B9E3"/>
<circle cx="101.6" cy="572.9" r="1.1" fill="#00B9E3"/>
<circle cx="102.7" cy="571.6" r="1.1" fill="#00B9E3"/>
<circle cx="104.5" cy="570.4" r="1.1" fill="#00B9E3"/>
<circle cx="104.9" cy="569.3" r="1.1" fill="#00B9E3"/>
<circle cx="108.2" cy="569.0" r="1.1" fill="#00B9E3"/>
<circle cx="107.8" cy="567.6" r="1.1" fill="#00B9E3"/>
<circle cx="110.1" cy="566.6" r="1.1" fill="#00B9E3"/>
<circle cx="111.7" cy="566.8" r="1.1" fill="#00B9E3"/>
<circle cx="111.7" cy="565.1" r="1.1" fill="#00B9E3"/>
<circle cx="114.9" cy="564.5" r="1.1" fill="#00B9E3"/>
<circle cx="114.9" cy="565.3" r="1.1" fill="#00B9E3"/>
<circle cx="117.1" cy="565.3" r="1.1" fill="#00B9E3"/>
<circle cx="119.2" cy="562.5" r="1.1" fill="#00B9E3"/>
<circle cx="120.6" cy="564.1" r="1.1" fill="#00B9E3"/>
<circle cx="122.3" cy="566.6" r="1.1" fill="#00B9E3"/>
<circle cx="120.7" cy="565.8" r="1.1" fill="#00B9E3"/>
<circle cx="117.3" cy="568.8" r="1.1" fill="#00B9E3"/>
<circle cx="116.1" cy="568.2" r="1.1" fill="#00B9E3"/>
<circle cx="114.3" cy="569.1" r="1.1" fill="#00B9E3"/>
<circle cx="113.9" cy="572.2" r="1.1" fill="#00B9E3"/>
<circle cx="112.0" cy="571.5" r="1.1" fill="#00B9E3"/>
<circle cx="111.9" cy="572.3" r="1.1" fill="#00B9E3"/>
<circle cx="109.9" cy="574.5" r="1.1" fill="#00B9E3"/>
<circle cx="109.1" cy="574.1" r="1.1" fill="#00B9E3"/>
<circle cx="106.7" cy="576.1" r="1.1" fill="#00B9E3"/>
<circle cx="105.8" cy="576.9" r="1.1" fill="#00B9E3"/>
<circle cx="104.1" cy="577.7" r="1.1" fill="#00B9E3"/>
<circle cx="102.0" cy="580.7" r="1.1" fill="#00B9E3"/>
<circle cx="99.8" cy="579.9" r="1.1" fill="#00B9E3"/>
<circle cx="100.1" cy="582.0" r="1.1" fill="#00B9E3"/>
<circle cx="96.4" cy="581.7" r="1.1" fill="#00B9E3"/>
<circle cx="95.3" cy="583.0" r="1.1" fill="#00B9E3"/>
<circle cx="95.6" cy="585.0" r="1.1" fill="#00B9E3"/>
<circle cx="94.6" cy="585.9" r="1.1" fill="#00B9E3"/>
<circle cx="92.3" cy="586.2" r="1.1" fill="#00B9E3"/>
<circle cx="91.2" cy="587.5" r="1.1" fill="#00B9E3"/>
<circle cx="88.2" cy="588.5" r="1.1" fill="#00B9E3"/>
<circle cx="87.7" cy="589.6" r="1.1" fill="#00B9E3"/>
<circle cx="85.1" cy="589.1" r="1.1" fill="#00B9E3"/>
<circle cx="85.8" cy="590.9" r="1.1" fill="#00B9E3"/>
<circle cx="82.3" cy="591.2" r="1.1" fill="#00B9E3"/>
<circle cx="81.2" cy="594.1" r="1.1" fill="#00B9E3"/>
<circle cx="78.8" cy="592.0" r="1.1" fill="#00B9E3"/>
<circle cx="78.3" cy="591.7" r="1.1" fill="#00B9E3"/>
<path d="M92.0,587.0 L95.0,587.0 L94.0,597.0 L91.0,606.0 L88.5,604.0 L90.0,596.0Z" fill="#00B9E3" opacity="0.9"/>
<circle cx="92.2" cy="586.3" r="1.1" fill="#00B9E3"/>
<circle cx="94.2" cy="587.6" r="1.1" fill="#00B9E3"/>
<circle cx="93.7" cy="589.6" r="1.1" fill="#00B9E3"/>
<circle cx="93.5" cy="589.5" r="1.1" fill="#00B9E3"/>
<circle cx="94.4" cy="592.9" r="1.1" fill="#00B9E3"/>
<circle cx="94.6" cy="594.3" r="1.1" fill="#00B9E3"/>
<circle cx="94.8" cy="595.9" r="1.1" fill="#00B9E3"/>
<circle cx="92.8" cy="597.8" r="1.1" fill="#00B9E3"/>
<circle cx="92.5" cy="597.9" r="1.1" fill="#00B9E3"/>
<circle cx="91.6" cy="599.4" r="1.1" fill="#00B9E3"/>
<circle cx="93.2" cy="602.1" r="1.1" fill="#00B9E3"/>
<circle cx="90.5" cy="603.0" r="1.1" fill="#00B9E3"/>
<circle cx="91.9" cy="606.3" r="1.1" fill="#00B9E3"/>
<circle cx="90.8" cy="603.8" r="1.1" fill="#00B9E3"/>
<circle cx="87.5" cy="603.4" r="1.1" fill="#00B9E3"/>
<circle cx="88.0" cy="601.4" r="1.1" fill="#00B9E3"/>
<circle cx="88.3" cy="601.2" r="1.1" fill="#00B9E3"/>
<circle cx="88.5" cy="598.3" r="1.1" fill="#00B9E3"/>
<circle cx="89.8" cy="597.3" r="1.1" fill="#00B9E3"/>
<circle cx="89.1" cy="596.2" r="1.1" fill="#00B9E3"/>
<circle cx="90.4" cy="593.9" r="1.1" fill="#00B9E3"/>
<circle cx="90.7" cy="591.2" r="1.1" fill="#00B9E3"/>
<circle cx="91.5" cy="589.8" r="1.1" fill="#00B9E3"/>
<circle cx="91.2" cy="587.5" r="1.1" fill="#00B9E3"/>
<circle cx="94.5" cy="579.5" r="1.4" fill="#619CFF"/>
<circle cx="118.8" cy="567.4" r="1.4" fill="#619CFF"/>
<circle cx="94.1" cy="584.4" r="1.4" fill="#619CFF"/>
<circle cx="93.6" cy="584.4" r="1.4" fill="#619CFF"/>
<circle cx="117.4" cy="564.7" r="1.4" fill="#619CFF"/>
<circle cx="82.0" cy="592.4" r="1.4" fill="#619CFF"/>
<circle cx="93.1" cy="581.4" r="1.4" fill="#619CFF"/>
<circle cx="105.0" cy="571.8" r="1.4" fill="#619CFF"/>
<circle cx="91.4" cy="581.4" r="1.0" fill="#fff"/>
<circle cx="107.9" cy="569.1" r="1.0" fill="#fff"/>
<circle cx="114.8" cy="569.4" r="1.0" fill="#fff"/>
<circle cx="101.8" cy="573.5" r="1.0" fill="#fff"/>
<circle cx="108.9" cy="570.4" r="1.0" fill="#fff"/>
<circle cx="86.0" cy="581.7" r="1.0" fill="#fff"/>
<circle cx="89.8" cy="586.3" r="1.0" fill="#fff"/>
<circle cx="105.2" cy="577.3" r="1.0" fill="#fff"/>
<circle cx="88.7" cy="581.2" r="1.0" fill="#fff"/>
<circle cx="99.7" cy="578.6" r="1.0" fill="#fff"/>
<path d="M61.9,619.0 L64.0,612.0 L69.3,608.0 L76.0,607.5 L84.0,608.5 L89.6,607.0 L90.0,618.0 L89.0,630.0 L88.0,641.0 L86.5,648.9 L78.5,650.8 L72.4,647.5 L65.0,638.0 L62.0,628.5Z" fill="#D39200"/>
<circle cx="60.7" cy="618.0" r="1.1" fill="#D39200"/>
<circle cx="62.7" cy="617.8" r="1.1" fill="#D39200"/>
<circle cx="64.3" cy="616.3" r="1.1" fill="#D39200"/>
<circle cx="62.9" cy="613.6" r="1.1" fill="#D39200"/>
<circle cx="64.0" cy="612.9" r="1.1" fill="#D39200"/>
<circle cx="65.0" cy="612.2" r="1.1" fill="#D39200"/>
<circle cx="66.6" cy="609.7" r="1.1" fill="#D39200"/>
<circle cx="67.9" cy="608.6" r="1.1" fill="#D39200"/>
<circle cx="70.7" cy="606.7" r="1.1" fill="#D39200"/>
<circle cx="70.7" cy="606.7" r="1.1" fill="#D39200"/>
<circle cx="73.1" cy="606.8" r="1.1" fill="#D39200"/>
<circle cx="73.3" cy="607.4" r="1.1" fill="#D39200"/>
<circle cx="76.3" cy="608.2" r="1.1" fill="#D39200"/>
<circle cx="77.4" cy="607.1" r="1.1" fill="#D39200"/>
<circle cx="78.8" cy="609.0" r="1.1" fill="#D39200"/>
<circle cx="80.0" cy="606.7" r="1.1" fill="#D39200"/>
<circle cx="83.5" cy="608.3" r="1.1" fill="#D39200"/>
<circle cx="83.0" cy="607.5" r="1.1" fill="#D39200"/>
<circle cx="87.0" cy="608.7" r="1.1" fill="#D39200"/>
<circle cx="86.5" cy="608.0" r="1.1" fill="#D39200"/>
<circle cx="88.8" cy="606.8" r="1.1" fill="#D39200"/>
<circle cx="90.0" cy="607.6" r="1.1" fill="#D39200"/>
<circle cx="91.0" cy="610.2" r="1.1" fill="#D39200"/>
<circle cx="88.8" cy="613.3" r="1.1" fill="#D39200"/>
<circle cx="88.8" cy="613.0" r="1.1" fill="#D39200"/>
<circle cx="90.4" cy="616.1" r="1.1" fill="#D39200"/>
<circle cx="91.1" cy="618.8" r="1.1" fill="#D39200"/>
<circle cx="89.0" cy="618.4" r="1.1" fill="#D39200"/>
<circle cx="90.0" cy="621.3" r="1.1" fill="#D39200"/>
<circle cx="89.0" cy="624.3" r="1.1" fill="#D39200"/>
<circle cx="88.6" cy="625.3" r="1.1" fill="#D39200"/>
<circle cx="88.1" cy="627.8" r="1.1" fill="#D39200"/>
<circle cx="90.4" cy="628.6" r="1.1" fill="#D39200"/>
<circle cx="88.5" cy="630.6" r="1.1" fill="#D39200"/>
<circle cx="90.0" cy="632.7" r="1.1" fill="#D39200"/>
<circle cx="87.4" cy="633.7" r="1.1" fill="#D39200"/>
<circle cx="87.5" cy="635.6" r="1.1" fill="#D39200"/>
<circle cx="89.6" cy="638.4" r="1.1" fill="#D39200"/>
<circle cx="87.5" cy="639.3" r="1.1" fill="#D39200"/>
<circle cx="87.5" cy="640.1" r="1.1" fill="#D39200"/>
<circle cx="88.4" cy="643.3" r="1.1" fill="#D39200"/>
<circle cx="86.9" cy="643.9" r="1.1" fill="#D39200"/>
<circle cx="87.7" cy="646.4" r="1.1" fill="#D39200"/>
<circle cx="86.7" cy="646.3" r="1.1" fill="#D39200"/>
<circle cx="85.4" cy="648.0" r="1.1" fill="#D39200"/>
<circle cx="85.8" cy="649.3" r="1.1" fill="#D39200"/>
<circle cx="83.7" cy="649.3" r="1.1" fill="#D39200"/>
<circle cx="81.3" cy="649.1" r="1.1" fill="#D39200"/>
<circle cx="81.4" cy="650.7" r="1.1" fill="#D39200"/>
<circle cx="77.5" cy="651.4" r="1.1" fill="#D39200"/>
<circle cx="77.2" cy="650.3" r="1.1" fill="#D39200"/>
<circle cx="76.2" cy="649.5" r="1.1" fill="#D39200"/>
<circle cx="75.0" cy="649.6" r="1.1" fill="#D39200"/>
<circle cx="72.1" cy="647.9" r="1.1" fill="#D39200"/>
<circle cx="71.0" cy="645.9" r="1.1" fill="#D39200"/>
<circle cx="69.9" cy="645.2" r="1.1" fill="#D39200"/>
<circle cx="68.8" cy="643.0" r="1.1" fill="#D39200"/>
<circle cx="69.1" cy="642.9" r="1.1" fill="#D39200"/>
<circle cx="67.6" cy="641.7" r="1.1" fill="#D39200"/>
<circle cx="65.7" cy="639.8" r="1.1" fill="#D39200"/>
<circle cx="64.3" cy="637.5" r="1.1" fill="#D39200"/>
<circle cx="63.4" cy="637.3" r="1.1" fill="#D39200"/>
<circle cx="65.2" cy="634.3" r="1.1" fill="#D39200"/>
<circle cx="63.2" cy="632.2" r="1.1" fill="#D39200"/>
<circle cx="62.0" cy="632.1" r="1.1" fill="#D39200"/>
<circle cx="63.6" cy="628.9" r="1.1" fill="#D39200"/>
<circle cx="61.3" cy="629.2" r="1.1" fill="#D39200"/>
<circle cx="61.2" cy="627.7" r="1.1" fill="#D39200"/>
<circle cx="61.5" cy="624.6" r="1.1" fill="#D39200"/>
<circle cx="61.1" cy="622.2" r="1.1" fill="#D39200"/>
<circle cx="61.7" cy="620.3" r="1.1" fill="#D39200"/>
<path d="M42.5,594.5 L46.0,592.5 L52.0,593.0 L56.5,596.0 L56.0,601.0 L54.0,604.0 L49.0,603.0 L44.0,600.5Z" fill="#00C19F"/>
<circle cx="42.9" cy="593.7" r="1.1" fill="#00C19F"/>
<circle cx="44.5" cy="594.0" r="1.1" fill="#00C19F"/>
<circle cx="45.7" cy="592.0" r="1.1" fill="#00C19F"/>
<circle cx="47.4" cy="592.0" r="1.1" fill="#00C19F"/>
<circle cx="50.5" cy="593.0" r="1.1" fill="#00C19F"/>
<circle cx="51.2" cy="592.9" r="1.1" fill="#00C19F"/>
<circle cx="53.7" cy="593.7" r="1.1" fill="#00C19F"/>
<circle cx="54.3" cy="594.9" r="1.1" fill="#00C19F"/>
<circle cx="56.3" cy="596.8" r="1.1" fill="#00C19F"/>
<circle cx="56.1" cy="598.3" r="1.1" fill="#00C19F"/>
<circle cx="56.8" cy="599.5" r="1.1" fill="#00C19F"/>
<circle cx="55.4" cy="601.5" r="1.1" fill="#00C19F"/>
<circle cx="54.3" cy="602.6" r="1.1" fill="#00C19F"/>
<circle cx="53.4" cy="603.3" r="1.1" fill="#00C19F"/>
<circle cx="52.2" cy="603.1" r="1.1" fill="#00C19F"/>
<circle cx="51.5" cy="603.5" r="1.1" fill="#00C19F"/>
<circle cx="49.6" cy="603.7" r="1.1" fill="#00C19F"/>
<circle cx="47.7" cy="602.4" r="1.1" fill="#00C19F"/>
<circle cx="45.6" cy="601.8" r="1.1" fill="#00C19F"/>
<circle cx="44.3" cy="600.0" r="1.1" fill="#00C19F"/>
<circle cx="43.5" cy="598.4" r="1.1" fill="#00C19F"/>
<circle cx="43.0" cy="596.8" r="1.1" fill="#00C19F"/>
<path d="M129.0,589.0 L133.0,586.0 L140.0,587.0 L144.0,588.5 L142.0,592.0 L137.0,593.0 L131.0,594.0Z" fill="#93AA00"/>
<circle cx="129.3" cy="589.1" r="1.1" fill="#93AA00"/>
<circle cx="130.8" cy="588.5" r="1.1" fill="#93AA00"/>
<circle cx="131.0" cy="586.4" r="1.1" fill="#93AA00"/>
<circle cx="132.3" cy="585.5" r="1.1" fill="#93AA00"/>
<circle cx="135.5" cy="585.9" r="1.1" fill="#93AA00"/>
<circle cx="136.4" cy="586.4" r="1.1" fill="#93AA00"/>
<circle cx="138.4" cy="586.4" r="1.1" fill="#93AA00"/>
<circle cx="140.4" cy="586.7" r="1.1" fill="#93AA00"/>
<circle cx="142.6" cy="588.2" r="1.1" fill="#93AA00"/>
<circle cx="143.2" cy="588.6" r="1.1" fill="#93AA00"/>
<circle cx="142.3" cy="590.9" r="1.1" fill="#93AA00"/>
<circle cx="141.3" cy="591.6" r="1.1" fill="#93AA00"/>
<circle cx="140.8" cy="592.5" r="1.1" fill="#93AA00"/>
<circle cx="138.9" cy="592.5" r="1.1" fill="#93AA00"/>
<circle cx="137.0" cy="592.5" r="1.1" fill="#93AA00"/>
<circle cx="134.9" cy="592.9" r="1.1" fill="#93AA00"/>
<circle cx="133.3" cy="593.0" r="1.1" fill="#93AA00"/>
<circle cx="130.4" cy="593.5" r="1.1" fill="#93AA00"/>
<circle cx="130.4" cy="592.5" r="1.1" fill="#93AA00"/>
<circle cx="128.9" cy="591.4" r="1.1" fill="#93AA00"/>
<circle cx="127.5" cy="593.5" r="1.6" fill="#D39200"/>
<circle cx="58.1" cy="491.6" r="1.25" fill="#F8766D"/>
<circle cx="74.5" cy="491.9" r="1.25" fill="#F8766D"/>
<circle cx="86.1" cy="491.2" r="1.25" fill="#F8766D"/>
<circle cx="79.2" cy="488.6" r="1.25" fill="#F8766D"/>
<circle cx="54.2" cy="492.1" r="1.25" fill="#F8766D"/>
<circle cx="69.2" cy="487.0" r="1.25" fill="#F8766D"/>
<circle cx="55.8" cy="492.7" r="1.25" fill="#F8766D"/>
<circle cx="97.2" cy="498.6" r="1.25" fill="#F8766D"/>
<circle cx="53.4" cy="491.1" r="1.25" fill="#F8766D"/>
<circle cx="69.7" cy="491.0" r="1.25" fill="#F8766D"/>
<circle cx="61.1" cy="491.1" r="1.25" fill="#F8766D"/>
<circle cx="92.3" cy="496.4" r="1.25" fill="#F8766D"/>
<circle cx="93.5" cy="493.9" r="1.25" fill="#F8766D"/>
<circle cx="54.4" cy="490.6" r="1.25" fill="#F8766D"/>
<circle cx="68.3" cy="489.8" r="1.25" fill="#F8766D"/>
<circle cx="66.0" cy="486.7" r="1.25" fill="#F8766D"/>
<circle cx="84.4" cy="491.4" r="1.25" fill="#F8766D"/>
<circle cx="75.6" cy="492.0" r="1.25" fill="#F8766D"/>
<circle cx="65.0" cy="487.3" r="1.25" fill="#F8766D"/>
<circle cx="66.2" cy="490.8" r="1.25" fill="#F8766D"/>
<circle cx="89.7" cy="494.6" r="1.25" fill="#F8766D"/>
<circle cx="75.7" cy="491.5" r="1.25" fill="#F8766D"/>
<circle cx="88.1" cy="493.8" r="1.25" fill="#F8766D"/>
<circle cx="94.9" cy="497.0" r="1.25" fill="#F8766D"/>
<circle cx="84.3" cy="493.2" r="1.25" fill="#F8766D"/>
<circle cx="88.1" cy="495.4" r="1.25" fill="#F8766D"/>
<circle cx="54.4" cy="493.4" r="1.25" fill="#F8766D"/>
<circle cx="53.6" cy="493.5" r="1.25" fill="#F8766D"/>
<circle cx="68.2" cy="488.0" r="1.25" fill="#F8766D"/>
<circle cx="58.0" cy="493.0" r="1.25" fill="#F8766D"/>
<circle cx="57.3" cy="491.3" r="1.25" fill="#F8766D"/>
<circle cx="97.1" cy="500.0" r="1.25" fill="#F8766D"/>
<circle cx="95.6" cy="498.5" r="1.25" fill="#F8766D"/>
<circle cx="63.0" cy="490.0" r="1.25" fill="#F8766D"/>
<circle cx="81.1" cy="491.6" r="1.25" fill="#F8766D"/>
<circle cx="63.4" cy="490.0" r="1.25" fill="#F8766D"/>
<circle cx="64.6" cy="488.0" r="1.25" fill="#F8766D"/>
<circle cx="86.4" cy="493.4" r="1.25" fill="#F8766D"/>
<circle cx="76.4" cy="490.4" r="1.25" fill="#F8766D"/>
<circle cx="62.1" cy="489.8" r="1.25" fill="#F8766D"/>
<circle cx="97.8" cy="535.7" r="1.25" fill="#F8766D"/>
<circle cx="93.0" cy="534.5" r="1.25" fill="#F8766D"/>
<circle cx="75.4" cy="491.5" r="1.25" fill="#F8766D"/>
<circle cx="85.7" cy="535.3" r="1.25" fill="#F8766D"/>
<circle cx="43.8" cy="529.3" r="1.25" fill="#F8766D"/>
<circle cx="82.2" cy="525.5" r="1.25" fill="#F8766D"/>
<circle cx="83.4" cy="508.4" r="1.25" fill="#F8766D"/>
<circle cx="80.0" cy="491.1" r="1.25" fill="#F8766D"/>
<circle cx="90.2" cy="513.8" r="1.25" fill="#F8766D"/>
<circle cx="52.8" cy="513.2" r="1.25" fill="#F8766D"/>
<circle cx="82.5" cy="518.8" r="1.25" fill="#F8766D"/>
<circle cx="64.9" cy="501.3" r="1.25" fill="#F8766D"/>
<circle cx="54.2" cy="500.0" r="1.25" fill="#F8766D"/>
<circle cx="78.1" cy="529.3" r="1.25" fill="#F8766D"/>
<circle cx="78.4" cy="507.6" r="1.25" fill="#F8766D"/>
<circle cx="61.2" cy="491.3" r="1.25" fill="#F8766D"/>
<circle cx="81.5" cy="490.3" r="1.25" fill="#F8766D"/>
<circle cx="81.7" cy="522.1" r="1.25" fill="#F8766D"/>
<circle cx="68.7" cy="488.0" r="1.25" fill="#F8766D"/>
<circle cx="78.4" cy="524.0" r="1.25" fill="#F8766D"/>
<circle cx="93.3" cy="531.7" r="1.25" fill="#F8766D"/>
<circle cx="96.1" cy="510.1" r="1.25" fill="#F8766D"/>
<circle cx="40.7" cy="506.0" r="1.25" fill="#F8766D"/>
<circle cx="64.7" cy="503.0" r="1.25" fill="#F8766D"/>
<circle cx="83.2" cy="492.8" r="1.25" fill="#F8766D"/>
<circle cx="59.1" cy="510.0" r="1.25" fill="#F8766D"/>
<circle cx="47.8" cy="521.6" r="1.25" fill="#F8766D"/>
<circle cx="52.2" cy="517.8" r="1.25" fill="#F8766D"/>
<circle cx="58.2" cy="515.3" r="1.25" fill="#F8766D"/>
<circle cx="72.7" cy="502.5" r="1.25" fill="#F8766D"/>
<circle cx="73.4" cy="491.0" r="1.25" fill="#F8766D"/>
<circle cx="61.8" cy="503.6" r="1.25" fill="#F8766D"/>
<circle cx="91.0" cy="531.6" r="1.25" fill="#F8766D"/>
<circle cx="83.8" cy="521.5" r="1.25" fill="#F8766D"/>
<circle cx="86.7" cy="535.6" r="1.25" fill="#F8766D"/>
<circle cx="49.9" cy="519.9" r="1.25" fill="#F8766D"/>
<circle cx="79.0" cy="522.0" r="1.25" fill="#F8766D"/>
<circle cx="48.4" cy="543.0" r="1.25" fill="#F8766D"/>
<circle cx="71.9" cy="502.7" r="1.25" fill="#F8766D"/>
<circle cx="44.4" cy="525.7" r="1.25" fill="#F8766D"/>
<circle cx="56.2" cy="499.8" r="1.25" fill="#F8766D"/>
<circle cx="58.9" cy="522.2" r="1.25" fill="#F8766D"/>
<circle cx="45.6" cy="520.7" r="1.25" fill="#F8766D"/>
<circle cx="84.8" cy="517.6" r="1.25" fill="#F8766D"/>
<circle cx="91.2" cy="515.8" r="1.25" fill="#F8766D"/>
<circle cx="67.9" cy="488.8" r="1.25" fill="#DB72FB"/>
<circle cx="83.7" cy="489.5" r="1.25" fill="#DB72FB"/>
<circle cx="82.4" cy="493.9" r="1.25" fill="#DB72FB"/>
<circle cx="85.1" cy="527.6" r="1.25" fill="#DB72FB"/>
<circle cx="76.2" cy="511.0" r="1.25" fill="#DB72FB"/>
<circle cx="72.9" cy="503.1" r="1.25" fill="#DB72FB"/>
<circle cx="62.9" cy="498.2" r="1.25" fill="#DB72FB"/>
<circle cx="76.8" cy="490.8" r="1.25" fill="#DB72FB"/>
<circle cx="78.3" cy="523.0" r="1.25" fill="#DB72FB"/>
<circle cx="99.7" cy="504.3" r="1.25" fill="#DB72FB"/>
<circle cx="54.6" cy="499.9" r="1.25" fill="#DB72FB"/>
<circle cx="70.9" cy="511.4" r="1.25" fill="#DB72FB"/>
<circle cx="73.3" cy="493.1" r="1.25" fill="#619CFF"/>
<circle cx="83.9" cy="500.6" r="1.25" fill="#619CFF"/>
<circle cx="85.4" cy="501.3" r="1.25" fill="#619CFF"/>
<circle cx="49.8" cy="542.9" r="1.25" fill="#619CFF"/>
<circle cx="73.8" cy="490.2" r="1.25" fill="#619CFF"/>
<circle cx="44.2" cy="504.2" r="1.25" fill="#619CFF"/>
<circle cx="41.5" cy="572.1" r="1.25" fill="#F8766D"/>
<circle cx="58.9" cy="528.9" r="1.25" fill="#F8766D"/>
<circle cx="59.0" cy="535.4" r="1.25" fill="#F8766D"/>
<circle cx="63.3" cy="557.8" r="1.25" fill="#F8766D"/>
<circle cx="69.0" cy="527.4" r="1.25" fill="#F8766D"/>
<circle cx="63.8" cy="568.2" r="1.25" fill="#F8766D"/>
<circle cx="53.8" cy="569.0" r="1.25" fill="#F8766D"/>
<circle cx="52.7" cy="545.7" r="1.25" fill="#F8766D"/>
<circle cx="70.1" cy="553.5" r="1.25" fill="#F8766D"/>
<circle cx="79.1" cy="575.8" r="1.25" fill="#F8766D"/>
<circle cx="77.9" cy="536.5" r="1.25" fill="#F8766D"/>
<circle cx="50.2" cy="550.5" r="1.25" fill="#F8766D"/>
<circle cx="54.8" cy="554.4" r="1.25" fill="#F8766D"/>
<circle cx="44.1" cy="562.0" r="1.25" fill="#F8766D"/>
<circle cx="62.4" cy="527.1" r="1.25" fill="#F8766D"/>
<circle cx="45.8" cy="575.1" r="1.25" fill="#F8766D"/>
<circle cx="86.6" cy="572.2" r="1.25" fill="#F8766D"/>
<circle cx="60.9" cy="577.8" r="1.25" fill="#F8766D"/>
<circle cx="48.6" cy="563.8" r="1.25" fill="#F8766D"/>
<circle cx="43.8" cy="568.0" r="1.25" fill="#F8766D"/>
<circle cx="73.0" cy="550.2" r="1.25" fill="#F8766D"/>
<circle cx="45.5" cy="559.2" r="1.25" fill="#F8766D"/>
<circle cx="72.3" cy="559.3" r="1.25" fill="#F8766D"/>
<circle cx="83.9" cy="569.2" r="1.25" fill="#F8766D"/>
<circle cx="46.8" cy="540.9" r="1.25" fill="#F8766D"/>
<circle cx="47.1" cy="551.0" r="1.25" fill="#F8766D"/>
<circle cx="40.7" cy="571.4" r="1.25" fill="#F8766D"/>
<circle cx="77.2" cy="568.2" r="1.25" fill="#F8766D"/>
<circle cx="66.4" cy="573.8" r="1.25" fill="#F8766D"/>
<circle cx="85.8" cy="569.3" r="1.25" fill="#F8766D"/>
<circle cx="58.4" cy="527.5" r="1.25" fill="#DB72FB"/>
<circle cx="63.2" cy="571.4" r="1.25" fill="#DB72FB"/>
<circle cx="93.3" cy="565.4" r="1.25" fill="#DB72FB"/>
<circle cx="54.3" cy="557.8" r="1.25" fill="#DB72FB"/>
<circle cx="42.7" cy="561.1" r="1.25" fill="#DB72FB"/>
<circle cx="47.2" cy="555.3" r="1.25" fill="#DB72FB"/>
<circle cx="84.8" cy="564.5" r="1.25" fill="#DB72FB"/>
<circle cx="63.8" cy="527.4" r="1.25" fill="#DB72FB"/>
<circle cx="61.9" cy="532.3" r="1.25" fill="#DB72FB"/>
<circle cx="64.7" cy="527.8" r="1.25" fill="#DB72FB"/>
<circle cx="62.9" cy="531.8" r="1.25" fill="#DB72FB"/>
<circle cx="85.3" cy="557.5" r="1.25" fill="#DB72FB"/>
<circle cx="48.0" cy="539.4" r="1.25" fill="#DB72FB"/>
<circle cx="75.2" cy="558.7" r="1.25" fill="#DB72FB"/>
<circle cx="63.2" cy="570.2" r="1.25" fill="#DB72FB"/>
<circle cx="53.6" cy="526.9" r="1.25" fill="#DB72FB"/>
<circle cx="70.3" cy="546.6" r="1.25" fill="#DB72FB"/>
<circle cx="40.7" cy="568.2" r="1.25" fill="#DB72FB"/>
<circle cx="52.9" cy="557.7" r="1.25" fill="#DB72FB"/>
<circle cx="90.1" cy="564.9" r="1.25" fill="#DB72FB"/>
<circle cx="54.8" cy="557.3" r="1.25" fill="#DB72FB"/>
<circle cx="55.3" cy="565.6" r="1.25" fill="#DB72FB"/>
<circle cx="53.5" cy="571.5" r="1.25" fill="#DB72FB"/>
<circle cx="77.0" cy="572.7" r="1.25" fill="#DB72FB"/>
<circle cx="58.4" cy="576.1" r="1.25" fill="#DB72FB"/>
<circle cx="82.9" cy="518.6" r="1.25" fill="#F8766D"/>
<circle cx="81.7" cy="548.8" r="1.25" fill="#F8766D"/>
<circle cx="85.5" cy="547.9" r="1.25" fill="#F8766D"/>
<circle cx="97.7" cy="531.9" r="1.25" fill="#F8766D"/>
<circle cx="130.0" cy="540.9" r="1.25" fill="#F8766D"/>
<circle cx="102.4" cy="532.5" r="1.25" fill="#F8766D"/>
<circle cx="131.8" cy="552.4" r="1.25" fill="#F8766D"/>
<circle cx="112.6" cy="551.7" r="1.25" fill="#F8766D"/>
<circle cx="123.1" cy="538.2" r="1.25" fill="#F8766D"/>
<circle cx="128.5" cy="539.7" r="1.25" fill="#F8766D"/>
<circle cx="135.2" cy="539.9" r="1.25" fill="#F8766D"/>
<circle cx="83.8" cy="535.0" r="1.25" fill="#F8766D"/>
<circle cx="99.6" cy="540.6" r="1.25" fill="#F8766D"/>
<circle cx="120.4" cy="535.6" r="1.25" fill="#F8766D"/>
<circle cx="88.9" cy="549.4" r="1.25" fill="#F8766D"/>
<circle cx="80.3" cy="526.3" r="1.25" fill="#F8766D"/>
<circle cx="98.2" cy="525.3" r="1.25" fill="#F8766D"/>
<circle cx="90.3" cy="520.3" r="1.25" fill="#F8766D"/>
<circle cx="131.9" cy="541.6" r="1.25" fill="#F8766D"/>
<circle cx="130.2" cy="536.7" r="1.25" fill="#F8766D"/>
<circle cx="115.4" cy="545.2" r="1.25" fill="#F8766D"/>
<circle cx="92.3" cy="547.1" r="1.25" fill="#F8766D"/>
<circle cx="129.5" cy="539.5" r="1.25" fill="#F8766D"/>
<circle cx="106.9" cy="534.7" r="1.25" fill="#F8766D"/>
<circle cx="140.4" cy="546.5" r="1.25" fill="#F8766D"/>
<circle cx="89.6" cy="556.1" r="1.25" fill="#619CFF"/>
<circle cx="138.9" cy="542.2" r="1.25" fill="#619CFF"/>
<circle cx="141.1" cy="541.8" r="1.25" fill="#619CFF"/>
<circle cx="131.1" cy="539.5" r="1.25" fill="#619CFF"/>
<circle cx="134.2" cy="540.0" r="1.25" fill="#619CFF"/>
<circle cx="80.8" cy="544.7" r="1.25" fill="#619CFF"/>
<circle cx="137.6" cy="534.5" r="1.25" fill="#619CFF"/>
<circle cx="87.8" cy="538.0" r="1.25" fill="#619CFF"/>
<circle cx="80.6" cy="552.2" r="1.25" fill="#619CFF"/>
<circle cx="131.4" cy="535.9" r="1.25" fill="#619CFF"/>
<circle cx="66.5" cy="622.6" r="1.25" fill="#F8766D"/>
<circle cx="74.3" cy="645.1" r="1.25" fill="#F8766D"/>
<circle cx="65.1" cy="630.6" r="1.25" fill="#F8766D"/>
<circle cx="75.1" cy="631.2" r="1.25" fill="#F8766D"/>
<circle cx="84.2" cy="633.3" r="1.25" fill="#F8766D"/>
<circle cx="78.7" cy="618.9" r="1.25" fill="#F8766D"/>
<circle cx="77.3" cy="645.0" r="1.25" fill="#F8766D"/>
<circle cx="75.6" cy="619.6" r="1.25" fill="#F8766D"/>
<circle cx="66.4" cy="617.2" r="1.25" fill="#F8766D"/>
<circle cx="74.2" cy="625.5" r="1.25" fill="#F8766D"/>
<circle cx="78.8" cy="618.8" r="1.25" fill="#F8766D"/>
<circle cx="79.3" cy="627.7" r="1.25" fill="#F8766D"/>
<circle cx="84.3" cy="642.2" r="1.25" fill="#F8766D"/>
<circle cx="77.3" cy="621.7" r="1.25" fill="#F8766D"/>
<circle cx="69.1" cy="638.2" r="1.25" fill="#F8766D"/>
<circle cx="74.2" cy="636.9" r="1.25" fill="#F8766D"/>
<circle cx="74.2" cy="624.6" r="1.25" fill="#F8766D"/>
<circle cx="78.1" cy="629.9" r="1.25" fill="#F8766D"/>
<circle cx="77.3" cy="631.6" r="1.25" fill="#F8766D"/>
<circle cx="84.9" cy="619.1" r="1.25" fill="#F8766D"/>
<circle cx="75.8" cy="644.0" r="1.25" fill="#F8766D"/>
<circle cx="70.8" cy="628.5" r="1.25" fill="#F8766D"/>
<circle cx="85.9" cy="632.9" r="1.25" fill="#F8766D"/>
<circle cx="87.5" cy="636.5" r="1.25" fill="#F8766D"/>
<circle cx="68.6" cy="623.3" r="1.25" fill="#F8766D"/>
<circle cx="75.4" cy="611.8" r="1.25" fill="#F8766D"/>
<circle cx="87.9" cy="628.2" r="1.25" fill="#F8766D"/>
<circle cx="67.5" cy="628.5" r="1.25" fill="#F8766D"/>
<circle cx="84.5" cy="619.0" r="1.25" fill="#F8766D"/>
<circle cx="78.4" cy="611.0" r="1.25" fill="#F8766D"/>
<circle cx="68.7" cy="615.2" r="1.25" fill="#F8766D"/>
<circle cx="76.1" cy="637.1" r="1.25" fill="#F8766D"/>
<circle cx="68.3" cy="637.2" r="1.25" fill="#F8766D"/>
<circle cx="78.4" cy="639.9" r="1.25" fill="#F8766D"/>
<circle cx="76.2" cy="614.8" r="1.25" fill="#F8766D"/>
<circle cx="64.3" cy="635.3" r="1.25" fill="#F8766D"/>
<circle cx="64.3" cy="630.8" r="1.25" fill="#F8766D"/>
<circle cx="67.4" cy="618.5" r="1.25" fill="#F8766D"/>
<circle cx="83.5" cy="626.6" r="1.25" fill="#F8766D"/>
<circle cx="66.0" cy="636.8" r="1.25" fill="#F8766D"/>
<circle cx="74.4" cy="630.6" r="1.25" fill="#F8766D"/>
<circle cx="81.6" cy="643.7" r="1.25" fill="#F8766D"/>
<circle cx="84.0" cy="617.9" r="1.25" fill="#F8766D"/>
<circle cx="83.8" cy="611.5" r="1.25" fill="#F8766D"/>
<circle cx="65.5" cy="629.2" r="1.25" fill="#F8766D"/>
<circle cx="67.1" cy="631.6" r="1.25" fill="#F8766D"/>
<circle cx="74.1" cy="642.7" r="1.25" fill="#F8766D"/>
<circle cx="88.4" cy="626.8" r="1.25" fill="#F8766D"/>
<circle cx="83.5" cy="628.6" r="1.25" fill="#F8766D"/>
<circle cx="73.1" cy="612.4" r="1.25" fill="#F8766D"/>
<circle cx="80.4" cy="647.4" r="1.25" fill="#F8766D"/>
<circle cx="81.2" cy="620.9" r="1.25" fill="#F8766D"/>
<circle cx="76.7" cy="622.6" r="1.25" fill="#F8766D"/>
<circle cx="72.9" cy="640.8" r="1.25" fill="#F8766D"/>
<circle cx="62.1" cy="628.1" r="1.25" fill="#F8766D"/>
<circle cx="76.3" cy="613.4" r="1.25" fill="#F8766D"/>
<circle cx="82.5" cy="618.1" r="1.25" fill="#F8766D"/>
<circle cx="73.2" cy="617.9" r="1.25" fill="#F8766D"/>
<circle cx="78.7" cy="625.9" r="1.25" fill="#F8766D"/>
<circle cx="81.1" cy="625.6" r="1.25" fill="#F8766D"/>
<circle cx="83.9" cy="631.1" r="1.25" fill="#F8766D"/>
<circle cx="64.9" cy="628.6" r="1.25" fill="#F8766D"/>
<circle cx="69.0" cy="620.0" r="1.25" fill="#F8766D"/>
<circle cx="88.5" cy="628.0" r="1.25" fill="#F8766D"/>
<circle cx="82.7" cy="613.8" r="1.25" fill="#F8766D"/>
<circle cx="79.6" cy="612.2" r="1.25" fill="#F8766D"/>
<circle cx="68.1" cy="612.6" r="1.25" fill="#F8766D"/>
<circle cx="89.0" cy="623.1" r="1.25" fill="#F8766D"/>
<circle cx="80.5" cy="609.0" r="1.25" fill="#F8766D"/>
<circle cx="83.4" cy="610.0" r="1.25" fill="#F8766D"/>
<circle cx="90.1" cy="638.9" r="1.25" fill="#D39200"/>
<circle cx="94.9" cy="616.6" r="1.25" fill="#D39200"/>
<circle cx="92.6" cy="639.8" r="1.25" fill="#D39200"/>
<circle cx="93.4" cy="628.5" r="1.25" fill="#D39200"/>
<circle cx="89.7" cy="609.8" r="1.25" fill="#D39200"/>
<circle cx="89.7" cy="628.5" r="1.25" fill="#D39200"/>
<circle cx="93.4" cy="625.9" r="1.25" fill="#D39200"/>
<circle cx="93.7" cy="630.1" r="1.25" fill="#D39200"/>
<circle cx="93.8" cy="623.9" r="1.25" fill="#D39200"/>
<circle cx="95.6" cy="628.8" r="1.25" fill="#D39200"/>
<circle cx="95.5" cy="638.7" r="1.25" fill="#D39200"/>
<circle cx="94.2" cy="629.6" r="1.25" fill="#D39200"/>
<circle cx="90.2" cy="611.2" r="1.25" fill="#D39200"/>
<circle cx="93.9" cy="617.2" r="1.25" fill="#D39200"/>
<circle cx="93.5" cy="629.5" r="1.25" fill="#D39200"/>
<circle cx="93.5" cy="624.6" r="1.25" fill="#D39200"/>
<circle cx="90.2" cy="619.4" r="1.25" fill="#D39200"/>
<circle cx="90.9" cy="619.9" r="1.25" fill="#D39200"/>
<circle cx="92.0" cy="624.6" r="1.25" fill="#D39200"/>
<circle cx="93.7" cy="638.0" r="1.25" fill="#D39200"/>
<circle cx="94.9" cy="640.2" r="1.25" fill="#D39200"/>
<circle cx="92.0" cy="625.3" r="1.25" fill="#D39200"/>
<circle cx="93.9" cy="619.9" r="1.25" fill="#D39200"/>
<circle cx="95.5" cy="624.1" r="1.25" fill="#D39200"/>
<circle cx="93.0" cy="628.3" r="1.25" fill="#D39200"/>
<circle cx="90.5" cy="626.5" r="1.25" fill="#D39200"/>
<circle cx="96.6" cy="612.6" r="1.25" fill="#D39200"/>
<circle cx="95.1" cy="618.5" r="1.25" fill="#D39200"/>
<circle cx="88.2" cy="643.1" r="1.25" fill="#D39200"/>
<circle cx="89.6" cy="627.7" r="1.25" fill="#D39200"/>
<circle cx="64.6" cy="623.6" r="1.25" fill="#00B9E3"/>
<circle cx="75.8" cy="642.8" r="1.25" fill="#00B9E3"/>
<circle cx="70.0" cy="636.2" r="1.25" fill="#00B9E3"/>
<circle cx="44.5" cy="595.5" r="1.25" fill="#F8766D"/>
<circle cx="50.7" cy="600.7" r="1.25" fill="#F8766D"/>
<circle cx="52.6" cy="599.0" r="1.25" fill="#F8766D"/>
<circle cx="46.6" cy="598.8" r="1.25" fill="#F8766D"/>
<circle cx="52.0" cy="593.0" r="1.25" fill="#F8766D"/>
<circle cx="55.7" cy="597.9" r="1.25" fill="#F8766D"/>
<circle cx="51.3" cy="602.3" r="1.25" fill="#F8766D"/>
<circle cx="50.2" cy="595.4" r="1.25" fill="#F8766D"/>
<circle cx="49.1" cy="597.9" r="1.4" fill="#619CFF"/>
<circle cx="47.4" cy="599.2" r="1.4" fill="#619CFF"/>
<circle cx="44.6" cy="595.4" r="1.4" fill="#619CFF"/>
<circle cx="48" cy="589.5" r="1.4" fill="#619CFF"/>
<circle cx="51" cy="590.5" r="1.4" fill="#619CFF"/>
<circle cx="46.5" cy="588.5" r="1.4" fill="#619CFF"/>
<circle cx="55" cy="593.5" r="1.4" fill="#619CFF"/>
<circle cx="49.5" cy="587" r="1.4" fill="#619CFF"/>
<circle cx="45" cy="587.5" r="1.1" fill="#F8766D"/>
<circle cx="47" cy="586.6" r="1.1" fill="#F8766D"/>
<circle cx="56" cy="605.5" r="1.1" fill="#F8766D"/>
<circle cx="107.4" cy="568.8" r="1.25" fill="#F8766D"/>
<circle cx="109.6" cy="568.1" r="1.25" fill="#F8766D"/>
<circle cx="81.2" cy="587.0" r="1.25" fill="#F8766D"/>
<circle cx="92.7" cy="584.5" r="1.25" fill="#F8766D"/>
<circle cx="95.8" cy="577.8" r="1.25" fill="#F8766D"/>
<circle cx="83.6" cy="583.2" r="1.25" fill="#F8766D"/>
<circle cx="161.5" cy="584.2" r="1.25" fill="#DB72FB"/>
<circle cx="183.7" cy="548.3" r="1.25" fill="#DB72FB"/>
<circle cx="169.2" cy="619.6" r="1.25" fill="#DB72FB"/>
<circle cx="173.2" cy="545.3" r="1.25" fill="#DB72FB"/>
<circle cx="192.6" cy="589.7" r="1.25" fill="#DB72FB"/>
<circle cx="171.3" cy="595.2" r="1.25" fill="#DB72FB"/>
<circle cx="54.0" cy="500.2" r="1.3" fill="#00B9E3"/>
<circle cx="55.4" cy="494.8" r="1.3" fill="#00B9E3"/>
<circle cx="50.4" cy="495.6" r="1.3" fill="#00B9E3"/>
<circle cx="52.4" cy="495.6" r="1.3" fill="#00B9E3"/>
<circle cx="52.3" cy="495.0" r="1.3" fill="#00B9E3"/>
<circle cx="50.2" cy="498.7" r="1.3" fill="#00B9E3"/>
<circle cx="98.7" cy="519.2" r="1.1" fill="#fff"/>
<circle cx="83.7" cy="519.0" r="1.1" fill="#fff"/>
<circle cx="92.8" cy="521.2" r="1.1" fill="#fff"/>
<circle cx="99.3" cy="524.1" r="1.1" fill="#fff"/>
<circle cx="93.5" cy="522.2" r="1.1" fill="#fff"/>
<circle cx="90.6" cy="528.6" r="1.1" fill="#fff"/>
<circle cx="84.3" cy="523.1" r="1.1" fill="#fff"/>
<circle cx="93.9" cy="519.2" r="1.1" fill="#fff"/>
<circle cx="94.0" cy="527.3" r="1.1" fill="#fff"/>
<circle cx="95.2" cy="523.7" r="1.1" fill="#fff"/>
<circle cx="85.8" cy="526.0" r="1.1" fill="#fff"/>
<circle cx="91.7" cy="526.5" r="1.1" fill="#fff"/>
<circle cx="82.9" cy="521.1" r="1.1" fill="#fff"/>
<circle cx="92.5" cy="521.0" r="1.1" fill="#fff"/>
<circle cx="145" cy="563" r="1.5" fill="#619CFF"/>
<circle cx="152" cy="570" r="1.5" fill="#619CFF"/>
<circle cx="160" cy="585" r="1.5" fill="#619CFF"/>
<circle cx="157" cy="605" r="1.5" fill="#619CFF"/>
<circle cx="150" cy="614" r="1.5" fill="#619CFF"/>
<circle cx="147" cy="560" r="1.5" fill="#619CFF"/>
<circle cx="150" cy="546" r="1.5" fill="#619CFF"/>
<circle cx="98" cy="536" r="1.5" fill="#619CFF"/>
<circle cx="92" cy="598" r="1.5" fill="#619CFF"/>
<circle cx="85" cy="596" r="1.5" fill="#619CFF"/>
<circle cx="66" cy="573" r="1.5" fill="#619CFF"/>
</g>
<rect x="28" y="468.6" width="218.1" height="190" fill="none" stroke="#4b5a7e" stroke-width="1"/>
<path d="M28,509.5 H31" stroke="#333" stroke-width="0.8"/>
<text x="24.6" y="513.0" font-size="9.7" text-anchor="end" font-family="Liberation Sans, Arial, sans-serif" stroke="#141414" stroke-width="0.1">5</text>
<path d="M28,563.2 H31" stroke="#333" stroke-width="0.8"/>
<text x="24.6" y="566.7" font-size="9.7" text-anchor="end" font-family="Liberation Sans, Arial, sans-serif" stroke="#141414" stroke-width="0.1">0</text>
<path d="M28,616.8 H31" stroke="#333" stroke-width="0.8"/>
<text x="24.6" y="620.3" font-size="9.7" text-anchor="end" font-family="Liberation Sans, Arial, sans-serif" stroke="#141414" stroke-width="0.1">-5</text>
<path d="M77.8,658.6 V654.8" stroke="#333" stroke-width="0.8"/>
<text x="77.8" y="671" font-size="9.7" text-anchor="middle" font-family="Liberation Sans, Arial, sans-serif" stroke="#141414" stroke-width="0.1">-4</text>
<path d="M137.8,658.6 V654.8" stroke="#333" stroke-width="0.8"/>
<text x="137.8" y="671" font-size="9.7" text-anchor="middle" font-family="Liberation Sans, Arial, sans-serif" stroke="#141414" stroke-width="0.1">0</text>
<path d="M197,658.6 V654.8" stroke="#333" stroke-width="0.8"/>
<text x="197" y="671" font-size="9.7" text-anchor="middle" font-family="Liberation Sans, Arial, sans-serif" stroke="#141414" stroke-width="0.1">4</text>
<text x="137.5" y="683.3" font-size="9.7" text-anchor="middle" font-family="Liberation Sans, Arial, sans-serif" stroke="#141414" stroke-width="0.1">UMAP_1</text>
<text transform="translate(13.6 565) rotate(-90)" x="0" y="0" font-size="9.7" text-anchor="middle" font-family="Liberation Sans, Arial, sans-serif" stroke="#141414" stroke-width="0.1">UMAP_2</text>
<circle cx="130.4" cy="478.4" r="2.7" fill="#F8766D"/>
<text x="136.4" y="481.8" font-size="10.1" font-family="Liberation Sans, Arial, sans-serif" stroke="#141414" stroke-width="0.1">CM</text>
<circle cx="160.1" cy="478.4" r="2.7" fill="#D39200"/>
<text x="166.5" y="481.8" font-size="10.1" font-family="Liberation Sans, Arial, sans-serif" stroke="#141414" stroke-width="0.1">MP</text>
<circle cx="189.2" cy="478.4" r="2.7" fill="#93AA00"/>
<text x="197.2" y="481.8" font-size="10.1" font-family="Liberation Sans, Arial, sans-serif" stroke="#141414" stroke-width="0.1">FB</text>
<circle cx="218.7" cy="478.4" r="2.7" fill="#00BA38"/>
<text x="224.3" y="481.8" font-size="10.1" font-family="Liberation Sans, Arial, sans-serif" stroke="#141414" stroke-width="0.1">EcC</text>
<circle cx="130.4" cy="491.1" r="2.7" fill="#00C19F"/>
<text x="136.4" y="494.5" font-size="10.1" font-family="Liberation Sans, Arial, sans-serif" stroke="#141414" stroke-width="0.1">B</text>
<circle cx="160.1" cy="491.1" r="2.7" fill="#00B9E3"/>
<text x="166.5" y="494.5" font-size="10.1" font-family="Liberation Sans, Arial, sans-serif" stroke="#141414" stroke-width="0.1">T</text>
<circle cx="189.2" cy="491.1" r="2.7" fill="#619CFF"/>
<text x="197.2" y="494.5" font-size="10.1" font-family="Liberation Sans, Arial, sans-serif" stroke="#141414" stroke-width="0.1">EC</text>
<circle cx="218.7" cy="491.1" r="2.7" fill="#FF61C3"/>
<text x="224.3" y="494.5" font-size="10.1" font-family="Liberation Sans, Arial, sans-serif" stroke="#141414" stroke-width="0.1">GN</text>
<circle cx="189.2" cy="505.7" r="2.7" fill="#DB72FB"/>
<text x="197.2" y="509.1" font-size="10.1" font-family="Liberation Sans, Arial, sans-serif" stroke="#141414" stroke-width="0.1">RBC</text>
<text x="274.9" y="460.2" font-size="9.6" font-weight="bold" font-family="Liberation Sans, Arial, sans-serif" stroke="#141414" stroke-width="0.1">C</text>
<rect x="276.2" y="468.6" width="320.7" height="151.6" fill="none" stroke="#4b5a7e" stroke-width="1"/>
<path d="M276.2,477.7 H279.3" stroke="#333" stroke-width="0.8"/>
<text x="272.2" y="481.2" font-size="9.7" text-anchor="end" font-family="Liberation Sans, Arial, sans-serif" stroke="#141414" stroke-width="0.1">T</text>
<circle cx="288.1" cy="477.7" r="0.7" fill="#c4c4c4"/>
<circle cx="300.0" cy="477.7" r="0.7" fill="#c4c4c4"/>
<circle cx="311.9" cy="477.7" r="1.0" fill="#a07ae8"/>
<circle cx="323.7" cy="477.7" r="3" fill="#d3d3d3"/>
<circle cx="335.6" cy="477.7" r="1.8" fill="#c0a8e8"/>
<circle cx="347.5" cy="477.7" r="3.2" fill="#c9bfe0"/>
<circle cx="359.4" cy="477.7" r="4.2" fill="#d3d3d3"/>
<circle cx="371.2" cy="477.7" r="1.8" fill="#d3d3d3"/>
<circle cx="383.1" cy="477.7" r="1.7" fill="#d3d3d3"/>
<circle cx="395.0" cy="477.7" r="1.4" fill="#d3d3d3"/>
<circle cx="406.9" cy="477.7" r="2.2" fill="#d3d3d3"/>
<circle cx="418.7" cy="477.7" r="1.2" fill="#d3d3d3"/>
<circle cx="430.6" cy="477.7" r="2.3" fill="#d3d3d3"/>
<circle cx="442.5" cy="477.7" r="2.3" fill="#d3d3d3"/>
<circle cx="454.4" cy="477.7" r="2.8" fill="#d3d3d3"/>
<circle cx="466.2" cy="477.7" r="1.3" fill="#d3d3d3"/>
<circle cx="478.1" cy="477.7" r="1.2" fill="#d3d3d3"/>
<circle cx="490.0" cy="477.7" r="3.6" fill="#d3d3d3"/>
<circle cx="501.9" cy="477.7" r="4.5" fill="#d3d3d3"/>
<circle cx="513.7" cy="477.7" r="4.5" fill="#d3d3d3"/>
<circle cx="525.6" cy="477.7" r="2.3" fill="#c9bfe0"/>
<circle cx="537.5" cy="477.7" r="2.0" fill="#c0a8e8"/>
<circle cx="549.4" cy="477.7" r="1.5" fill="#c0a8e8"/>
<circle cx="561.2" cy="477.7" r="2.7" fill="#0000ff"/>
<circle cx="573.1" cy="477.7" r="1.8" fill="#0000ff"/>
<circle cx="585.0" cy="477.7" r="2.7" fill="#0000ff"/>
<path d="M276.2,493.8 H279.3" stroke="#333" stroke-width="0.8"/>
<text x="272.2" y="497.3" font-size="9.7" text-anchor="end" font-family="Liberation Sans, Arial, sans-serif" stroke="#141414" stroke-width="0.1">MP</text>
<circle cx="288.1" cy="493.8" r="0.7" fill="#c4c4c4"/>
<circle cx="300.0" cy="493.8" r="0.7" fill="#c4c4c4"/>
<circle cx="311.9" cy="493.8" r="0.7" fill="#c4c4c4"/>
<circle cx="323.7" cy="493.8" r="3" fill="#d3d3d3"/>
<circle cx="335.6" cy="493.8" r="1.5" fill="#d3d3d3"/>
<circle cx="347.5" cy="493.8" r="3" fill="#d3d3d3"/>
<circle cx="359.4" cy="493.8" r="4.2" fill="#d3d3d3"/>
<circle cx="371.2" cy="493.8" r="1.9" fill="#d3d3d3"/>
<circle cx="383.1" cy="493.8" r="1.8" fill="#d3d3d3"/>
<circle cx="395.0" cy="493.8" r="1.5" fill="#d3d3d3"/>
<circle cx="406.9" cy="493.8" r="2.8" fill="#d3d3d3"/>
<circle cx="418.7" cy="493.8" r="1.2" fill="#d3d3d3"/>
<circle cx="430.6" cy="493.8" r="2.4" fill="#d3d3d3"/>
<circle cx="442.5" cy="493.8" r="2.4" fill="#c9bfe0"/>
<circle cx="454.4" cy="493.8" r="2.8" fill="#d3d3d3"/>
<circle cx="466.2" cy="493.8" r="1.0" fill="#d3d3d3"/>
<circle cx="478.1" cy="493.8" r="1.0" fill="#d3d3d3"/>
<circle cx="490.0" cy="493.8" r="3.6" fill="#c9bfe0"/>
<circle cx="501.9" cy="493.8" r="4.5" fill="#d3d3d3"/>
<circle cx="513.7" cy="493.8" r="4.3" fill="#c9bfe0"/>
<circle cx="525.6" cy="493.8" r="4.5" fill="#8a5ef0"/>
<circle cx="537.5" cy="493.8" r="4.6" fill="#0000ff"/>
<circle cx="549.4" cy="493.8" r="3.6" fill="#5a38f0"/>
<circle cx="561.2" cy="493.8" r="0.7" fill="#c4c4c4"/>
<circle cx="573.1" cy="493.8" r="0.7" fill="#c4c4c4"/>
<circle cx="585.0" cy="493.8" r="0.7" fill="#c4c4c4"/>
<path d="M276.2,509.8 H279.3" stroke="#333" stroke-width="0.8"/>
<text x="275.8" y="513.3" font-size="9.7" text-anchor="end" font-family="Liberation Sans, Arial, sans-serif" stroke="#141414" stroke-width="0.1">RBC</text>
<circle cx="288.1" cy="509.8" r="0.7" fill="#c4c4c4"/>
<circle cx="300.0" cy="509.8" r="0.7" fill="#c4c4c4"/>
<circle cx="311.9" cy="509.8" r="0.7" fill="#c4c4c4"/>
<circle cx="323.7" cy="509.8" r="3" fill="#d3d3d3"/>
<circle cx="335.6" cy="509.8" r="1.6" fill="#d3d3d3"/>
<circle cx="347.5" cy="509.8" r="3.2" fill="#d3d3d3"/>
<circle cx="359.4" cy="509.8" r="4.2" fill="#c0a8e8"/>
<circle cx="371.2" cy="509.8" r="2.2" fill="#d3d3d3"/>
<circle cx="383.1" cy="509.8" r="2.0" fill="#d3d3d3"/>
<circle cx="395.0" cy="509.8" r="1.5" fill="#d3d3d3"/>
<circle cx="406.9" cy="509.8" r="3.0" fill="#d3d3d3"/>
<circle cx="418.7" cy="509.8" r="1.4" fill="#d3d3d3"/>
<circle cx="430.6" cy="509.8" r="2.4" fill="#d3d3d3"/>
<circle cx="442.5" cy="509.8" r="2.3" fill="#d3d3d3"/>
<circle cx="454.4" cy="509.8" r="3.2" fill="#d3d3d3"/>
<circle cx="466.2" cy="509.8" r="1.2" fill="#d3d3d3"/>
<circle cx="478.1" cy="509.8" r="1.1" fill="#d3d3d3"/>
<circle cx="490.0" cy="509.8" r="4.5" fill="#8a5ef0"/>
<circle cx="501.9" cy="509.8" r="4.8" fill="#8a5ef0"/>
<circle cx="513.7" cy="509.8" r="4.8" fill="#a07ae8"/>
<circle cx="525.6" cy="509.8" r="2.1" fill="#d3d3d3"/>
<circle cx="537.5" cy="509.8" r="1.8" fill="#d3d3d3"/>
<circle cx="549.4" cy="509.8" r="1.2" fill="#d3d3d3"/>
<circle cx="561.2" cy="509.8" r="0.7" fill="#c4c4c4"/>
<circle cx="573.1" cy="509.8" r="0.7" fill="#c4c4c4"/>
<circle cx="585.0" cy="509.8" r="0.7" fill="#c4c4c4"/>
<path d="M276.2,525.9 H279.3" stroke="#333" stroke-width="0.8"/>
<text x="272.2" y="529.4" font-size="9.7" text-anchor="end" font-family="Liberation Sans, Arial, sans-serif" stroke="#141414" stroke-width="0.1">GN</text>
<circle cx="288.1" cy="525.9" r="0.7" fill="#c4c4c4"/>
<circle cx="300.0" cy="525.9" r="0.7" fill="#c4c4c4"/>
<circle cx="311.9" cy="525.9" r="0.7" fill="#c4c4c4"/>
<circle cx="323.7" cy="525.9" r="2.4" fill="#d3d3d3"/>
<circle cx="335.6" cy="525.9" r="1.3" fill="#d3d3d3"/>
<circle cx="347.5" cy="525.9" r="2.5" fill="#d3d3d3"/>
<circle cx="359.4" cy="525.9" r="4.2" fill="#d3d3d3"/>
<circle cx="371.2" cy="525.9" r="1.9" fill="#d3d3d3"/>
<circle cx="383.1" cy="525.9" r="1.7" fill="#d3d3d3"/>
<circle cx="395.0" cy="525.9" r="1.4" fill="#d3d3d3"/>
<circle cx="406.9" cy="525.9" r="3.0" fill="#d3d3d3"/>
<circle cx="418.7" cy="525.9" r="1.2" fill="#d3d3d3"/>
<circle cx="430.6" cy="525.9" r="3.0" fill="#c0a8e8"/>
<circle cx="442.5" cy="525.9" r="2.5" fill="#c9bfe0"/>
<circle cx="454.4" cy="525.9" r="3.4" fill="#a07ae8"/>
<circle cx="466.2" cy="525.9" r="3.7" fill="#0000ff"/>
<circle cx="478.1" cy="525.9" r="3.7" fill="#0000ff"/>
<circle cx="490.0" cy="525.9" r="4.3" fill="#c0a8e8"/>
<circle cx="501.9" cy="525.9" r="4.6" fill="#c0a8e8"/>
<circle cx="513.7" cy="525.9" r="4.6" fill="#c0a8e8"/>
<circle cx="525.6" cy="525.9" r="3.5" fill="#a07ae8"/>
<circle cx="537.5" cy="525.9" r="2.0" fill="#d3d3d3"/>
<circle cx="549.4" cy="525.9" r="2.5" fill="#a07ae8"/>
<circle cx="561.2" cy="525.9" r="0.7" fill="#c4c4c4"/>
<circle cx="573.1" cy="525.9" r="0.7" fill="#c4c4c4"/>
<circle cx="585.0" cy="525.9" r="0.7" fill="#c4c4c4"/>
<path d="M276.2,542.0 H279.3" stroke="#333" stroke-width="0.8"/>
<text x="272.2" y="545.5" font-size="9.7" text-anchor="end" font-family="Liberation Sans, Arial, sans-serif" stroke="#141414" stroke-width="0.1">FB</text>
<circle cx="288.1" cy="542.0" r="0.7" fill="#c4c4c4"/>
<circle cx="300.0" cy="542.0" r="0.7" fill="#c4c4c4"/>
<circle cx="311.9" cy="542.0" r="0.7" fill="#c4c4c4"/>
<circle cx="323.7" cy="542.0" r="3" fill="#d3d3d3"/>
<circle cx="335.6" cy="542.0" r="1.5" fill="#d3d3d3"/>
<circle cx="347.5" cy="542.0" r="3.2" fill="#d3d3d3"/>
<circle cx="359.4" cy="542.0" r="4.2" fill="#d3d3d3"/>
<circle cx="371.2" cy="542.0" r="1.9" fill="#d3d3d3"/>
<circle cx="383.1" cy="542.0" r="1.7" fill="#d3d3d3"/>
<circle cx="395.0" cy="542.0" r="2.0" fill="#c0a8e8"/>
<circle cx="406.9" cy="542.0" r="3.0" fill="#c9bfe0"/>
<circle cx="418.7" cy="542.0" r="1.2" fill="#d3d3d3"/>
<circle cx="430.6" cy="542.0" r="4.0" fill="#2a14f4"/>
<circle cx="442.5" cy="542.0" r="4.0" fill="#0000ff"/>
<circle cx="454.4" cy="542.0" r="4.0" fill="#5a38f0"/>
<circle cx="466.2" cy="542.0" r="1.0" fill="#d3d3d3"/>
<circle cx="478.1" cy="542.0" r="1.0" fill="#d3d3d3"/>
<circle cx="490.0" cy="542.0" r="3.6" fill="#c9bfe0"/>
<circle cx="501.9" cy="542.0" r="4.5" fill="#c9bfe0"/>
<circle cx="513.7" cy="542.0" r="4.5" fill="#c9bfe0"/>
<circle cx="525.6" cy="542.0" r="2.0" fill="#d3d3d3"/>
<circle cx="537.5" cy="542.0" r="1.8" fill="#d3d3d3"/>
<circle cx="549.4" cy="542.0" r="1.1" fill="#d3d3d3"/>
<circle cx="561.2" cy="542.0" r="0.7" fill="#c4c4c4"/>
<circle cx="573.1" cy="542.0" r="0.7" fill="#c4c4c4"/>
<circle cx="585.0" cy="542.0" r="0.7" fill="#c4c4c4"/>
<path d="M276.2,558.0 H279.3" stroke="#333" stroke-width="0.8"/>
<text x="273.3" y="561.5" font-size="9.7" text-anchor="end" font-family="Liberation Sans, Arial, sans-serif" stroke="#141414" stroke-width="0.1">EcC</text>
<circle cx="288.1" cy="558.0" r="0.7" fill="#c4c4c4"/>
<circle cx="300.0" cy="558.0" r="0.7" fill="#c4c4c4"/>
<circle cx="311.9" cy="558.0" r="0.7" fill="#c4c4c4"/>
<circle cx="323.7" cy="558.0" r="3" fill="#c9bfe0"/>
<circle cx="335.6" cy="558.0" r="1.8" fill="#c0a8e8"/>
<circle cx="347.5" cy="558.0" r="3.2" fill="#c9bfe0"/>
<circle cx="359.4" cy="558.0" r="4.2" fill="#c9bfe0"/>
<circle cx="371.2" cy="558.0" r="3.0" fill="#a07ae8"/>
<circle cx="383.1" cy="558.0" r="3.5" fill="#5a38f0"/>
<circle cx="395.0" cy="558.0" r="3.8" fill="#0000ff"/>
<circle cx="406.9" cy="558.0" r="4.3" fill="#2a14f4"/>
<circle cx="418.7" cy="558.0" r="3.6" fill="#0000ff"/>
<circle cx="430.6" cy="558.0" r="2.3" fill="#d3d3d3"/>
<circle cx="442.5" cy="558.0" r="2.0" fill="#d3d3d3"/>
<circle cx="454.4" cy="558.0" r="2.3" fill="#d3d3d3"/>
<circle cx="466.2" cy="558.0" r="1.1" fill="#d3d3d3"/>
<circle cx="478.1" cy="558.0" r="1.0" fill="#d3d3d3"/>
<circle cx="490.0" cy="558.0" r="3.2" fill="#d3d3d3"/>
<circle cx="501.9" cy="558.0" r="4.3" fill="#d3d3d3"/>
<circle cx="513.7" cy="558.0" r="4.3" fill="#d3d3d3"/>
<circle cx="525.6" cy="558.0" r="1.9" fill="#d3d3d3"/>
<circle cx="537.5" cy="558.0" r="1.8" fill="#d3d3d3"/>
<circle cx="549.4" cy="558.0" r="1.1" fill="#d3d3d3"/>
<circle cx="561.2" cy="558.0" r="0.7" fill="#c4c4c4"/>
<circle cx="573.1" cy="558.0" r="0.7" fill="#c4c4c4"/>
<circle cx="585.0" cy="558.0" r="0.7" fill="#c4c4c4"/>
<path d="M276.2,574.1 H279.3" stroke="#333" stroke-width="0.8"/>
<text x="272.2" y="577.6" font-size="9.7" text-anchor="end" font-family="Liberation Sans, Arial, sans-serif" stroke="#141414" stroke-width="0.1">EC</text>
<circle cx="288.1" cy="574.1" r="0.7" fill="#c4c4c4"/>
<circle cx="300.0" cy="574.1" r="0.7" fill="#c4c4c4"/>
<circle cx="311.9" cy="574.1" r="0.7" fill="#c4c4c4"/>
<circle cx="323.7" cy="574.1" r="2.8" fill="#d3d3d3"/>
<circle cx="335.6" cy="574.1" r="1.5" fill="#d3d3d3"/>
<circle cx="347.5" cy="574.1" r="3.2" fill="#d3d3d3"/>
<circle cx="359.4" cy="574.1" r="4.8" fill="#2a14f4"/>
<circle cx="371.2" cy="574.1" r="3.5" fill="#5a38f0"/>
<circle cx="383.1" cy="574.1" r="2.8" fill="#a07ae8"/>
<circle cx="395.0" cy="574.1" r="2.0" fill="#c0a8e8"/>
<circle cx="406.9" cy="574.1" r="3.3" fill="#c0a8e8"/>
<circle cx="418.7" cy="574.1" r="1.4" fill="#d3d3d3"/>
<circle cx="430.6" cy="574.1" r="2.3" fill="#d3d3d3"/>
<circle cx="442.5" cy="574.1" r="2.5" fill="#c9bfe0"/>
<circle cx="454.4" cy="574.1" r="2.8" fill="#d3d3d3"/>
<circle cx="466.2" cy="574.1" r="1.0" fill="#d3d3d3"/>
<circle cx="478.1" cy="574.1" r="1.0" fill="#d3d3d3"/>
<circle cx="490.0" cy="574.1" r="3.8" fill="#d3d3d3"/>
<circle cx="501.9" cy="574.1" r="4.5" fill="#d3d3d3"/>
<circle cx="513.7" cy="574.1" r="4.4" fill="#d3d3d3"/>
<circle cx="525.6" cy="574.1" r="2.1" fill="#d3d3d3"/>
<circle cx="537.5" cy="574.1" r="1.8" fill="#d3d3d3"/>
<circle cx="549.4" cy="574.1" r="1.2" fill="#d3d3d3"/>
<circle cx="561.2" cy="574.1" r="0.7" fill="#c4c4c4"/>
<circle cx="573.1" cy="574.1" r="0.7" fill="#c4c4c4"/>
<circle cx="585.0" cy="574.1" r="0.7" fill="#c4c4c4"/>
<path d="M276.2,590.2 H279.3" stroke="#333" stroke-width="0.8"/>
<text x="272.2" y="593.7" font-size="9.7" text-anchor="end" font-family="Liberation Sans, Arial, sans-serif" stroke="#141414" stroke-width="0.1">CM</text>
<circle cx="288.1" cy="590.2" r="0.7" fill="#c4c4c4"/>
<circle cx="300.0" cy="590.2" r="0.7" fill="#c4c4c4"/>
<circle cx="311.9" cy="590.2" r="0.7" fill="#c4c4c4"/>
<circle cx="323.7" cy="590.2" r="4.8" fill="#0000ff"/>
<circle cx="335.6" cy="590.2" r="4.3" fill="#0000ff"/>
<circle cx="347.5" cy="590.2" r="4.8" fill="#3a1ef0"/>
<circle cx="359.4" cy="590.2" r="4.2" fill="#d3d3d3"/>
<circle cx="371.2" cy="590.2" r="2.1" fill="#d3d3d3"/>
<circle cx="383.1" cy="590.2" r="2.0" fill="#d3d3d3"/>
<circle cx="395.0" cy="590.2" r="1.6" fill="#d3d3d3"/>
<circle cx="406.9" cy="590.2" r="2.5" fill="#d3d3d3"/>
<circle cx="418.7" cy="590.2" r="0.7" fill="#c4c4c4"/>
<circle cx="430.6" cy="590.2" r="1.4" fill="#d3d3d3"/>
<circle cx="442.5" cy="590.2" r="1.4" fill="#d3d3d3"/>
<circle cx="454.4" cy="590.2" r="1.5" fill="#d3d3d3"/>
<circle cx="466.2" cy="590.2" r="0.7" fill="#d3d3d3"/>
<circle cx="478.1" cy="590.2" r="0.7" fill="#c4c4c4"/>
<circle cx="490.0" cy="590.2" r="2.0" fill="#d3d3d3"/>
<circle cx="501.9" cy="590.2" r="2.8" fill="#d3d3d3"/>
<circle cx="513.7" cy="590.2" r="2.8" fill="#d3d3d3"/>
<circle cx="525.6" cy="590.2" r="1.2" fill="#d3d3d3"/>
<circle cx="537.5" cy="590.2" r="1.2" fill="#d3d3d3"/>
<circle cx="549.4" cy="590.2" r="1.0" fill="#d3d3d3"/>
<circle cx="561.2" cy="590.2" r="0.7" fill="#c4c4c4"/>
<circle cx="573.1" cy="590.2" r="0.7" fill="#c4c4c4"/>
<circle cx="585.0" cy="590.2" r="0.7" fill="#c4c4c4"/>
<path d="M276.2,606.3 H279.3" stroke="#333" stroke-width="0.8"/>
<text x="272.2" y="609.8" font-size="9.7" text-anchor="end" font-family="Liberation Sans, Arial, sans-serif" stroke="#141414" stroke-width="0.1">B</text>
<circle cx="288.1" cy="606.3" r="3.5" fill="#0000ff"/>
<circle cx="300.0" cy="606.3" r="3.0" fill="#0000ff"/>
<circle cx="311.9" cy="606.3" r="3.3" fill="#0000ff"/>
<circle cx="323.7" cy="606.3" r="3" fill="#c0a8e8"/>
<circle cx="335.6" cy="606.3" r="1.5" fill="#d3d3d3"/>
<circle cx="347.5" cy="606.3" r="3.2" fill="#c0a8e8"/>
<circle cx="359.4" cy="606.3" r="3.7" fill="#d3d3d3"/>
<circle cx="371.2" cy="606.3" r="1.8" fill="#d3d3d3"/>
<circle cx="383.1" cy="606.3" r="1.7" fill="#d3d3d3"/>
<circle cx="395.0" cy="606.3" r="1.5" fill="#d3d3d3"/>
<circle cx="406.9" cy="606.3" r="2.2" fill="#d3d3d3"/>
<circle cx="418.7" cy="606.3" r="0.9" fill="#d3d3d3"/>
<circle cx="430.6" cy="606.3" r="2.3" fill="#d3d3d3"/>
<circle cx="442.5" cy="606.3" r="2.4" fill="#d3d3d3"/>
<circle cx="454.4" cy="606.3" r="2.8" fill="#d3d3d3"/>
<circle cx="466.2" cy="606.3" r="1.0" fill="#d3d3d3"/>
<circle cx="478.1" cy="606.3" r="1.0" fill="#d3d3d3"/>
<circle cx="490.0" cy="606.3" r="3.5" fill="#c0a8e8"/>
<circle cx="501.9" cy="606.3" r="4.7" fill="#c0a8e8"/>
<circle cx="513.7" cy="606.3" r="4.4" fill="#d3d3d3"/>
<circle cx="525.6" cy="606.3" r="3.0" fill="#c0a8e8"/>
<circle cx="537.5" cy="606.3" r="1.6" fill="#d3d3d3"/>
<circle cx="549.4" cy="606.3" r="1.2" fill="#d3d3d3"/>
<circle cx="561.2" cy="606.3" r="0.7" fill="#c4c4c4"/>
<circle cx="573.1" cy="606.3" r="0.7" fill="#c4c4c4"/>
<circle cx="585.0" cy="606.3" r="0.7" fill="#c4c4c4"/>
<path d="M288.1,620.2 V617" stroke="#333" stroke-width="0.8"/>
<text transform="translate(287.4 626.8) rotate(-44)" x="0" y="0" font-size="9.8" font-style="italic" text-anchor="end" font-family="Liberation Sans, Arial, sans-serif" stroke="#141414" stroke-width="0.1">Cd79a</text>
<path d="M300.0,620.2 V617" stroke="#333" stroke-width="0.8"/>
<text transform="translate(299.7 626.8) rotate(-44)" x="0" y="0" font-size="9.8" font-style="italic" text-anchor="end" font-family="Liberation Sans, Arial, sans-serif" stroke="#141414" stroke-width="0.1">Cd79b</text>
<path d="M311.9,620.2 V617" stroke="#333" stroke-width="0.8"/>
<text transform="translate(312.0 626.8) rotate(-44)" x="0" y="0" font-size="9.8" font-style="italic" text-anchor="end" font-family="Liberation Sans, Arial, sans-serif" stroke="#141414" stroke-width="0.1">Ly6d</text>
<path d="M323.7,620.2 V617" stroke="#333" stroke-width="0.8"/>
<text transform="translate(324.3 626.8) rotate(-44)" x="0" y="0" font-size="9.8" font-style="italic" text-anchor="end" font-family="Liberation Sans, Arial, sans-serif" stroke="#141414" stroke-width="0.1">Tnnc1</text>
<path d="M335.6,620.2 V617" stroke="#333" stroke-width="0.8"/>
<text transform="translate(336.6 626.8) rotate(-44)" x="0" y="0" font-size="9.8" font-style="italic" text-anchor="end" font-family="Liberation Sans, Arial, sans-serif" stroke="#141414" stroke-width="0.1">Actn2</text>
<path d="M347.5,620.2 V617" stroke="#333" stroke-width="0.8"/>
<text transform="translate(348.9 626.8) rotate(-44)" x="0" y="0" font-size="9.8" font-style="italic" text-anchor="end" font-family="Liberation Sans, Arial, sans-serif" stroke="#141414" stroke-width="0.1">Myh6</text>
<path d="M359.4,620.2 V617" stroke="#333" stroke-width="0.8"/>
<text transform="translate(361.2 626.8) rotate(-44)" x="0" y="0" font-size="9.8" font-style="italic" text-anchor="end" font-family="Liberation Sans, Arial, sans-serif" stroke="#141414" stroke-width="0.1">Fabp4</text>
<path d="M371.2,620.2 V617" stroke="#333" stroke-width="0.8"/>
<text transform="translate(373.5 626.8) rotate(-44)" x="0" y="0" font-size="9.8" font-style="italic" text-anchor="end" font-family="Liberation Sans, Arial, sans-serif" stroke="#141414" stroke-width="0.1">Cdh5</text>
<path d="M383.1,620.2 V617" stroke="#333" stroke-width="0.8"/>
<text transform="translate(385.8 626.8) rotate(-44)" x="0" y="0" font-size="9.8" font-style="italic" text-anchor="end" font-family="Liberation Sans, Arial, sans-serif" stroke="#141414" stroke-width="0.1">Pecam1</text>
<path d="M395.0,620.2 V617" stroke="#333" stroke-width="0.8"/>
<text transform="translate(398.1 626.8) rotate(-44)" x="0" y="0" font-size="9.8" font-style="italic" text-anchor="end" font-family="Liberation Sans, Arial, sans-serif" stroke="#141414" stroke-width="0.1">Ece1</text>
<path d="M406.9,620.2 V617" stroke="#333" stroke-width="0.8"/>
<text transform="translate(410.4 626.8) rotate(-44)" x="0" y="0" font-size="9.8" font-style="italic" text-anchor="end" font-family="Liberation Sans, Arial, sans-serif" stroke="#141414" stroke-width="0.1">Tm4sf1</text>
<path d="M418.7,620.2 V617" stroke="#333" stroke-width="0.8"/>
<text transform="translate(422.7 626.8) rotate(-44)" x="0" y="0" font-size="9.8" font-style="italic" text-anchor="end" font-family="Liberation Sans, Arial, sans-serif" stroke="#141414" stroke-width="0.1">Vwf</text>
<path d="M430.6,620.2 V617" stroke="#333" stroke-width="0.8"/>
<text transform="translate(435.0 626.8) rotate(-44)" x="0" y="0" font-size="9.8" font-style="italic" text-anchor="end" font-family="Liberation Sans, Arial, sans-serif" stroke="#141414" stroke-width="0.1">Col1a2</text>
<path d="M442.5,620.2 V617" stroke="#333" stroke-width="0.8"/>
<text transform="translate(447.3 626.8) rotate(-44)" x="0" y="0" font-size="9.8" font-style="italic" text-anchor="end" font-family="Liberation Sans, Arial, sans-serif" stroke="#141414" stroke-width="0.1">Dpt</text>
<path d="M454.4,620.2 V617" stroke="#333" stroke-width="0.8"/>
<text transform="translate(459.6 626.8) rotate(-44)" x="0" y="0" font-size="9.8" font-style="italic" text-anchor="end" font-family="Liberation Sans, Arial, sans-serif" stroke="#141414" stroke-width="0.1">Col3a1</text>
<path d="M466.2,620.2 V617" stroke="#333" stroke-width="0.8"/>
<text transform="translate(471.9 626.8) rotate(-44)" x="0" y="0" font-size="9.8" font-style="italic" text-anchor="end" font-family="Liberation Sans, Arial, sans-serif" stroke="#141414" stroke-width="0.1">S100a8</text>
<path d="M478.1,620.2 V617" stroke="#333" stroke-width="0.8"/>
<text transform="translate(484.2 626.8) rotate(-44)" x="0" y="0" font-size="9.8" font-style="italic" text-anchor="end" font-family="Liberation Sans, Arial, sans-serif" stroke="#141414" stroke-width="0.1">S100a9</text>
<path d="M490.0,620.2 V617" stroke="#333" stroke-width="0.8"/>
<text transform="translate(496.5 626.8) rotate(-44)" x="0" y="0" font-size="9.8" font-style="italic" text-anchor="end" font-family="Liberation Sans, Arial, sans-serif" stroke="#141414" stroke-width="0.1">Hbb-bt</text>
<path d="M501.9,620.2 V617" stroke="#333" stroke-width="0.8"/>
<text transform="translate(508.8 626.8) rotate(-44)" x="0" y="0" font-size="9.8" font-style="italic" text-anchor="end" font-family="Liberation Sans, Arial, sans-serif" stroke="#141414" stroke-width="0.1">Hba-a2</text>
<path d="M513.7,620.2 V617" stroke="#333" stroke-width="0.8"/>
<text transform="translate(521.1 626.8) rotate(-44)" x="0" y="0" font-size="9.8" font-style="italic" text-anchor="end" font-family="Liberation Sans, Arial, sans-serif" stroke="#141414" stroke-width="0.1">Hbb-bs</text>
<path d="M525.6,620.2 V617" stroke="#333" stroke-width="0.8"/>
<text transform="translate(533.4 626.8) rotate(-44)" x="0" y="0" font-size="9.8" font-style="italic" text-anchor="end" font-family="Liberation Sans, Arial, sans-serif" stroke="#141414" stroke-width="0.1">Ctss</text>
<path d="M537.5,620.2 V617" stroke="#333" stroke-width="0.8"/>
<text transform="translate(545.7 626.8) rotate(-44)" x="0" y="0" font-size="9.8" font-style="italic" text-anchor="end" font-family="Liberation Sans, Arial, sans-serif" stroke="#141414" stroke-width="0.1">C1qa</text>
<path d="M549.4,620.2 V617" stroke="#333" stroke-width="0.8"/>
<text transform="translate(558.0 626.8) rotate(-44)" x="0" y="0" font-size="9.8" font-style="italic" text-anchor="end" font-family="Liberation Sans, Arial, sans-serif" stroke="#141414" stroke-width="0.1">Cd68</text>
<path d="M561.2,620.2 V617" stroke="#333" stroke-width="0.8"/>
<text transform="translate(570.3 626.8) rotate(-44)" x="0" y="0" font-size="9.8" font-style="italic" text-anchor="end" font-family="Liberation Sans, Arial, sans-serif" stroke="#141414" stroke-width="0.1">Cd3d</text>
<path d="M573.1,620.2 V617" stroke="#333" stroke-width="0.8"/>
<text transform="translate(582.6 626.8) rotate(-44)" x="0" y="0" font-size="9.8" font-style="italic" text-anchor="end" font-family="Liberation Sans, Arial, sans-serif" stroke="#141414" stroke-width="0.1">Cd3e</text>
<path d="M585.0,620.2 V617" stroke="#333" stroke-width="0.8"/>
<text transform="translate(594.9 626.8) rotate(-44)" x="0" y="0" font-size="9.8" font-style="italic" text-anchor="end" font-family="Liberation Sans, Arial, sans-serif" stroke="#141414" stroke-width="0.1">Cd3g</text>
<defs><linearGradient id="cb" x1="0" y1="0" x2="0" y2="1"><stop offset="0" stop-color="#0000ff"/><stop offset="0.25" stop-color="#4b32f6"/><stop offset="0.5" stop-color="#7b62ee"/><stop offset="0.75" stop-color="#a994e2"/><stop offset="1" stop-color="#d0d0d6"/></linearGradient></defs>
<rect x="606.3" y="467.8" width="8" height="46.1" fill="url(#cb)"/>
<text x="634.8" y="471.3" font-size="9.7" text-anchor="end" font-family="Liberation Sans, Arial, sans-serif" stroke="#141414" stroke-width="0.1">3.0</text>
<text x="634.8" y="486.8" font-size="9.7" text-anchor="end" font-family="Liberation Sans, Arial, sans-serif" stroke="#141414" stroke-width="0.1">2.0</text>
<text x="634.8" y="502" font-size="9.7" text-anchor="end" font-family="Liberation Sans, Arial, sans-serif" stroke="#141414" stroke-width="0.1">1.0</text>
<text x="634.8" y="516.3" font-size="9.7" text-anchor="end" font-family="Liberation Sans, Arial, sans-serif" stroke="#141414" stroke-width="0.1">0.0</text>
<path d="M606.3,475.4 H608 M612.6,475.4 H614.3" stroke="#fff" stroke-width="0.6" opacity="0.8"/>
<path d="M606.3,483.3 H608 M612.6,483.3 H614.3" stroke="#fff" stroke-width="0.6" opacity="0.8"/>
<path d="M606.3,491.5 H608 M612.6,491.5 H614.3" stroke="#fff" stroke-width="0.6" opacity="0.8"/>
<path d="M606.3,498.5 H608 M612.6,498.5 H614.3" stroke="#fff" stroke-width="0.6" opacity="0.8"/>
<path d="M606.3,506.6 H608 M612.6,506.6 H614.3" stroke="#fff" stroke-width="0.6" opacity="0.8"/>
<text x="622.7" y="528.5" font-size="9.7" text-anchor="middle" font-family="Liberation Sans, Arial, sans-serif" stroke="#141414" stroke-width="0.1">Average</text>
<text x="624.5" y="539.7" font-size="9.7" text-anchor="middle" font-family="Liberation Sans, Arial, sans-serif" stroke="#141414" stroke-width="0.1">Expression</text>
<circle cx="611.4" cy="557.1" r="2.4" fill="#000"/>
<text x="625" y="561.1" font-size="9.7" font-family="Liberation Sans, Arial, sans-serif" stroke="#141414" stroke-width="0.1">25</text>
<circle cx="611.4" cy="569.7" r="4.2" fill="#000"/>
<text x="625" y="574.2" font-size="9.7" font-family="Liberation Sans, Arial, sans-serif" stroke="#141414" stroke-width="0.1">50</text>
<circle cx="611.4" cy="583.1" r="5.1" fill="#000"/>
<text x="625" y="587.4" font-size="9.7" font-family="Liberation Sans, Arial, sans-serif" stroke="#141414" stroke-width="0.1">75</text>
<text x="622.6" y="602.3" font-size="9.7" text-anchor="middle" font-family="Liberation Sans, Arial, sans-serif" stroke="#141414" stroke-width="0.1">Percent</text>
<text x="623.8" y="612.8" font-size="9.7" text-anchor="middle" font-family="Liberation Sans, Arial, sans-serif" stroke="#141414" stroke-width="0.1">Expressed</text>
</svg>
</body></html>
